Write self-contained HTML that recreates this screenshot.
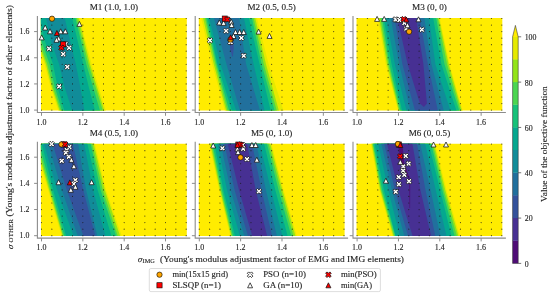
<!DOCTYPE html><html><head><meta charset="utf-8"><style>html,body{margin:0;padding:0;background:#fff;}svg{display:block;filter:blur(0.3px);}text{font-family:"Liberation Serif",serif;fill:#262626;stroke:#262626;stroke-width:0.12px;}</style></head><body>
<svg width="550" height="296" viewBox="0 0 550 296">
<rect width="550" height="296" fill="#fff"/>
<defs>
<clipPath id="c0"><rect x="40.9" y="18.1" width="145.9" height="92.3"/></clipPath>
<clipPath id="c1"><rect x="198.7" y="18.1" width="145.9" height="92.3"/></clipPath>
<clipPath id="c2"><rect x="356.5" y="18.1" width="145.9" height="92.3"/></clipPath>
<clipPath id="c3"><rect x="40.9" y="143.7" width="145.9" height="92.3"/></clipPath>
<clipPath id="c4"><rect x="198.7" y="143.7" width="145.9" height="92.3"/></clipPath>
<clipPath id="c5"><rect x="356.5" y="143.7" width="145.9" height="92.3"/></clipPath>
</defs>
<g clip-path="url(#c0)">
<rect x="40.5" y="17.5" width="146.7" height="93.6" fill="#ffec00"/>
<polygon points="26.4,13.92 28.1,18.5 36.6,41.4 44.6,64.3 50.6,87.2 58.1,110.1 59.6,114.68 106.96,114.68 105.6,110.1 98.8,87.2 91.7,64.3 85.7,41.4 79.6,18.5 78.38,13.92" fill="#e5ea00"/>
<polygon points="27.96,13.92 29.6,18.5 37.8,41.4 45.9,64.3 51.8,87.2 59.3,110.1 60.8,114.68 105.5,114.68 104.1,110.1 97.1,87.2 90,64.3 84.4,41.4 78.6,18.5 77.44,13.92" fill="#93e418"/>
<polygon points="29.5,13.92 31.1,18.5 39.1,41.4 47.3,64.3 53,87.2 60.5,110.1 62,114.68 104,114.68 102.6,110.1 95.6,87.2 88.5,64.3 82.8,41.4 76.9,18.5 75.72,13.92" fill="#4bd650"/>
<polygon points="32.6,13.92 34.1,18.5 41.6,41.4 49.6,64.3 54.9,87.2 61.9,110.1 63.3,114.68 101.14,114.68 99.8,110.1 93.1,87.2 86.3,64.3 81.1,41.4 75.5,18.5 74.38,13.92" fill="#15c279"/>
<polygon points="37.9,13.92 39.1,18.5 45.1,41.4 53,64.3 57.6,87.2 64.1,110.1 65.4,114.68 96,114.68 94.8,110.1 88.8,87.2 83.3,64.3 77.8,41.4 72.3,18.5 71.2,13.92" fill="#04a88f"/>
<polygon points="45.1,13.92 46.1,18.5 51.1,41.4 59.1,64.3 64.6,87.2 72.1,110.1 73.6,114.68 85.1,114.68 84.3,110.1 80.3,87.2 75.8,64.3 70.3,41.4 64.8,18.5 63.7,13.92" fill="#118c99"/>
</g>
<path d="M40.9 18.5a0.6 0.6 0 1 0 1.2 0a0.6 0.6 0 1 0 -1.2 0M40.9 25.04a0.6 0.6 0 1 0 1.2 0a0.6 0.6 0 1 0 -1.2 0M40.9 31.59a0.6 0.6 0 1 0 1.2 0a0.6 0.6 0 1 0 -1.2 0M40.9 38.13a0.6 0.6 0 1 0 1.2 0a0.6 0.6 0 1 0 -1.2 0M40.9 44.67a0.6 0.6 0 1 0 1.2 0a0.6 0.6 0 1 0 -1.2 0M40.9 51.21a0.6 0.6 0 1 0 1.2 0a0.6 0.6 0 1 0 -1.2 0M40.9 57.76a0.6 0.6 0 1 0 1.2 0a0.6 0.6 0 1 0 -1.2 0M40.9 64.3a0.6 0.6 0 1 0 1.2 0a0.6 0.6 0 1 0 -1.2 0M40.9 70.84a0.6 0.6 0 1 0 1.2 0a0.6 0.6 0 1 0 -1.2 0M40.9 77.39a0.6 0.6 0 1 0 1.2 0a0.6 0.6 0 1 0 -1.2 0M40.9 83.93a0.6 0.6 0 1 0 1.2 0a0.6 0.6 0 1 0 -1.2 0M40.9 90.47a0.6 0.6 0 1 0 1.2 0a0.6 0.6 0 1 0 -1.2 0M40.9 97.01a0.6 0.6 0 1 0 1.2 0a0.6 0.6 0 1 0 -1.2 0M40.9 103.56a0.6 0.6 0 1 0 1.2 0a0.6 0.6 0 1 0 -1.2 0M40.9 110.1a0.6 0.6 0 1 0 1.2 0a0.6 0.6 0 1 0 -1.2 0M51.24 18.5a0.6 0.6 0 1 0 1.2 0a0.6 0.6 0 1 0 -1.2 0M51.24 25.04a0.6 0.6 0 1 0 1.2 0a0.6 0.6 0 1 0 -1.2 0M51.24 31.59a0.6 0.6 0 1 0 1.2 0a0.6 0.6 0 1 0 -1.2 0M51.24 38.13a0.6 0.6 0 1 0 1.2 0a0.6 0.6 0 1 0 -1.2 0M51.24 44.67a0.6 0.6 0 1 0 1.2 0a0.6 0.6 0 1 0 -1.2 0M51.24 51.21a0.6 0.6 0 1 0 1.2 0a0.6 0.6 0 1 0 -1.2 0M51.24 57.76a0.6 0.6 0 1 0 1.2 0a0.6 0.6 0 1 0 -1.2 0M51.24 64.3a0.6 0.6 0 1 0 1.2 0a0.6 0.6 0 1 0 -1.2 0M51.24 70.84a0.6 0.6 0 1 0 1.2 0a0.6 0.6 0 1 0 -1.2 0M51.24 77.39a0.6 0.6 0 1 0 1.2 0a0.6 0.6 0 1 0 -1.2 0M51.24 83.93a0.6 0.6 0 1 0 1.2 0a0.6 0.6 0 1 0 -1.2 0M51.24 90.47a0.6 0.6 0 1 0 1.2 0a0.6 0.6 0 1 0 -1.2 0M51.24 97.01a0.6 0.6 0 1 0 1.2 0a0.6 0.6 0 1 0 -1.2 0M51.24 103.56a0.6 0.6 0 1 0 1.2 0a0.6 0.6 0 1 0 -1.2 0M51.24 110.1a0.6 0.6 0 1 0 1.2 0a0.6 0.6 0 1 0 -1.2 0M61.57 18.5a0.6 0.6 0 1 0 1.2 0a0.6 0.6 0 1 0 -1.2 0M61.57 25.04a0.6 0.6 0 1 0 1.2 0a0.6 0.6 0 1 0 -1.2 0M61.57 31.59a0.6 0.6 0 1 0 1.2 0a0.6 0.6 0 1 0 -1.2 0M61.57 38.13a0.6 0.6 0 1 0 1.2 0a0.6 0.6 0 1 0 -1.2 0M61.57 44.67a0.6 0.6 0 1 0 1.2 0a0.6 0.6 0 1 0 -1.2 0M61.57 51.21a0.6 0.6 0 1 0 1.2 0a0.6 0.6 0 1 0 -1.2 0M61.57 57.76a0.6 0.6 0 1 0 1.2 0a0.6 0.6 0 1 0 -1.2 0M61.57 64.3a0.6 0.6 0 1 0 1.2 0a0.6 0.6 0 1 0 -1.2 0M61.57 70.84a0.6 0.6 0 1 0 1.2 0a0.6 0.6 0 1 0 -1.2 0M61.57 77.39a0.6 0.6 0 1 0 1.2 0a0.6 0.6 0 1 0 -1.2 0M61.57 83.93a0.6 0.6 0 1 0 1.2 0a0.6 0.6 0 1 0 -1.2 0M61.57 90.47a0.6 0.6 0 1 0 1.2 0a0.6 0.6 0 1 0 -1.2 0M61.57 97.01a0.6 0.6 0 1 0 1.2 0a0.6 0.6 0 1 0 -1.2 0M61.57 103.56a0.6 0.6 0 1 0 1.2 0a0.6 0.6 0 1 0 -1.2 0M61.57 110.1a0.6 0.6 0 1 0 1.2 0a0.6 0.6 0 1 0 -1.2 0M71.91 18.5a0.6 0.6 0 1 0 1.2 0a0.6 0.6 0 1 0 -1.2 0M71.91 25.04a0.6 0.6 0 1 0 1.2 0a0.6 0.6 0 1 0 -1.2 0M71.91 31.59a0.6 0.6 0 1 0 1.2 0a0.6 0.6 0 1 0 -1.2 0M71.91 38.13a0.6 0.6 0 1 0 1.2 0a0.6 0.6 0 1 0 -1.2 0M71.91 44.67a0.6 0.6 0 1 0 1.2 0a0.6 0.6 0 1 0 -1.2 0M71.91 51.21a0.6 0.6 0 1 0 1.2 0a0.6 0.6 0 1 0 -1.2 0M71.91 57.76a0.6 0.6 0 1 0 1.2 0a0.6 0.6 0 1 0 -1.2 0M71.91 64.3a0.6 0.6 0 1 0 1.2 0a0.6 0.6 0 1 0 -1.2 0M71.91 70.84a0.6 0.6 0 1 0 1.2 0a0.6 0.6 0 1 0 -1.2 0M71.91 77.39a0.6 0.6 0 1 0 1.2 0a0.6 0.6 0 1 0 -1.2 0M71.91 83.93a0.6 0.6 0 1 0 1.2 0a0.6 0.6 0 1 0 -1.2 0M71.91 90.47a0.6 0.6 0 1 0 1.2 0a0.6 0.6 0 1 0 -1.2 0M71.91 97.01a0.6 0.6 0 1 0 1.2 0a0.6 0.6 0 1 0 -1.2 0M71.91 103.56a0.6 0.6 0 1 0 1.2 0a0.6 0.6 0 1 0 -1.2 0M71.91 110.1a0.6 0.6 0 1 0 1.2 0a0.6 0.6 0 1 0 -1.2 0M82.24 18.5a0.6 0.6 0 1 0 1.2 0a0.6 0.6 0 1 0 -1.2 0M82.24 25.04a0.6 0.6 0 1 0 1.2 0a0.6 0.6 0 1 0 -1.2 0M82.24 31.59a0.6 0.6 0 1 0 1.2 0a0.6 0.6 0 1 0 -1.2 0M82.24 38.13a0.6 0.6 0 1 0 1.2 0a0.6 0.6 0 1 0 -1.2 0M82.24 44.67a0.6 0.6 0 1 0 1.2 0a0.6 0.6 0 1 0 -1.2 0M82.24 51.21a0.6 0.6 0 1 0 1.2 0a0.6 0.6 0 1 0 -1.2 0M82.24 57.76a0.6 0.6 0 1 0 1.2 0a0.6 0.6 0 1 0 -1.2 0M82.24 64.3a0.6 0.6 0 1 0 1.2 0a0.6 0.6 0 1 0 -1.2 0M82.24 70.84a0.6 0.6 0 1 0 1.2 0a0.6 0.6 0 1 0 -1.2 0M82.24 77.39a0.6 0.6 0 1 0 1.2 0a0.6 0.6 0 1 0 -1.2 0M82.24 83.93a0.6 0.6 0 1 0 1.2 0a0.6 0.6 0 1 0 -1.2 0M82.24 90.47a0.6 0.6 0 1 0 1.2 0a0.6 0.6 0 1 0 -1.2 0M82.24 97.01a0.6 0.6 0 1 0 1.2 0a0.6 0.6 0 1 0 -1.2 0M82.24 103.56a0.6 0.6 0 1 0 1.2 0a0.6 0.6 0 1 0 -1.2 0M82.24 110.1a0.6 0.6 0 1 0 1.2 0a0.6 0.6 0 1 0 -1.2 0M92.58 18.5a0.6 0.6 0 1 0 1.2 0a0.6 0.6 0 1 0 -1.2 0M92.58 25.04a0.6 0.6 0 1 0 1.2 0a0.6 0.6 0 1 0 -1.2 0M92.58 31.59a0.6 0.6 0 1 0 1.2 0a0.6 0.6 0 1 0 -1.2 0M92.58 38.13a0.6 0.6 0 1 0 1.2 0a0.6 0.6 0 1 0 -1.2 0M92.58 44.67a0.6 0.6 0 1 0 1.2 0a0.6 0.6 0 1 0 -1.2 0M92.58 51.21a0.6 0.6 0 1 0 1.2 0a0.6 0.6 0 1 0 -1.2 0M92.58 57.76a0.6 0.6 0 1 0 1.2 0a0.6 0.6 0 1 0 -1.2 0M92.58 64.3a0.6 0.6 0 1 0 1.2 0a0.6 0.6 0 1 0 -1.2 0M92.58 70.84a0.6 0.6 0 1 0 1.2 0a0.6 0.6 0 1 0 -1.2 0M92.58 77.39a0.6 0.6 0 1 0 1.2 0a0.6 0.6 0 1 0 -1.2 0M92.58 83.93a0.6 0.6 0 1 0 1.2 0a0.6 0.6 0 1 0 -1.2 0M92.58 90.47a0.6 0.6 0 1 0 1.2 0a0.6 0.6 0 1 0 -1.2 0M92.58 97.01a0.6 0.6 0 1 0 1.2 0a0.6 0.6 0 1 0 -1.2 0M92.58 103.56a0.6 0.6 0 1 0 1.2 0a0.6 0.6 0 1 0 -1.2 0M92.58 110.1a0.6 0.6 0 1 0 1.2 0a0.6 0.6 0 1 0 -1.2 0M102.91 18.5a0.6 0.6 0 1 0 1.2 0a0.6 0.6 0 1 0 -1.2 0M102.91 25.04a0.6 0.6 0 1 0 1.2 0a0.6 0.6 0 1 0 -1.2 0M102.91 31.59a0.6 0.6 0 1 0 1.2 0a0.6 0.6 0 1 0 -1.2 0M102.91 38.13a0.6 0.6 0 1 0 1.2 0a0.6 0.6 0 1 0 -1.2 0M102.91 44.67a0.6 0.6 0 1 0 1.2 0a0.6 0.6 0 1 0 -1.2 0M102.91 51.21a0.6 0.6 0 1 0 1.2 0a0.6 0.6 0 1 0 -1.2 0M102.91 57.76a0.6 0.6 0 1 0 1.2 0a0.6 0.6 0 1 0 -1.2 0M102.91 64.3a0.6 0.6 0 1 0 1.2 0a0.6 0.6 0 1 0 -1.2 0M102.91 70.84a0.6 0.6 0 1 0 1.2 0a0.6 0.6 0 1 0 -1.2 0M102.91 77.39a0.6 0.6 0 1 0 1.2 0a0.6 0.6 0 1 0 -1.2 0M102.91 83.93a0.6 0.6 0 1 0 1.2 0a0.6 0.6 0 1 0 -1.2 0M102.91 90.47a0.6 0.6 0 1 0 1.2 0a0.6 0.6 0 1 0 -1.2 0M102.91 97.01a0.6 0.6 0 1 0 1.2 0a0.6 0.6 0 1 0 -1.2 0M102.91 103.56a0.6 0.6 0 1 0 1.2 0a0.6 0.6 0 1 0 -1.2 0M102.91 110.1a0.6 0.6 0 1 0 1.2 0a0.6 0.6 0 1 0 -1.2 0M113.25 18.5a0.6 0.6 0 1 0 1.2 0a0.6 0.6 0 1 0 -1.2 0M113.25 25.04a0.6 0.6 0 1 0 1.2 0a0.6 0.6 0 1 0 -1.2 0M113.25 31.59a0.6 0.6 0 1 0 1.2 0a0.6 0.6 0 1 0 -1.2 0M113.25 38.13a0.6 0.6 0 1 0 1.2 0a0.6 0.6 0 1 0 -1.2 0M113.25 44.67a0.6 0.6 0 1 0 1.2 0a0.6 0.6 0 1 0 -1.2 0M113.25 51.21a0.6 0.6 0 1 0 1.2 0a0.6 0.6 0 1 0 -1.2 0M113.25 57.76a0.6 0.6 0 1 0 1.2 0a0.6 0.6 0 1 0 -1.2 0M113.25 64.3a0.6 0.6 0 1 0 1.2 0a0.6 0.6 0 1 0 -1.2 0M113.25 70.84a0.6 0.6 0 1 0 1.2 0a0.6 0.6 0 1 0 -1.2 0M113.25 77.39a0.6 0.6 0 1 0 1.2 0a0.6 0.6 0 1 0 -1.2 0M113.25 83.93a0.6 0.6 0 1 0 1.2 0a0.6 0.6 0 1 0 -1.2 0M113.25 90.47a0.6 0.6 0 1 0 1.2 0a0.6 0.6 0 1 0 -1.2 0M113.25 97.01a0.6 0.6 0 1 0 1.2 0a0.6 0.6 0 1 0 -1.2 0M113.25 103.56a0.6 0.6 0 1 0 1.2 0a0.6 0.6 0 1 0 -1.2 0M113.25 110.1a0.6 0.6 0 1 0 1.2 0a0.6 0.6 0 1 0 -1.2 0M123.59 18.5a0.6 0.6 0 1 0 1.2 0a0.6 0.6 0 1 0 -1.2 0M123.59 25.04a0.6 0.6 0 1 0 1.2 0a0.6 0.6 0 1 0 -1.2 0M123.59 31.59a0.6 0.6 0 1 0 1.2 0a0.6 0.6 0 1 0 -1.2 0M123.59 38.13a0.6 0.6 0 1 0 1.2 0a0.6 0.6 0 1 0 -1.2 0M123.59 44.67a0.6 0.6 0 1 0 1.2 0a0.6 0.6 0 1 0 -1.2 0M123.59 51.21a0.6 0.6 0 1 0 1.2 0a0.6 0.6 0 1 0 -1.2 0M123.59 57.76a0.6 0.6 0 1 0 1.2 0a0.6 0.6 0 1 0 -1.2 0M123.59 64.3a0.6 0.6 0 1 0 1.2 0a0.6 0.6 0 1 0 -1.2 0M123.59 70.84a0.6 0.6 0 1 0 1.2 0a0.6 0.6 0 1 0 -1.2 0M123.59 77.39a0.6 0.6 0 1 0 1.2 0a0.6 0.6 0 1 0 -1.2 0M123.59 83.93a0.6 0.6 0 1 0 1.2 0a0.6 0.6 0 1 0 -1.2 0M123.59 90.47a0.6 0.6 0 1 0 1.2 0a0.6 0.6 0 1 0 -1.2 0M123.59 97.01a0.6 0.6 0 1 0 1.2 0a0.6 0.6 0 1 0 -1.2 0M123.59 103.56a0.6 0.6 0 1 0 1.2 0a0.6 0.6 0 1 0 -1.2 0M123.59 110.1a0.6 0.6 0 1 0 1.2 0a0.6 0.6 0 1 0 -1.2 0M133.92 18.5a0.6 0.6 0 1 0 1.2 0a0.6 0.6 0 1 0 -1.2 0M133.92 25.04a0.6 0.6 0 1 0 1.2 0a0.6 0.6 0 1 0 -1.2 0M133.92 31.59a0.6 0.6 0 1 0 1.2 0a0.6 0.6 0 1 0 -1.2 0M133.92 38.13a0.6 0.6 0 1 0 1.2 0a0.6 0.6 0 1 0 -1.2 0M133.92 44.67a0.6 0.6 0 1 0 1.2 0a0.6 0.6 0 1 0 -1.2 0M133.92 51.21a0.6 0.6 0 1 0 1.2 0a0.6 0.6 0 1 0 -1.2 0M133.92 57.76a0.6 0.6 0 1 0 1.2 0a0.6 0.6 0 1 0 -1.2 0M133.92 64.3a0.6 0.6 0 1 0 1.2 0a0.6 0.6 0 1 0 -1.2 0M133.92 70.84a0.6 0.6 0 1 0 1.2 0a0.6 0.6 0 1 0 -1.2 0M133.92 77.39a0.6 0.6 0 1 0 1.2 0a0.6 0.6 0 1 0 -1.2 0M133.92 83.93a0.6 0.6 0 1 0 1.2 0a0.6 0.6 0 1 0 -1.2 0M133.92 90.47a0.6 0.6 0 1 0 1.2 0a0.6 0.6 0 1 0 -1.2 0M133.92 97.01a0.6 0.6 0 1 0 1.2 0a0.6 0.6 0 1 0 -1.2 0M133.92 103.56a0.6 0.6 0 1 0 1.2 0a0.6 0.6 0 1 0 -1.2 0M133.92 110.1a0.6 0.6 0 1 0 1.2 0a0.6 0.6 0 1 0 -1.2 0M144.26 18.5a0.6 0.6 0 1 0 1.2 0a0.6 0.6 0 1 0 -1.2 0M144.26 25.04a0.6 0.6 0 1 0 1.2 0a0.6 0.6 0 1 0 -1.2 0M144.26 31.59a0.6 0.6 0 1 0 1.2 0a0.6 0.6 0 1 0 -1.2 0M144.26 38.13a0.6 0.6 0 1 0 1.2 0a0.6 0.6 0 1 0 -1.2 0M144.26 44.67a0.6 0.6 0 1 0 1.2 0a0.6 0.6 0 1 0 -1.2 0M144.26 51.21a0.6 0.6 0 1 0 1.2 0a0.6 0.6 0 1 0 -1.2 0M144.26 57.76a0.6 0.6 0 1 0 1.2 0a0.6 0.6 0 1 0 -1.2 0M144.26 64.3a0.6 0.6 0 1 0 1.2 0a0.6 0.6 0 1 0 -1.2 0M144.26 70.84a0.6 0.6 0 1 0 1.2 0a0.6 0.6 0 1 0 -1.2 0M144.26 77.39a0.6 0.6 0 1 0 1.2 0a0.6 0.6 0 1 0 -1.2 0M144.26 83.93a0.6 0.6 0 1 0 1.2 0a0.6 0.6 0 1 0 -1.2 0M144.26 90.47a0.6 0.6 0 1 0 1.2 0a0.6 0.6 0 1 0 -1.2 0M144.26 97.01a0.6 0.6 0 1 0 1.2 0a0.6 0.6 0 1 0 -1.2 0M144.26 103.56a0.6 0.6 0 1 0 1.2 0a0.6 0.6 0 1 0 -1.2 0M144.26 110.1a0.6 0.6 0 1 0 1.2 0a0.6 0.6 0 1 0 -1.2 0M154.59 18.5a0.6 0.6 0 1 0 1.2 0a0.6 0.6 0 1 0 -1.2 0M154.59 25.04a0.6 0.6 0 1 0 1.2 0a0.6 0.6 0 1 0 -1.2 0M154.59 31.59a0.6 0.6 0 1 0 1.2 0a0.6 0.6 0 1 0 -1.2 0M154.59 38.13a0.6 0.6 0 1 0 1.2 0a0.6 0.6 0 1 0 -1.2 0M154.59 44.67a0.6 0.6 0 1 0 1.2 0a0.6 0.6 0 1 0 -1.2 0M154.59 51.21a0.6 0.6 0 1 0 1.2 0a0.6 0.6 0 1 0 -1.2 0M154.59 57.76a0.6 0.6 0 1 0 1.2 0a0.6 0.6 0 1 0 -1.2 0M154.59 64.3a0.6 0.6 0 1 0 1.2 0a0.6 0.6 0 1 0 -1.2 0M154.59 70.84a0.6 0.6 0 1 0 1.2 0a0.6 0.6 0 1 0 -1.2 0M154.59 77.39a0.6 0.6 0 1 0 1.2 0a0.6 0.6 0 1 0 -1.2 0M154.59 83.93a0.6 0.6 0 1 0 1.2 0a0.6 0.6 0 1 0 -1.2 0M154.59 90.47a0.6 0.6 0 1 0 1.2 0a0.6 0.6 0 1 0 -1.2 0M154.59 97.01a0.6 0.6 0 1 0 1.2 0a0.6 0.6 0 1 0 -1.2 0M154.59 103.56a0.6 0.6 0 1 0 1.2 0a0.6 0.6 0 1 0 -1.2 0M154.59 110.1a0.6 0.6 0 1 0 1.2 0a0.6 0.6 0 1 0 -1.2 0M164.93 18.5a0.6 0.6 0 1 0 1.2 0a0.6 0.6 0 1 0 -1.2 0M164.93 25.04a0.6 0.6 0 1 0 1.2 0a0.6 0.6 0 1 0 -1.2 0M164.93 31.59a0.6 0.6 0 1 0 1.2 0a0.6 0.6 0 1 0 -1.2 0M164.93 38.13a0.6 0.6 0 1 0 1.2 0a0.6 0.6 0 1 0 -1.2 0M164.93 44.67a0.6 0.6 0 1 0 1.2 0a0.6 0.6 0 1 0 -1.2 0M164.93 51.21a0.6 0.6 0 1 0 1.2 0a0.6 0.6 0 1 0 -1.2 0M164.93 57.76a0.6 0.6 0 1 0 1.2 0a0.6 0.6 0 1 0 -1.2 0M164.93 64.3a0.6 0.6 0 1 0 1.2 0a0.6 0.6 0 1 0 -1.2 0M164.93 70.84a0.6 0.6 0 1 0 1.2 0a0.6 0.6 0 1 0 -1.2 0M164.93 77.39a0.6 0.6 0 1 0 1.2 0a0.6 0.6 0 1 0 -1.2 0M164.93 83.93a0.6 0.6 0 1 0 1.2 0a0.6 0.6 0 1 0 -1.2 0M164.93 90.47a0.6 0.6 0 1 0 1.2 0a0.6 0.6 0 1 0 -1.2 0M164.93 97.01a0.6 0.6 0 1 0 1.2 0a0.6 0.6 0 1 0 -1.2 0M164.93 103.56a0.6 0.6 0 1 0 1.2 0a0.6 0.6 0 1 0 -1.2 0M164.93 110.1a0.6 0.6 0 1 0 1.2 0a0.6 0.6 0 1 0 -1.2 0M175.26 18.5a0.6 0.6 0 1 0 1.2 0a0.6 0.6 0 1 0 -1.2 0M175.26 25.04a0.6 0.6 0 1 0 1.2 0a0.6 0.6 0 1 0 -1.2 0M175.26 31.59a0.6 0.6 0 1 0 1.2 0a0.6 0.6 0 1 0 -1.2 0M175.26 38.13a0.6 0.6 0 1 0 1.2 0a0.6 0.6 0 1 0 -1.2 0M175.26 44.67a0.6 0.6 0 1 0 1.2 0a0.6 0.6 0 1 0 -1.2 0M175.26 51.21a0.6 0.6 0 1 0 1.2 0a0.6 0.6 0 1 0 -1.2 0M175.26 57.76a0.6 0.6 0 1 0 1.2 0a0.6 0.6 0 1 0 -1.2 0M175.26 64.3a0.6 0.6 0 1 0 1.2 0a0.6 0.6 0 1 0 -1.2 0M175.26 70.84a0.6 0.6 0 1 0 1.2 0a0.6 0.6 0 1 0 -1.2 0M175.26 77.39a0.6 0.6 0 1 0 1.2 0a0.6 0.6 0 1 0 -1.2 0M175.26 83.93a0.6 0.6 0 1 0 1.2 0a0.6 0.6 0 1 0 -1.2 0M175.26 90.47a0.6 0.6 0 1 0 1.2 0a0.6 0.6 0 1 0 -1.2 0M175.26 97.01a0.6 0.6 0 1 0 1.2 0a0.6 0.6 0 1 0 -1.2 0M175.26 103.56a0.6 0.6 0 1 0 1.2 0a0.6 0.6 0 1 0 -1.2 0M175.26 110.1a0.6 0.6 0 1 0 1.2 0a0.6 0.6 0 1 0 -1.2 0M185.6 18.5a0.6 0.6 0 1 0 1.2 0a0.6 0.6 0 1 0 -1.2 0M185.6 25.04a0.6 0.6 0 1 0 1.2 0a0.6 0.6 0 1 0 -1.2 0M185.6 31.59a0.6 0.6 0 1 0 1.2 0a0.6 0.6 0 1 0 -1.2 0M185.6 38.13a0.6 0.6 0 1 0 1.2 0a0.6 0.6 0 1 0 -1.2 0M185.6 44.67a0.6 0.6 0 1 0 1.2 0a0.6 0.6 0 1 0 -1.2 0M185.6 51.21a0.6 0.6 0 1 0 1.2 0a0.6 0.6 0 1 0 -1.2 0M185.6 57.76a0.6 0.6 0 1 0 1.2 0a0.6 0.6 0 1 0 -1.2 0M185.6 64.3a0.6 0.6 0 1 0 1.2 0a0.6 0.6 0 1 0 -1.2 0M185.6 70.84a0.6 0.6 0 1 0 1.2 0a0.6 0.6 0 1 0 -1.2 0M185.6 77.39a0.6 0.6 0 1 0 1.2 0a0.6 0.6 0 1 0 -1.2 0M185.6 83.93a0.6 0.6 0 1 0 1.2 0a0.6 0.6 0 1 0 -1.2 0M185.6 90.47a0.6 0.6 0 1 0 1.2 0a0.6 0.6 0 1 0 -1.2 0M185.6 97.01a0.6 0.6 0 1 0 1.2 0a0.6 0.6 0 1 0 -1.2 0M185.6 103.56a0.6 0.6 0 1 0 1.2 0a0.6 0.6 0 1 0 -1.2 0M185.6 110.1a0.6 0.6 0 1 0 1.2 0a0.6 0.6 0 1 0 -1.2 0" fill="#1a1a1a" fill-opacity="0.8"/>
<path d="M37.4 16.1V112.5H190.3" stroke="#8c8c8c" stroke-width="1.1" fill="none"/>
<path d="M41.5 112.5v3.3M37.4 110.1h-3.3M82.84 112.5v3.3M37.4 83.93h-3.3M124.19 112.5v3.3M37.4 57.76h-3.3M165.53 112.5v3.3M37.4 31.59h-3.3" stroke="#8c8c8c" stroke-width="1" fill="none"/>
<text x="41.5" y="124.8" font-size="7.4" text-anchor="middle" textLength="10" lengthAdjust="spacingAndGlyphs">1.0</text>
<text x="82.84" y="124.8" font-size="7.4" text-anchor="middle" textLength="10" lengthAdjust="spacingAndGlyphs">1.2</text>
<text x="124.19" y="124.8" font-size="7.4" text-anchor="middle" textLength="10" lengthAdjust="spacingAndGlyphs">1.4</text>
<text x="165.53" y="124.8" font-size="7.4" text-anchor="middle" textLength="10" lengthAdjust="spacingAndGlyphs">1.6</text>
<text x="29.4" y="112.85" font-size="7.4" text-anchor="end" textLength="9.8" lengthAdjust="spacingAndGlyphs">1.0</text>
<text x="29.4" y="86.68" font-size="7.4" text-anchor="end" textLength="9.8" lengthAdjust="spacingAndGlyphs">1.2</text>
<text x="29.4" y="60.51" font-size="7.4" text-anchor="end" textLength="9.8" lengthAdjust="spacingAndGlyphs">1.4</text>
<text x="29.4" y="34.34" font-size="7.4" text-anchor="end" textLength="9.8" lengthAdjust="spacingAndGlyphs">1.6</text>
<text x="113.85" y="10.2" font-size="7.6" text-anchor="middle" textLength="48.4" lengthAdjust="spacingAndGlyphs">M1 (1.0, 1.0)</text>
<g clip-path="url(#c1)">
<rect x="198.3" y="17.5" width="146.7" height="93.6" fill="#ffec00"/>
<polygon points="200.16,13.92 201.9,21.25 212.1,64.3 224.2,108.27 225.96,114.68 284.86,114.68 282.8,108.27 268.7,64.3 257.8,21.25 255.94,13.92" fill="#e5ea00"/>
<polygon points="202.1,13.92 203.8,21.25 213.8,64.3 225.5,108.27 227.21,114.68 279.98,114.68 278.2,108.27 266,64.3 256,21.25 254.3,13.92" fill="#93e418"/>
<polygon points="203.93,13.92 205.6,21.25 215.4,64.3 226.9,108.27 228.58,114.68 277.89,114.68 276.1,108.27 263.8,64.3 254.3,21.25 252.68,13.92" fill="#4bd650"/>
<polygon points="205.25,13.92 206.9,21.25 216.6,64.3 228.5,108.27 230.24,114.68 275.69,114.68 273.9,108.27 261.6,64.3 252.6,21.25 251.07,13.92" fill="#15c279"/>
<polygon points="206.85,13.92 208.4,21.25 217.5,64.3 231.1,108.27 233.08,114.68 271.63,114.68 270.1,108.27 259.6,64.3 249.6,21.25 247.9,13.92" fill="#04a88f"/>
<polygon points="208.21,13.92 210,21.25 220.5,64.3 235.4,108.27 237.57,114.68 265.52,114.68 264,108.27 253.6,64.3 244.6,21.25 243.07,13.92" fill="#118c99"/>
<polygon points="212.81,13.92 214.8,21.25 226.5,64.3 239.3,108.27 241.17,114.68 261.23,114.68 259.3,108.27 246.1,64.3 239.6,21.25 238.49,13.92" fill="#21709d"/>
<polygon points="229.9,37.5 233.3,37.5 233.7,48.5 232.9,56.5 232.3,56.5 230,48.5" fill="#34529c"/>
</g>
<path d="M198.7 18.5a0.6 0.6 0 1 0 1.2 0a0.6 0.6 0 1 0 -1.2 0M198.7 25.04a0.6 0.6 0 1 0 1.2 0a0.6 0.6 0 1 0 -1.2 0M198.7 31.59a0.6 0.6 0 1 0 1.2 0a0.6 0.6 0 1 0 -1.2 0M198.7 38.13a0.6 0.6 0 1 0 1.2 0a0.6 0.6 0 1 0 -1.2 0M198.7 44.67a0.6 0.6 0 1 0 1.2 0a0.6 0.6 0 1 0 -1.2 0M198.7 51.21a0.6 0.6 0 1 0 1.2 0a0.6 0.6 0 1 0 -1.2 0M198.7 57.76a0.6 0.6 0 1 0 1.2 0a0.6 0.6 0 1 0 -1.2 0M198.7 64.3a0.6 0.6 0 1 0 1.2 0a0.6 0.6 0 1 0 -1.2 0M198.7 70.84a0.6 0.6 0 1 0 1.2 0a0.6 0.6 0 1 0 -1.2 0M198.7 77.39a0.6 0.6 0 1 0 1.2 0a0.6 0.6 0 1 0 -1.2 0M198.7 83.93a0.6 0.6 0 1 0 1.2 0a0.6 0.6 0 1 0 -1.2 0M198.7 90.47a0.6 0.6 0 1 0 1.2 0a0.6 0.6 0 1 0 -1.2 0M198.7 97.01a0.6 0.6 0 1 0 1.2 0a0.6 0.6 0 1 0 -1.2 0M198.7 103.56a0.6 0.6 0 1 0 1.2 0a0.6 0.6 0 1 0 -1.2 0M198.7 110.1a0.6 0.6 0 1 0 1.2 0a0.6 0.6 0 1 0 -1.2 0M209.04 18.5a0.6 0.6 0 1 0 1.2 0a0.6 0.6 0 1 0 -1.2 0M209.04 25.04a0.6 0.6 0 1 0 1.2 0a0.6 0.6 0 1 0 -1.2 0M209.04 31.59a0.6 0.6 0 1 0 1.2 0a0.6 0.6 0 1 0 -1.2 0M209.04 38.13a0.6 0.6 0 1 0 1.2 0a0.6 0.6 0 1 0 -1.2 0M209.04 44.67a0.6 0.6 0 1 0 1.2 0a0.6 0.6 0 1 0 -1.2 0M209.04 51.21a0.6 0.6 0 1 0 1.2 0a0.6 0.6 0 1 0 -1.2 0M209.04 57.76a0.6 0.6 0 1 0 1.2 0a0.6 0.6 0 1 0 -1.2 0M209.04 64.3a0.6 0.6 0 1 0 1.2 0a0.6 0.6 0 1 0 -1.2 0M209.04 70.84a0.6 0.6 0 1 0 1.2 0a0.6 0.6 0 1 0 -1.2 0M209.04 77.39a0.6 0.6 0 1 0 1.2 0a0.6 0.6 0 1 0 -1.2 0M209.04 83.93a0.6 0.6 0 1 0 1.2 0a0.6 0.6 0 1 0 -1.2 0M209.04 90.47a0.6 0.6 0 1 0 1.2 0a0.6 0.6 0 1 0 -1.2 0M209.04 97.01a0.6 0.6 0 1 0 1.2 0a0.6 0.6 0 1 0 -1.2 0M209.04 103.56a0.6 0.6 0 1 0 1.2 0a0.6 0.6 0 1 0 -1.2 0M209.04 110.1a0.6 0.6 0 1 0 1.2 0a0.6 0.6 0 1 0 -1.2 0M219.37 18.5a0.6 0.6 0 1 0 1.2 0a0.6 0.6 0 1 0 -1.2 0M219.37 25.04a0.6 0.6 0 1 0 1.2 0a0.6 0.6 0 1 0 -1.2 0M219.37 31.59a0.6 0.6 0 1 0 1.2 0a0.6 0.6 0 1 0 -1.2 0M219.37 38.13a0.6 0.6 0 1 0 1.2 0a0.6 0.6 0 1 0 -1.2 0M219.37 44.67a0.6 0.6 0 1 0 1.2 0a0.6 0.6 0 1 0 -1.2 0M219.37 51.21a0.6 0.6 0 1 0 1.2 0a0.6 0.6 0 1 0 -1.2 0M219.37 57.76a0.6 0.6 0 1 0 1.2 0a0.6 0.6 0 1 0 -1.2 0M219.37 64.3a0.6 0.6 0 1 0 1.2 0a0.6 0.6 0 1 0 -1.2 0M219.37 70.84a0.6 0.6 0 1 0 1.2 0a0.6 0.6 0 1 0 -1.2 0M219.37 77.39a0.6 0.6 0 1 0 1.2 0a0.6 0.6 0 1 0 -1.2 0M219.37 83.93a0.6 0.6 0 1 0 1.2 0a0.6 0.6 0 1 0 -1.2 0M219.37 90.47a0.6 0.6 0 1 0 1.2 0a0.6 0.6 0 1 0 -1.2 0M219.37 97.01a0.6 0.6 0 1 0 1.2 0a0.6 0.6 0 1 0 -1.2 0M219.37 103.56a0.6 0.6 0 1 0 1.2 0a0.6 0.6 0 1 0 -1.2 0M219.37 110.1a0.6 0.6 0 1 0 1.2 0a0.6 0.6 0 1 0 -1.2 0M229.71 18.5a0.6 0.6 0 1 0 1.2 0a0.6 0.6 0 1 0 -1.2 0M229.71 25.04a0.6 0.6 0 1 0 1.2 0a0.6 0.6 0 1 0 -1.2 0M229.71 31.59a0.6 0.6 0 1 0 1.2 0a0.6 0.6 0 1 0 -1.2 0M229.71 38.13a0.6 0.6 0 1 0 1.2 0a0.6 0.6 0 1 0 -1.2 0M229.71 44.67a0.6 0.6 0 1 0 1.2 0a0.6 0.6 0 1 0 -1.2 0M229.71 51.21a0.6 0.6 0 1 0 1.2 0a0.6 0.6 0 1 0 -1.2 0M229.71 57.76a0.6 0.6 0 1 0 1.2 0a0.6 0.6 0 1 0 -1.2 0M229.71 64.3a0.6 0.6 0 1 0 1.2 0a0.6 0.6 0 1 0 -1.2 0M229.71 70.84a0.6 0.6 0 1 0 1.2 0a0.6 0.6 0 1 0 -1.2 0M229.71 77.39a0.6 0.6 0 1 0 1.2 0a0.6 0.6 0 1 0 -1.2 0M229.71 83.93a0.6 0.6 0 1 0 1.2 0a0.6 0.6 0 1 0 -1.2 0M229.71 90.47a0.6 0.6 0 1 0 1.2 0a0.6 0.6 0 1 0 -1.2 0M229.71 97.01a0.6 0.6 0 1 0 1.2 0a0.6 0.6 0 1 0 -1.2 0M229.71 103.56a0.6 0.6 0 1 0 1.2 0a0.6 0.6 0 1 0 -1.2 0M229.71 110.1a0.6 0.6 0 1 0 1.2 0a0.6 0.6 0 1 0 -1.2 0M240.04 18.5a0.6 0.6 0 1 0 1.2 0a0.6 0.6 0 1 0 -1.2 0M240.04 25.04a0.6 0.6 0 1 0 1.2 0a0.6 0.6 0 1 0 -1.2 0M240.04 31.59a0.6 0.6 0 1 0 1.2 0a0.6 0.6 0 1 0 -1.2 0M240.04 38.13a0.6 0.6 0 1 0 1.2 0a0.6 0.6 0 1 0 -1.2 0M240.04 44.67a0.6 0.6 0 1 0 1.2 0a0.6 0.6 0 1 0 -1.2 0M240.04 51.21a0.6 0.6 0 1 0 1.2 0a0.6 0.6 0 1 0 -1.2 0M240.04 57.76a0.6 0.6 0 1 0 1.2 0a0.6 0.6 0 1 0 -1.2 0M240.04 64.3a0.6 0.6 0 1 0 1.2 0a0.6 0.6 0 1 0 -1.2 0M240.04 70.84a0.6 0.6 0 1 0 1.2 0a0.6 0.6 0 1 0 -1.2 0M240.04 77.39a0.6 0.6 0 1 0 1.2 0a0.6 0.6 0 1 0 -1.2 0M240.04 83.93a0.6 0.6 0 1 0 1.2 0a0.6 0.6 0 1 0 -1.2 0M240.04 90.47a0.6 0.6 0 1 0 1.2 0a0.6 0.6 0 1 0 -1.2 0M240.04 97.01a0.6 0.6 0 1 0 1.2 0a0.6 0.6 0 1 0 -1.2 0M240.04 103.56a0.6 0.6 0 1 0 1.2 0a0.6 0.6 0 1 0 -1.2 0M240.04 110.1a0.6 0.6 0 1 0 1.2 0a0.6 0.6 0 1 0 -1.2 0M250.38 18.5a0.6 0.6 0 1 0 1.2 0a0.6 0.6 0 1 0 -1.2 0M250.38 25.04a0.6 0.6 0 1 0 1.2 0a0.6 0.6 0 1 0 -1.2 0M250.38 31.59a0.6 0.6 0 1 0 1.2 0a0.6 0.6 0 1 0 -1.2 0M250.38 38.13a0.6 0.6 0 1 0 1.2 0a0.6 0.6 0 1 0 -1.2 0M250.38 44.67a0.6 0.6 0 1 0 1.2 0a0.6 0.6 0 1 0 -1.2 0M250.38 51.21a0.6 0.6 0 1 0 1.2 0a0.6 0.6 0 1 0 -1.2 0M250.38 57.76a0.6 0.6 0 1 0 1.2 0a0.6 0.6 0 1 0 -1.2 0M250.38 64.3a0.6 0.6 0 1 0 1.2 0a0.6 0.6 0 1 0 -1.2 0M250.38 70.84a0.6 0.6 0 1 0 1.2 0a0.6 0.6 0 1 0 -1.2 0M250.38 77.39a0.6 0.6 0 1 0 1.2 0a0.6 0.6 0 1 0 -1.2 0M250.38 83.93a0.6 0.6 0 1 0 1.2 0a0.6 0.6 0 1 0 -1.2 0M250.38 90.47a0.6 0.6 0 1 0 1.2 0a0.6 0.6 0 1 0 -1.2 0M250.38 97.01a0.6 0.6 0 1 0 1.2 0a0.6 0.6 0 1 0 -1.2 0M250.38 103.56a0.6 0.6 0 1 0 1.2 0a0.6 0.6 0 1 0 -1.2 0M250.38 110.1a0.6 0.6 0 1 0 1.2 0a0.6 0.6 0 1 0 -1.2 0M260.71 18.5a0.6 0.6 0 1 0 1.2 0a0.6 0.6 0 1 0 -1.2 0M260.71 25.04a0.6 0.6 0 1 0 1.2 0a0.6 0.6 0 1 0 -1.2 0M260.71 31.59a0.6 0.6 0 1 0 1.2 0a0.6 0.6 0 1 0 -1.2 0M260.71 38.13a0.6 0.6 0 1 0 1.2 0a0.6 0.6 0 1 0 -1.2 0M260.71 44.67a0.6 0.6 0 1 0 1.2 0a0.6 0.6 0 1 0 -1.2 0M260.71 51.21a0.6 0.6 0 1 0 1.2 0a0.6 0.6 0 1 0 -1.2 0M260.71 57.76a0.6 0.6 0 1 0 1.2 0a0.6 0.6 0 1 0 -1.2 0M260.71 64.3a0.6 0.6 0 1 0 1.2 0a0.6 0.6 0 1 0 -1.2 0M260.71 70.84a0.6 0.6 0 1 0 1.2 0a0.6 0.6 0 1 0 -1.2 0M260.71 77.39a0.6 0.6 0 1 0 1.2 0a0.6 0.6 0 1 0 -1.2 0M260.71 83.93a0.6 0.6 0 1 0 1.2 0a0.6 0.6 0 1 0 -1.2 0M260.71 90.47a0.6 0.6 0 1 0 1.2 0a0.6 0.6 0 1 0 -1.2 0M260.71 97.01a0.6 0.6 0 1 0 1.2 0a0.6 0.6 0 1 0 -1.2 0M260.71 103.56a0.6 0.6 0 1 0 1.2 0a0.6 0.6 0 1 0 -1.2 0M260.71 110.1a0.6 0.6 0 1 0 1.2 0a0.6 0.6 0 1 0 -1.2 0M271.05 18.5a0.6 0.6 0 1 0 1.2 0a0.6 0.6 0 1 0 -1.2 0M271.05 25.04a0.6 0.6 0 1 0 1.2 0a0.6 0.6 0 1 0 -1.2 0M271.05 31.59a0.6 0.6 0 1 0 1.2 0a0.6 0.6 0 1 0 -1.2 0M271.05 38.13a0.6 0.6 0 1 0 1.2 0a0.6 0.6 0 1 0 -1.2 0M271.05 44.67a0.6 0.6 0 1 0 1.2 0a0.6 0.6 0 1 0 -1.2 0M271.05 51.21a0.6 0.6 0 1 0 1.2 0a0.6 0.6 0 1 0 -1.2 0M271.05 57.76a0.6 0.6 0 1 0 1.2 0a0.6 0.6 0 1 0 -1.2 0M271.05 64.3a0.6 0.6 0 1 0 1.2 0a0.6 0.6 0 1 0 -1.2 0M271.05 70.84a0.6 0.6 0 1 0 1.2 0a0.6 0.6 0 1 0 -1.2 0M271.05 77.39a0.6 0.6 0 1 0 1.2 0a0.6 0.6 0 1 0 -1.2 0M271.05 83.93a0.6 0.6 0 1 0 1.2 0a0.6 0.6 0 1 0 -1.2 0M271.05 90.47a0.6 0.6 0 1 0 1.2 0a0.6 0.6 0 1 0 -1.2 0M271.05 97.01a0.6 0.6 0 1 0 1.2 0a0.6 0.6 0 1 0 -1.2 0M271.05 103.56a0.6 0.6 0 1 0 1.2 0a0.6 0.6 0 1 0 -1.2 0M271.05 110.1a0.6 0.6 0 1 0 1.2 0a0.6 0.6 0 1 0 -1.2 0M281.39 18.5a0.6 0.6 0 1 0 1.2 0a0.6 0.6 0 1 0 -1.2 0M281.39 25.04a0.6 0.6 0 1 0 1.2 0a0.6 0.6 0 1 0 -1.2 0M281.39 31.59a0.6 0.6 0 1 0 1.2 0a0.6 0.6 0 1 0 -1.2 0M281.39 38.13a0.6 0.6 0 1 0 1.2 0a0.6 0.6 0 1 0 -1.2 0M281.39 44.67a0.6 0.6 0 1 0 1.2 0a0.6 0.6 0 1 0 -1.2 0M281.39 51.21a0.6 0.6 0 1 0 1.2 0a0.6 0.6 0 1 0 -1.2 0M281.39 57.76a0.6 0.6 0 1 0 1.2 0a0.6 0.6 0 1 0 -1.2 0M281.39 64.3a0.6 0.6 0 1 0 1.2 0a0.6 0.6 0 1 0 -1.2 0M281.39 70.84a0.6 0.6 0 1 0 1.2 0a0.6 0.6 0 1 0 -1.2 0M281.39 77.39a0.6 0.6 0 1 0 1.2 0a0.6 0.6 0 1 0 -1.2 0M281.39 83.93a0.6 0.6 0 1 0 1.2 0a0.6 0.6 0 1 0 -1.2 0M281.39 90.47a0.6 0.6 0 1 0 1.2 0a0.6 0.6 0 1 0 -1.2 0M281.39 97.01a0.6 0.6 0 1 0 1.2 0a0.6 0.6 0 1 0 -1.2 0M281.39 103.56a0.6 0.6 0 1 0 1.2 0a0.6 0.6 0 1 0 -1.2 0M281.39 110.1a0.6 0.6 0 1 0 1.2 0a0.6 0.6 0 1 0 -1.2 0M291.72 18.5a0.6 0.6 0 1 0 1.2 0a0.6 0.6 0 1 0 -1.2 0M291.72 25.04a0.6 0.6 0 1 0 1.2 0a0.6 0.6 0 1 0 -1.2 0M291.72 31.59a0.6 0.6 0 1 0 1.2 0a0.6 0.6 0 1 0 -1.2 0M291.72 38.13a0.6 0.6 0 1 0 1.2 0a0.6 0.6 0 1 0 -1.2 0M291.72 44.67a0.6 0.6 0 1 0 1.2 0a0.6 0.6 0 1 0 -1.2 0M291.72 51.21a0.6 0.6 0 1 0 1.2 0a0.6 0.6 0 1 0 -1.2 0M291.72 57.76a0.6 0.6 0 1 0 1.2 0a0.6 0.6 0 1 0 -1.2 0M291.72 64.3a0.6 0.6 0 1 0 1.2 0a0.6 0.6 0 1 0 -1.2 0M291.72 70.84a0.6 0.6 0 1 0 1.2 0a0.6 0.6 0 1 0 -1.2 0M291.72 77.39a0.6 0.6 0 1 0 1.2 0a0.6 0.6 0 1 0 -1.2 0M291.72 83.93a0.6 0.6 0 1 0 1.2 0a0.6 0.6 0 1 0 -1.2 0M291.72 90.47a0.6 0.6 0 1 0 1.2 0a0.6 0.6 0 1 0 -1.2 0M291.72 97.01a0.6 0.6 0 1 0 1.2 0a0.6 0.6 0 1 0 -1.2 0M291.72 103.56a0.6 0.6 0 1 0 1.2 0a0.6 0.6 0 1 0 -1.2 0M291.72 110.1a0.6 0.6 0 1 0 1.2 0a0.6 0.6 0 1 0 -1.2 0M302.06 18.5a0.6 0.6 0 1 0 1.2 0a0.6 0.6 0 1 0 -1.2 0M302.06 25.04a0.6 0.6 0 1 0 1.2 0a0.6 0.6 0 1 0 -1.2 0M302.06 31.59a0.6 0.6 0 1 0 1.2 0a0.6 0.6 0 1 0 -1.2 0M302.06 38.13a0.6 0.6 0 1 0 1.2 0a0.6 0.6 0 1 0 -1.2 0M302.06 44.67a0.6 0.6 0 1 0 1.2 0a0.6 0.6 0 1 0 -1.2 0M302.06 51.21a0.6 0.6 0 1 0 1.2 0a0.6 0.6 0 1 0 -1.2 0M302.06 57.76a0.6 0.6 0 1 0 1.2 0a0.6 0.6 0 1 0 -1.2 0M302.06 64.3a0.6 0.6 0 1 0 1.2 0a0.6 0.6 0 1 0 -1.2 0M302.06 70.84a0.6 0.6 0 1 0 1.2 0a0.6 0.6 0 1 0 -1.2 0M302.06 77.39a0.6 0.6 0 1 0 1.2 0a0.6 0.6 0 1 0 -1.2 0M302.06 83.93a0.6 0.6 0 1 0 1.2 0a0.6 0.6 0 1 0 -1.2 0M302.06 90.47a0.6 0.6 0 1 0 1.2 0a0.6 0.6 0 1 0 -1.2 0M302.06 97.01a0.6 0.6 0 1 0 1.2 0a0.6 0.6 0 1 0 -1.2 0M302.06 103.56a0.6 0.6 0 1 0 1.2 0a0.6 0.6 0 1 0 -1.2 0M302.06 110.1a0.6 0.6 0 1 0 1.2 0a0.6 0.6 0 1 0 -1.2 0M312.39 18.5a0.6 0.6 0 1 0 1.2 0a0.6 0.6 0 1 0 -1.2 0M312.39 25.04a0.6 0.6 0 1 0 1.2 0a0.6 0.6 0 1 0 -1.2 0M312.39 31.59a0.6 0.6 0 1 0 1.2 0a0.6 0.6 0 1 0 -1.2 0M312.39 38.13a0.6 0.6 0 1 0 1.2 0a0.6 0.6 0 1 0 -1.2 0M312.39 44.67a0.6 0.6 0 1 0 1.2 0a0.6 0.6 0 1 0 -1.2 0M312.39 51.21a0.6 0.6 0 1 0 1.2 0a0.6 0.6 0 1 0 -1.2 0M312.39 57.76a0.6 0.6 0 1 0 1.2 0a0.6 0.6 0 1 0 -1.2 0M312.39 64.3a0.6 0.6 0 1 0 1.2 0a0.6 0.6 0 1 0 -1.2 0M312.39 70.84a0.6 0.6 0 1 0 1.2 0a0.6 0.6 0 1 0 -1.2 0M312.39 77.39a0.6 0.6 0 1 0 1.2 0a0.6 0.6 0 1 0 -1.2 0M312.39 83.93a0.6 0.6 0 1 0 1.2 0a0.6 0.6 0 1 0 -1.2 0M312.39 90.47a0.6 0.6 0 1 0 1.2 0a0.6 0.6 0 1 0 -1.2 0M312.39 97.01a0.6 0.6 0 1 0 1.2 0a0.6 0.6 0 1 0 -1.2 0M312.39 103.56a0.6 0.6 0 1 0 1.2 0a0.6 0.6 0 1 0 -1.2 0M312.39 110.1a0.6 0.6 0 1 0 1.2 0a0.6 0.6 0 1 0 -1.2 0M322.73 18.5a0.6 0.6 0 1 0 1.2 0a0.6 0.6 0 1 0 -1.2 0M322.73 25.04a0.6 0.6 0 1 0 1.2 0a0.6 0.6 0 1 0 -1.2 0M322.73 31.59a0.6 0.6 0 1 0 1.2 0a0.6 0.6 0 1 0 -1.2 0M322.73 38.13a0.6 0.6 0 1 0 1.2 0a0.6 0.6 0 1 0 -1.2 0M322.73 44.67a0.6 0.6 0 1 0 1.2 0a0.6 0.6 0 1 0 -1.2 0M322.73 51.21a0.6 0.6 0 1 0 1.2 0a0.6 0.6 0 1 0 -1.2 0M322.73 57.76a0.6 0.6 0 1 0 1.2 0a0.6 0.6 0 1 0 -1.2 0M322.73 64.3a0.6 0.6 0 1 0 1.2 0a0.6 0.6 0 1 0 -1.2 0M322.73 70.84a0.6 0.6 0 1 0 1.2 0a0.6 0.6 0 1 0 -1.2 0M322.73 77.39a0.6 0.6 0 1 0 1.2 0a0.6 0.6 0 1 0 -1.2 0M322.73 83.93a0.6 0.6 0 1 0 1.2 0a0.6 0.6 0 1 0 -1.2 0M322.73 90.47a0.6 0.6 0 1 0 1.2 0a0.6 0.6 0 1 0 -1.2 0M322.73 97.01a0.6 0.6 0 1 0 1.2 0a0.6 0.6 0 1 0 -1.2 0M322.73 103.56a0.6 0.6 0 1 0 1.2 0a0.6 0.6 0 1 0 -1.2 0M322.73 110.1a0.6 0.6 0 1 0 1.2 0a0.6 0.6 0 1 0 -1.2 0M333.06 18.5a0.6 0.6 0 1 0 1.2 0a0.6 0.6 0 1 0 -1.2 0M333.06 25.04a0.6 0.6 0 1 0 1.2 0a0.6 0.6 0 1 0 -1.2 0M333.06 31.59a0.6 0.6 0 1 0 1.2 0a0.6 0.6 0 1 0 -1.2 0M333.06 38.13a0.6 0.6 0 1 0 1.2 0a0.6 0.6 0 1 0 -1.2 0M333.06 44.67a0.6 0.6 0 1 0 1.2 0a0.6 0.6 0 1 0 -1.2 0M333.06 51.21a0.6 0.6 0 1 0 1.2 0a0.6 0.6 0 1 0 -1.2 0M333.06 57.76a0.6 0.6 0 1 0 1.2 0a0.6 0.6 0 1 0 -1.2 0M333.06 64.3a0.6 0.6 0 1 0 1.2 0a0.6 0.6 0 1 0 -1.2 0M333.06 70.84a0.6 0.6 0 1 0 1.2 0a0.6 0.6 0 1 0 -1.2 0M333.06 77.39a0.6 0.6 0 1 0 1.2 0a0.6 0.6 0 1 0 -1.2 0M333.06 83.93a0.6 0.6 0 1 0 1.2 0a0.6 0.6 0 1 0 -1.2 0M333.06 90.47a0.6 0.6 0 1 0 1.2 0a0.6 0.6 0 1 0 -1.2 0M333.06 97.01a0.6 0.6 0 1 0 1.2 0a0.6 0.6 0 1 0 -1.2 0M333.06 103.56a0.6 0.6 0 1 0 1.2 0a0.6 0.6 0 1 0 -1.2 0M333.06 110.1a0.6 0.6 0 1 0 1.2 0a0.6 0.6 0 1 0 -1.2 0M343.4 18.5a0.6 0.6 0 1 0 1.2 0a0.6 0.6 0 1 0 -1.2 0M343.4 25.04a0.6 0.6 0 1 0 1.2 0a0.6 0.6 0 1 0 -1.2 0M343.4 31.59a0.6 0.6 0 1 0 1.2 0a0.6 0.6 0 1 0 -1.2 0M343.4 38.13a0.6 0.6 0 1 0 1.2 0a0.6 0.6 0 1 0 -1.2 0M343.4 44.67a0.6 0.6 0 1 0 1.2 0a0.6 0.6 0 1 0 -1.2 0M343.4 51.21a0.6 0.6 0 1 0 1.2 0a0.6 0.6 0 1 0 -1.2 0M343.4 57.76a0.6 0.6 0 1 0 1.2 0a0.6 0.6 0 1 0 -1.2 0M343.4 64.3a0.6 0.6 0 1 0 1.2 0a0.6 0.6 0 1 0 -1.2 0M343.4 70.84a0.6 0.6 0 1 0 1.2 0a0.6 0.6 0 1 0 -1.2 0M343.4 77.39a0.6 0.6 0 1 0 1.2 0a0.6 0.6 0 1 0 -1.2 0M343.4 83.93a0.6 0.6 0 1 0 1.2 0a0.6 0.6 0 1 0 -1.2 0M343.4 90.47a0.6 0.6 0 1 0 1.2 0a0.6 0.6 0 1 0 -1.2 0M343.4 97.01a0.6 0.6 0 1 0 1.2 0a0.6 0.6 0 1 0 -1.2 0M343.4 103.56a0.6 0.6 0 1 0 1.2 0a0.6 0.6 0 1 0 -1.2 0M343.4 110.1a0.6 0.6 0 1 0 1.2 0a0.6 0.6 0 1 0 -1.2 0" fill="#1a1a1a" fill-opacity="0.8"/>
<path d="M195.2 16.1V112.5H348.1" stroke="#8c8c8c" stroke-width="1.1" fill="none"/>
<path d="M199.3 112.5v3.3M195.2 110.1h-3.3M240.64 112.5v3.3M195.2 83.93h-3.3M281.99 112.5v3.3M195.2 57.76h-3.3M323.33 112.5v3.3M195.2 31.59h-3.3" stroke="#8c8c8c" stroke-width="1" fill="none"/>
<text x="199.3" y="124.8" font-size="7.4" text-anchor="middle" textLength="10" lengthAdjust="spacingAndGlyphs">1.0</text>
<text x="240.64" y="124.8" font-size="7.4" text-anchor="middle" textLength="10" lengthAdjust="spacingAndGlyphs">1.2</text>
<text x="281.99" y="124.8" font-size="7.4" text-anchor="middle" textLength="10" lengthAdjust="spacingAndGlyphs">1.4</text>
<text x="323.33" y="124.8" font-size="7.4" text-anchor="middle" textLength="10" lengthAdjust="spacingAndGlyphs">1.6</text>
<text x="271.65" y="10.2" font-size="7.6" text-anchor="middle" textLength="48.4" lengthAdjust="spacingAndGlyphs">M2 (0.5, 0.5)</text>
<g clip-path="url(#c2)">
<rect x="356.1" y="17.5" width="146.7" height="93.6" fill="#ffec00"/>
<polygon points="377.13,13.92 379,24.91 385.7,64.3 396.3,103.69 399.26,114.68 463.8,114.68 460.7,103.69 449.6,64.3 441.2,24.91 438.86,13.92" fill="#e5ea00"/>
<polygon points="378.43,13.92 380.3,24.91 387,64.3 397,103.69 399.79,114.68 463.05,114.68 459.9,103.69 448.6,64.3 440.3,24.91 437.98,13.92" fill="#93e418"/>
<polygon points="379.73,13.92 381.6,24.91 388.3,64.3 397.8,103.69 400.45,114.68 461.84,114.68 458.6,103.69 447,64.3 439.1,24.91 436.9,13.92" fill="#4bd650"/>
<polygon points="381.47,13.92 383.2,24.91 389.4,64.3 398.9,103.69 401.55,114.68 460.49,114.68 457,103.69 444.5,64.3 437.4,24.91 435.42,13.92" fill="#15c279"/>
<polygon points="383.03,13.92 384.9,24.91 391.6,64.3 400.5,103.69 402.98,114.68 457.77,114.68 454.2,103.69 441.4,64.3 434.4,24.91 432.45,13.92" fill="#04a88f"/>
<polygon points="385.56,13.92 387.6,24.91 394.9,64.3 404.8,103.69 407.56,114.68 451.77,114.68 448.2,103.69 435.4,64.3 429.9,24.91 428.37,13.92" fill="#118c99"/>
<polygon points="389.99,13.92 392,24.91 399.2,64.3 408.7,103.69 411.35,114.68 444.83,114.68 441.9,103.69 431.4,64.3 425.4,24.91 423.73,13.92" fill="#21709d"/>
<polygon points="393.83,13.92 395.7,24.91 402.4,64.3 413.1,103.69 416.09,114.68 438.77,114.68 436.4,103.69 427.9,64.3 420.9,24.91 418.95,13.92" fill="#34529c"/>
<polygon points="396.9,16.5 415.9,16.5 423.4,64.3 426.9,103.5 423.9,107 419.9,103.5 407.7,64.3" fill="#473093"/>
</g>
<path d="M356.5 18.5a0.6 0.6 0 1 0 1.2 0a0.6 0.6 0 1 0 -1.2 0M356.5 25.04a0.6 0.6 0 1 0 1.2 0a0.6 0.6 0 1 0 -1.2 0M356.5 31.59a0.6 0.6 0 1 0 1.2 0a0.6 0.6 0 1 0 -1.2 0M356.5 38.13a0.6 0.6 0 1 0 1.2 0a0.6 0.6 0 1 0 -1.2 0M356.5 44.67a0.6 0.6 0 1 0 1.2 0a0.6 0.6 0 1 0 -1.2 0M356.5 51.21a0.6 0.6 0 1 0 1.2 0a0.6 0.6 0 1 0 -1.2 0M356.5 57.76a0.6 0.6 0 1 0 1.2 0a0.6 0.6 0 1 0 -1.2 0M356.5 64.3a0.6 0.6 0 1 0 1.2 0a0.6 0.6 0 1 0 -1.2 0M356.5 70.84a0.6 0.6 0 1 0 1.2 0a0.6 0.6 0 1 0 -1.2 0M356.5 77.39a0.6 0.6 0 1 0 1.2 0a0.6 0.6 0 1 0 -1.2 0M356.5 83.93a0.6 0.6 0 1 0 1.2 0a0.6 0.6 0 1 0 -1.2 0M356.5 90.47a0.6 0.6 0 1 0 1.2 0a0.6 0.6 0 1 0 -1.2 0M356.5 97.01a0.6 0.6 0 1 0 1.2 0a0.6 0.6 0 1 0 -1.2 0M356.5 103.56a0.6 0.6 0 1 0 1.2 0a0.6 0.6 0 1 0 -1.2 0M356.5 110.1a0.6 0.6 0 1 0 1.2 0a0.6 0.6 0 1 0 -1.2 0M366.84 18.5a0.6 0.6 0 1 0 1.2 0a0.6 0.6 0 1 0 -1.2 0M366.84 25.04a0.6 0.6 0 1 0 1.2 0a0.6 0.6 0 1 0 -1.2 0M366.84 31.59a0.6 0.6 0 1 0 1.2 0a0.6 0.6 0 1 0 -1.2 0M366.84 38.13a0.6 0.6 0 1 0 1.2 0a0.6 0.6 0 1 0 -1.2 0M366.84 44.67a0.6 0.6 0 1 0 1.2 0a0.6 0.6 0 1 0 -1.2 0M366.84 51.21a0.6 0.6 0 1 0 1.2 0a0.6 0.6 0 1 0 -1.2 0M366.84 57.76a0.6 0.6 0 1 0 1.2 0a0.6 0.6 0 1 0 -1.2 0M366.84 64.3a0.6 0.6 0 1 0 1.2 0a0.6 0.6 0 1 0 -1.2 0M366.84 70.84a0.6 0.6 0 1 0 1.2 0a0.6 0.6 0 1 0 -1.2 0M366.84 77.39a0.6 0.6 0 1 0 1.2 0a0.6 0.6 0 1 0 -1.2 0M366.84 83.93a0.6 0.6 0 1 0 1.2 0a0.6 0.6 0 1 0 -1.2 0M366.84 90.47a0.6 0.6 0 1 0 1.2 0a0.6 0.6 0 1 0 -1.2 0M366.84 97.01a0.6 0.6 0 1 0 1.2 0a0.6 0.6 0 1 0 -1.2 0M366.84 103.56a0.6 0.6 0 1 0 1.2 0a0.6 0.6 0 1 0 -1.2 0M366.84 110.1a0.6 0.6 0 1 0 1.2 0a0.6 0.6 0 1 0 -1.2 0M377.17 18.5a0.6 0.6 0 1 0 1.2 0a0.6 0.6 0 1 0 -1.2 0M377.17 25.04a0.6 0.6 0 1 0 1.2 0a0.6 0.6 0 1 0 -1.2 0M377.17 31.59a0.6 0.6 0 1 0 1.2 0a0.6 0.6 0 1 0 -1.2 0M377.17 38.13a0.6 0.6 0 1 0 1.2 0a0.6 0.6 0 1 0 -1.2 0M377.17 44.67a0.6 0.6 0 1 0 1.2 0a0.6 0.6 0 1 0 -1.2 0M377.17 51.21a0.6 0.6 0 1 0 1.2 0a0.6 0.6 0 1 0 -1.2 0M377.17 57.76a0.6 0.6 0 1 0 1.2 0a0.6 0.6 0 1 0 -1.2 0M377.17 64.3a0.6 0.6 0 1 0 1.2 0a0.6 0.6 0 1 0 -1.2 0M377.17 70.84a0.6 0.6 0 1 0 1.2 0a0.6 0.6 0 1 0 -1.2 0M377.17 77.39a0.6 0.6 0 1 0 1.2 0a0.6 0.6 0 1 0 -1.2 0M377.17 83.93a0.6 0.6 0 1 0 1.2 0a0.6 0.6 0 1 0 -1.2 0M377.17 90.47a0.6 0.6 0 1 0 1.2 0a0.6 0.6 0 1 0 -1.2 0M377.17 97.01a0.6 0.6 0 1 0 1.2 0a0.6 0.6 0 1 0 -1.2 0M377.17 103.56a0.6 0.6 0 1 0 1.2 0a0.6 0.6 0 1 0 -1.2 0M377.17 110.1a0.6 0.6 0 1 0 1.2 0a0.6 0.6 0 1 0 -1.2 0M387.51 18.5a0.6 0.6 0 1 0 1.2 0a0.6 0.6 0 1 0 -1.2 0M387.51 25.04a0.6 0.6 0 1 0 1.2 0a0.6 0.6 0 1 0 -1.2 0M387.51 31.59a0.6 0.6 0 1 0 1.2 0a0.6 0.6 0 1 0 -1.2 0M387.51 38.13a0.6 0.6 0 1 0 1.2 0a0.6 0.6 0 1 0 -1.2 0M387.51 44.67a0.6 0.6 0 1 0 1.2 0a0.6 0.6 0 1 0 -1.2 0M387.51 51.21a0.6 0.6 0 1 0 1.2 0a0.6 0.6 0 1 0 -1.2 0M387.51 57.76a0.6 0.6 0 1 0 1.2 0a0.6 0.6 0 1 0 -1.2 0M387.51 64.3a0.6 0.6 0 1 0 1.2 0a0.6 0.6 0 1 0 -1.2 0M387.51 70.84a0.6 0.6 0 1 0 1.2 0a0.6 0.6 0 1 0 -1.2 0M387.51 77.39a0.6 0.6 0 1 0 1.2 0a0.6 0.6 0 1 0 -1.2 0M387.51 83.93a0.6 0.6 0 1 0 1.2 0a0.6 0.6 0 1 0 -1.2 0M387.51 90.47a0.6 0.6 0 1 0 1.2 0a0.6 0.6 0 1 0 -1.2 0M387.51 97.01a0.6 0.6 0 1 0 1.2 0a0.6 0.6 0 1 0 -1.2 0M387.51 103.56a0.6 0.6 0 1 0 1.2 0a0.6 0.6 0 1 0 -1.2 0M387.51 110.1a0.6 0.6 0 1 0 1.2 0a0.6 0.6 0 1 0 -1.2 0M397.84 18.5a0.6 0.6 0 1 0 1.2 0a0.6 0.6 0 1 0 -1.2 0M397.84 25.04a0.6 0.6 0 1 0 1.2 0a0.6 0.6 0 1 0 -1.2 0M397.84 31.59a0.6 0.6 0 1 0 1.2 0a0.6 0.6 0 1 0 -1.2 0M397.84 38.13a0.6 0.6 0 1 0 1.2 0a0.6 0.6 0 1 0 -1.2 0M397.84 44.67a0.6 0.6 0 1 0 1.2 0a0.6 0.6 0 1 0 -1.2 0M397.84 51.21a0.6 0.6 0 1 0 1.2 0a0.6 0.6 0 1 0 -1.2 0M397.84 57.76a0.6 0.6 0 1 0 1.2 0a0.6 0.6 0 1 0 -1.2 0M397.84 64.3a0.6 0.6 0 1 0 1.2 0a0.6 0.6 0 1 0 -1.2 0M397.84 70.84a0.6 0.6 0 1 0 1.2 0a0.6 0.6 0 1 0 -1.2 0M397.84 77.39a0.6 0.6 0 1 0 1.2 0a0.6 0.6 0 1 0 -1.2 0M397.84 83.93a0.6 0.6 0 1 0 1.2 0a0.6 0.6 0 1 0 -1.2 0M397.84 90.47a0.6 0.6 0 1 0 1.2 0a0.6 0.6 0 1 0 -1.2 0M397.84 97.01a0.6 0.6 0 1 0 1.2 0a0.6 0.6 0 1 0 -1.2 0M397.84 103.56a0.6 0.6 0 1 0 1.2 0a0.6 0.6 0 1 0 -1.2 0M397.84 110.1a0.6 0.6 0 1 0 1.2 0a0.6 0.6 0 1 0 -1.2 0M408.18 18.5a0.6 0.6 0 1 0 1.2 0a0.6 0.6 0 1 0 -1.2 0M408.18 25.04a0.6 0.6 0 1 0 1.2 0a0.6 0.6 0 1 0 -1.2 0M408.18 31.59a0.6 0.6 0 1 0 1.2 0a0.6 0.6 0 1 0 -1.2 0M408.18 38.13a0.6 0.6 0 1 0 1.2 0a0.6 0.6 0 1 0 -1.2 0M408.18 44.67a0.6 0.6 0 1 0 1.2 0a0.6 0.6 0 1 0 -1.2 0M408.18 51.21a0.6 0.6 0 1 0 1.2 0a0.6 0.6 0 1 0 -1.2 0M408.18 57.76a0.6 0.6 0 1 0 1.2 0a0.6 0.6 0 1 0 -1.2 0M408.18 64.3a0.6 0.6 0 1 0 1.2 0a0.6 0.6 0 1 0 -1.2 0M408.18 70.84a0.6 0.6 0 1 0 1.2 0a0.6 0.6 0 1 0 -1.2 0M408.18 77.39a0.6 0.6 0 1 0 1.2 0a0.6 0.6 0 1 0 -1.2 0M408.18 83.93a0.6 0.6 0 1 0 1.2 0a0.6 0.6 0 1 0 -1.2 0M408.18 90.47a0.6 0.6 0 1 0 1.2 0a0.6 0.6 0 1 0 -1.2 0M408.18 97.01a0.6 0.6 0 1 0 1.2 0a0.6 0.6 0 1 0 -1.2 0M408.18 103.56a0.6 0.6 0 1 0 1.2 0a0.6 0.6 0 1 0 -1.2 0M408.18 110.1a0.6 0.6 0 1 0 1.2 0a0.6 0.6 0 1 0 -1.2 0M418.51 18.5a0.6 0.6 0 1 0 1.2 0a0.6 0.6 0 1 0 -1.2 0M418.51 25.04a0.6 0.6 0 1 0 1.2 0a0.6 0.6 0 1 0 -1.2 0M418.51 31.59a0.6 0.6 0 1 0 1.2 0a0.6 0.6 0 1 0 -1.2 0M418.51 38.13a0.6 0.6 0 1 0 1.2 0a0.6 0.6 0 1 0 -1.2 0M418.51 44.67a0.6 0.6 0 1 0 1.2 0a0.6 0.6 0 1 0 -1.2 0M418.51 51.21a0.6 0.6 0 1 0 1.2 0a0.6 0.6 0 1 0 -1.2 0M418.51 57.76a0.6 0.6 0 1 0 1.2 0a0.6 0.6 0 1 0 -1.2 0M418.51 64.3a0.6 0.6 0 1 0 1.2 0a0.6 0.6 0 1 0 -1.2 0M418.51 70.84a0.6 0.6 0 1 0 1.2 0a0.6 0.6 0 1 0 -1.2 0M418.51 77.39a0.6 0.6 0 1 0 1.2 0a0.6 0.6 0 1 0 -1.2 0M418.51 83.93a0.6 0.6 0 1 0 1.2 0a0.6 0.6 0 1 0 -1.2 0M418.51 90.47a0.6 0.6 0 1 0 1.2 0a0.6 0.6 0 1 0 -1.2 0M418.51 97.01a0.6 0.6 0 1 0 1.2 0a0.6 0.6 0 1 0 -1.2 0M418.51 103.56a0.6 0.6 0 1 0 1.2 0a0.6 0.6 0 1 0 -1.2 0M418.51 110.1a0.6 0.6 0 1 0 1.2 0a0.6 0.6 0 1 0 -1.2 0M428.85 18.5a0.6 0.6 0 1 0 1.2 0a0.6 0.6 0 1 0 -1.2 0M428.85 25.04a0.6 0.6 0 1 0 1.2 0a0.6 0.6 0 1 0 -1.2 0M428.85 31.59a0.6 0.6 0 1 0 1.2 0a0.6 0.6 0 1 0 -1.2 0M428.85 38.13a0.6 0.6 0 1 0 1.2 0a0.6 0.6 0 1 0 -1.2 0M428.85 44.67a0.6 0.6 0 1 0 1.2 0a0.6 0.6 0 1 0 -1.2 0M428.85 51.21a0.6 0.6 0 1 0 1.2 0a0.6 0.6 0 1 0 -1.2 0M428.85 57.76a0.6 0.6 0 1 0 1.2 0a0.6 0.6 0 1 0 -1.2 0M428.85 64.3a0.6 0.6 0 1 0 1.2 0a0.6 0.6 0 1 0 -1.2 0M428.85 70.84a0.6 0.6 0 1 0 1.2 0a0.6 0.6 0 1 0 -1.2 0M428.85 77.39a0.6 0.6 0 1 0 1.2 0a0.6 0.6 0 1 0 -1.2 0M428.85 83.93a0.6 0.6 0 1 0 1.2 0a0.6 0.6 0 1 0 -1.2 0M428.85 90.47a0.6 0.6 0 1 0 1.2 0a0.6 0.6 0 1 0 -1.2 0M428.85 97.01a0.6 0.6 0 1 0 1.2 0a0.6 0.6 0 1 0 -1.2 0M428.85 103.56a0.6 0.6 0 1 0 1.2 0a0.6 0.6 0 1 0 -1.2 0M428.85 110.1a0.6 0.6 0 1 0 1.2 0a0.6 0.6 0 1 0 -1.2 0M439.19 18.5a0.6 0.6 0 1 0 1.2 0a0.6 0.6 0 1 0 -1.2 0M439.19 25.04a0.6 0.6 0 1 0 1.2 0a0.6 0.6 0 1 0 -1.2 0M439.19 31.59a0.6 0.6 0 1 0 1.2 0a0.6 0.6 0 1 0 -1.2 0M439.19 38.13a0.6 0.6 0 1 0 1.2 0a0.6 0.6 0 1 0 -1.2 0M439.19 44.67a0.6 0.6 0 1 0 1.2 0a0.6 0.6 0 1 0 -1.2 0M439.19 51.21a0.6 0.6 0 1 0 1.2 0a0.6 0.6 0 1 0 -1.2 0M439.19 57.76a0.6 0.6 0 1 0 1.2 0a0.6 0.6 0 1 0 -1.2 0M439.19 64.3a0.6 0.6 0 1 0 1.2 0a0.6 0.6 0 1 0 -1.2 0M439.19 70.84a0.6 0.6 0 1 0 1.2 0a0.6 0.6 0 1 0 -1.2 0M439.19 77.39a0.6 0.6 0 1 0 1.2 0a0.6 0.6 0 1 0 -1.2 0M439.19 83.93a0.6 0.6 0 1 0 1.2 0a0.6 0.6 0 1 0 -1.2 0M439.19 90.47a0.6 0.6 0 1 0 1.2 0a0.6 0.6 0 1 0 -1.2 0M439.19 97.01a0.6 0.6 0 1 0 1.2 0a0.6 0.6 0 1 0 -1.2 0M439.19 103.56a0.6 0.6 0 1 0 1.2 0a0.6 0.6 0 1 0 -1.2 0M439.19 110.1a0.6 0.6 0 1 0 1.2 0a0.6 0.6 0 1 0 -1.2 0M449.52 18.5a0.6 0.6 0 1 0 1.2 0a0.6 0.6 0 1 0 -1.2 0M449.52 25.04a0.6 0.6 0 1 0 1.2 0a0.6 0.6 0 1 0 -1.2 0M449.52 31.59a0.6 0.6 0 1 0 1.2 0a0.6 0.6 0 1 0 -1.2 0M449.52 38.13a0.6 0.6 0 1 0 1.2 0a0.6 0.6 0 1 0 -1.2 0M449.52 44.67a0.6 0.6 0 1 0 1.2 0a0.6 0.6 0 1 0 -1.2 0M449.52 51.21a0.6 0.6 0 1 0 1.2 0a0.6 0.6 0 1 0 -1.2 0M449.52 57.76a0.6 0.6 0 1 0 1.2 0a0.6 0.6 0 1 0 -1.2 0M449.52 64.3a0.6 0.6 0 1 0 1.2 0a0.6 0.6 0 1 0 -1.2 0M449.52 70.84a0.6 0.6 0 1 0 1.2 0a0.6 0.6 0 1 0 -1.2 0M449.52 77.39a0.6 0.6 0 1 0 1.2 0a0.6 0.6 0 1 0 -1.2 0M449.52 83.93a0.6 0.6 0 1 0 1.2 0a0.6 0.6 0 1 0 -1.2 0M449.52 90.47a0.6 0.6 0 1 0 1.2 0a0.6 0.6 0 1 0 -1.2 0M449.52 97.01a0.6 0.6 0 1 0 1.2 0a0.6 0.6 0 1 0 -1.2 0M449.52 103.56a0.6 0.6 0 1 0 1.2 0a0.6 0.6 0 1 0 -1.2 0M449.52 110.1a0.6 0.6 0 1 0 1.2 0a0.6 0.6 0 1 0 -1.2 0M459.86 18.5a0.6 0.6 0 1 0 1.2 0a0.6 0.6 0 1 0 -1.2 0M459.86 25.04a0.6 0.6 0 1 0 1.2 0a0.6 0.6 0 1 0 -1.2 0M459.86 31.59a0.6 0.6 0 1 0 1.2 0a0.6 0.6 0 1 0 -1.2 0M459.86 38.13a0.6 0.6 0 1 0 1.2 0a0.6 0.6 0 1 0 -1.2 0M459.86 44.67a0.6 0.6 0 1 0 1.2 0a0.6 0.6 0 1 0 -1.2 0M459.86 51.21a0.6 0.6 0 1 0 1.2 0a0.6 0.6 0 1 0 -1.2 0M459.86 57.76a0.6 0.6 0 1 0 1.2 0a0.6 0.6 0 1 0 -1.2 0M459.86 64.3a0.6 0.6 0 1 0 1.2 0a0.6 0.6 0 1 0 -1.2 0M459.86 70.84a0.6 0.6 0 1 0 1.2 0a0.6 0.6 0 1 0 -1.2 0M459.86 77.39a0.6 0.6 0 1 0 1.2 0a0.6 0.6 0 1 0 -1.2 0M459.86 83.93a0.6 0.6 0 1 0 1.2 0a0.6 0.6 0 1 0 -1.2 0M459.86 90.47a0.6 0.6 0 1 0 1.2 0a0.6 0.6 0 1 0 -1.2 0M459.86 97.01a0.6 0.6 0 1 0 1.2 0a0.6 0.6 0 1 0 -1.2 0M459.86 103.56a0.6 0.6 0 1 0 1.2 0a0.6 0.6 0 1 0 -1.2 0M459.86 110.1a0.6 0.6 0 1 0 1.2 0a0.6 0.6 0 1 0 -1.2 0M470.19 18.5a0.6 0.6 0 1 0 1.2 0a0.6 0.6 0 1 0 -1.2 0M470.19 25.04a0.6 0.6 0 1 0 1.2 0a0.6 0.6 0 1 0 -1.2 0M470.19 31.59a0.6 0.6 0 1 0 1.2 0a0.6 0.6 0 1 0 -1.2 0M470.19 38.13a0.6 0.6 0 1 0 1.2 0a0.6 0.6 0 1 0 -1.2 0M470.19 44.67a0.6 0.6 0 1 0 1.2 0a0.6 0.6 0 1 0 -1.2 0M470.19 51.21a0.6 0.6 0 1 0 1.2 0a0.6 0.6 0 1 0 -1.2 0M470.19 57.76a0.6 0.6 0 1 0 1.2 0a0.6 0.6 0 1 0 -1.2 0M470.19 64.3a0.6 0.6 0 1 0 1.2 0a0.6 0.6 0 1 0 -1.2 0M470.19 70.84a0.6 0.6 0 1 0 1.2 0a0.6 0.6 0 1 0 -1.2 0M470.19 77.39a0.6 0.6 0 1 0 1.2 0a0.6 0.6 0 1 0 -1.2 0M470.19 83.93a0.6 0.6 0 1 0 1.2 0a0.6 0.6 0 1 0 -1.2 0M470.19 90.47a0.6 0.6 0 1 0 1.2 0a0.6 0.6 0 1 0 -1.2 0M470.19 97.01a0.6 0.6 0 1 0 1.2 0a0.6 0.6 0 1 0 -1.2 0M470.19 103.56a0.6 0.6 0 1 0 1.2 0a0.6 0.6 0 1 0 -1.2 0M470.19 110.1a0.6 0.6 0 1 0 1.2 0a0.6 0.6 0 1 0 -1.2 0M480.53 18.5a0.6 0.6 0 1 0 1.2 0a0.6 0.6 0 1 0 -1.2 0M480.53 25.04a0.6 0.6 0 1 0 1.2 0a0.6 0.6 0 1 0 -1.2 0M480.53 31.59a0.6 0.6 0 1 0 1.2 0a0.6 0.6 0 1 0 -1.2 0M480.53 38.13a0.6 0.6 0 1 0 1.2 0a0.6 0.6 0 1 0 -1.2 0M480.53 44.67a0.6 0.6 0 1 0 1.2 0a0.6 0.6 0 1 0 -1.2 0M480.53 51.21a0.6 0.6 0 1 0 1.2 0a0.6 0.6 0 1 0 -1.2 0M480.53 57.76a0.6 0.6 0 1 0 1.2 0a0.6 0.6 0 1 0 -1.2 0M480.53 64.3a0.6 0.6 0 1 0 1.2 0a0.6 0.6 0 1 0 -1.2 0M480.53 70.84a0.6 0.6 0 1 0 1.2 0a0.6 0.6 0 1 0 -1.2 0M480.53 77.39a0.6 0.6 0 1 0 1.2 0a0.6 0.6 0 1 0 -1.2 0M480.53 83.93a0.6 0.6 0 1 0 1.2 0a0.6 0.6 0 1 0 -1.2 0M480.53 90.47a0.6 0.6 0 1 0 1.2 0a0.6 0.6 0 1 0 -1.2 0M480.53 97.01a0.6 0.6 0 1 0 1.2 0a0.6 0.6 0 1 0 -1.2 0M480.53 103.56a0.6 0.6 0 1 0 1.2 0a0.6 0.6 0 1 0 -1.2 0M480.53 110.1a0.6 0.6 0 1 0 1.2 0a0.6 0.6 0 1 0 -1.2 0M490.86 18.5a0.6 0.6 0 1 0 1.2 0a0.6 0.6 0 1 0 -1.2 0M490.86 25.04a0.6 0.6 0 1 0 1.2 0a0.6 0.6 0 1 0 -1.2 0M490.86 31.59a0.6 0.6 0 1 0 1.2 0a0.6 0.6 0 1 0 -1.2 0M490.86 38.13a0.6 0.6 0 1 0 1.2 0a0.6 0.6 0 1 0 -1.2 0M490.86 44.67a0.6 0.6 0 1 0 1.2 0a0.6 0.6 0 1 0 -1.2 0M490.86 51.21a0.6 0.6 0 1 0 1.2 0a0.6 0.6 0 1 0 -1.2 0M490.86 57.76a0.6 0.6 0 1 0 1.2 0a0.6 0.6 0 1 0 -1.2 0M490.86 64.3a0.6 0.6 0 1 0 1.2 0a0.6 0.6 0 1 0 -1.2 0M490.86 70.84a0.6 0.6 0 1 0 1.2 0a0.6 0.6 0 1 0 -1.2 0M490.86 77.39a0.6 0.6 0 1 0 1.2 0a0.6 0.6 0 1 0 -1.2 0M490.86 83.93a0.6 0.6 0 1 0 1.2 0a0.6 0.6 0 1 0 -1.2 0M490.86 90.47a0.6 0.6 0 1 0 1.2 0a0.6 0.6 0 1 0 -1.2 0M490.86 97.01a0.6 0.6 0 1 0 1.2 0a0.6 0.6 0 1 0 -1.2 0M490.86 103.56a0.6 0.6 0 1 0 1.2 0a0.6 0.6 0 1 0 -1.2 0M490.86 110.1a0.6 0.6 0 1 0 1.2 0a0.6 0.6 0 1 0 -1.2 0M501.2 18.5a0.6 0.6 0 1 0 1.2 0a0.6 0.6 0 1 0 -1.2 0M501.2 25.04a0.6 0.6 0 1 0 1.2 0a0.6 0.6 0 1 0 -1.2 0M501.2 31.59a0.6 0.6 0 1 0 1.2 0a0.6 0.6 0 1 0 -1.2 0M501.2 38.13a0.6 0.6 0 1 0 1.2 0a0.6 0.6 0 1 0 -1.2 0M501.2 44.67a0.6 0.6 0 1 0 1.2 0a0.6 0.6 0 1 0 -1.2 0M501.2 51.21a0.6 0.6 0 1 0 1.2 0a0.6 0.6 0 1 0 -1.2 0M501.2 57.76a0.6 0.6 0 1 0 1.2 0a0.6 0.6 0 1 0 -1.2 0M501.2 64.3a0.6 0.6 0 1 0 1.2 0a0.6 0.6 0 1 0 -1.2 0M501.2 70.84a0.6 0.6 0 1 0 1.2 0a0.6 0.6 0 1 0 -1.2 0M501.2 77.39a0.6 0.6 0 1 0 1.2 0a0.6 0.6 0 1 0 -1.2 0M501.2 83.93a0.6 0.6 0 1 0 1.2 0a0.6 0.6 0 1 0 -1.2 0M501.2 90.47a0.6 0.6 0 1 0 1.2 0a0.6 0.6 0 1 0 -1.2 0M501.2 97.01a0.6 0.6 0 1 0 1.2 0a0.6 0.6 0 1 0 -1.2 0M501.2 103.56a0.6 0.6 0 1 0 1.2 0a0.6 0.6 0 1 0 -1.2 0M501.2 110.1a0.6 0.6 0 1 0 1.2 0a0.6 0.6 0 1 0 -1.2 0" fill="#1a1a1a" fill-opacity="0.8"/>
<path d="M353 16.1V112.5H505.9" stroke="#8c8c8c" stroke-width="1.1" fill="none"/>
<path d="M357.1 112.5v3.3M353 110.1h-3.3M398.44 112.5v3.3M353 83.93h-3.3M439.79 112.5v3.3M353 57.76h-3.3M481.13 112.5v3.3M353 31.59h-3.3" stroke="#8c8c8c" stroke-width="1" fill="none"/>
<text x="357.1" y="124.8" font-size="7.4" text-anchor="middle" textLength="10" lengthAdjust="spacingAndGlyphs">1.0</text>
<text x="398.44" y="124.8" font-size="7.4" text-anchor="middle" textLength="10" lengthAdjust="spacingAndGlyphs">1.2</text>
<text x="439.79" y="124.8" font-size="7.4" text-anchor="middle" textLength="10" lengthAdjust="spacingAndGlyphs">1.4</text>
<text x="481.13" y="124.8" font-size="7.4" text-anchor="middle" textLength="10" lengthAdjust="spacingAndGlyphs">1.6</text>
<text x="429.45" y="10.2" font-size="7.6" text-anchor="middle" textLength="34.9" lengthAdjust="spacingAndGlyphs">M3 (0, 0)</text>
<g clip-path="url(#c3)">
<rect x="40.5" y="143.1" width="146.7" height="93.6" fill="#ffec00"/>
<polygon points="32.8,139.52 35.3,147.76 48.1,189.9 59.9,230.2 62.85,240.28 123.25,240.28 119.8,230.2 106,189.9 95.8,147.76 93.8,139.52" fill="#e5ea00"/>
<polygon points="34.39,139.52 36.8,147.76 49.1,189.9 60.9,230.2 63.85,240.28 121.55,240.28 118.2,230.2 104.8,189.9 94.6,147.76 92.6,139.52" fill="#93e418"/>
<polygon points="35.97,139.52 38.3,147.76 50.2,189.9 61.6,230.2 64.45,240.28 119.17,240.28 115.9,230.2 102.8,189.9 93,147.76 91.08,139.52" fill="#4bd650"/>
<polygon points="38.15,139.52 40.3,147.76 51.3,189.9 62.7,230.2 65.55,240.28 117.47,240.28 114.1,230.2 100.6,189.9 91.5,147.76 89.72,139.52" fill="#15c279"/>
<polygon points="40.78,139.52 42.8,147.76 53.1,189.9 64.5,230.2 67.35,240.28 112.7,240.28 109.7,230.2 97.7,189.9 88.3,147.76 86.46,139.52" fill="#04a88f"/>
<polygon points="42.75,139.52 45.1,147.76 57.1,189.9 71.5,230.2 75.1,240.28 106.6,240.28 103.9,230.2 93.1,189.9 84.9,147.76 83.3,139.52" fill="#118c99"/>
<polygon points="46.97,139.52 49.4,147.76 61.8,189.9 75.8,230.2 79.3,240.28 98.35,240.28 95.9,230.2 86.1,189.9 78.8,147.76 77.37,139.52" fill="#21709d"/>
<polygon points="51.26,139.52 53.8,147.76 66.8,189.9 81.3,230.2 84.92,240.28 96.42,240.28 93.8,230.2 83.3,189.9 73.7,147.76 71.82,139.52" fill="#34529c"/>
<polygon points="62.5,143.1 64.3,143.1 63.9,152.6 63.4,152.6" fill="#473093"/>
</g>
<path d="M40.9 144.1a0.6 0.6 0 1 0 1.2 0a0.6 0.6 0 1 0 -1.2 0M40.9 150.64a0.6 0.6 0 1 0 1.2 0a0.6 0.6 0 1 0 -1.2 0M40.9 157.19a0.6 0.6 0 1 0 1.2 0a0.6 0.6 0 1 0 -1.2 0M40.9 163.73a0.6 0.6 0 1 0 1.2 0a0.6 0.6 0 1 0 -1.2 0M40.9 170.27a0.6 0.6 0 1 0 1.2 0a0.6 0.6 0 1 0 -1.2 0M40.9 176.81a0.6 0.6 0 1 0 1.2 0a0.6 0.6 0 1 0 -1.2 0M40.9 183.36a0.6 0.6 0 1 0 1.2 0a0.6 0.6 0 1 0 -1.2 0M40.9 189.9a0.6 0.6 0 1 0 1.2 0a0.6 0.6 0 1 0 -1.2 0M40.9 196.44a0.6 0.6 0 1 0 1.2 0a0.6 0.6 0 1 0 -1.2 0M40.9 202.99a0.6 0.6 0 1 0 1.2 0a0.6 0.6 0 1 0 -1.2 0M40.9 209.53a0.6 0.6 0 1 0 1.2 0a0.6 0.6 0 1 0 -1.2 0M40.9 216.07a0.6 0.6 0 1 0 1.2 0a0.6 0.6 0 1 0 -1.2 0M40.9 222.61a0.6 0.6 0 1 0 1.2 0a0.6 0.6 0 1 0 -1.2 0M40.9 229.16a0.6 0.6 0 1 0 1.2 0a0.6 0.6 0 1 0 -1.2 0M40.9 235.7a0.6 0.6 0 1 0 1.2 0a0.6 0.6 0 1 0 -1.2 0M51.24 144.1a0.6 0.6 0 1 0 1.2 0a0.6 0.6 0 1 0 -1.2 0M51.24 150.64a0.6 0.6 0 1 0 1.2 0a0.6 0.6 0 1 0 -1.2 0M51.24 157.19a0.6 0.6 0 1 0 1.2 0a0.6 0.6 0 1 0 -1.2 0M51.24 163.73a0.6 0.6 0 1 0 1.2 0a0.6 0.6 0 1 0 -1.2 0M51.24 170.27a0.6 0.6 0 1 0 1.2 0a0.6 0.6 0 1 0 -1.2 0M51.24 176.81a0.6 0.6 0 1 0 1.2 0a0.6 0.6 0 1 0 -1.2 0M51.24 183.36a0.6 0.6 0 1 0 1.2 0a0.6 0.6 0 1 0 -1.2 0M51.24 189.9a0.6 0.6 0 1 0 1.2 0a0.6 0.6 0 1 0 -1.2 0M51.24 196.44a0.6 0.6 0 1 0 1.2 0a0.6 0.6 0 1 0 -1.2 0M51.24 202.99a0.6 0.6 0 1 0 1.2 0a0.6 0.6 0 1 0 -1.2 0M51.24 209.53a0.6 0.6 0 1 0 1.2 0a0.6 0.6 0 1 0 -1.2 0M51.24 216.07a0.6 0.6 0 1 0 1.2 0a0.6 0.6 0 1 0 -1.2 0M51.24 222.61a0.6 0.6 0 1 0 1.2 0a0.6 0.6 0 1 0 -1.2 0M51.24 229.16a0.6 0.6 0 1 0 1.2 0a0.6 0.6 0 1 0 -1.2 0M51.24 235.7a0.6 0.6 0 1 0 1.2 0a0.6 0.6 0 1 0 -1.2 0M61.57 144.1a0.6 0.6 0 1 0 1.2 0a0.6 0.6 0 1 0 -1.2 0M61.57 150.64a0.6 0.6 0 1 0 1.2 0a0.6 0.6 0 1 0 -1.2 0M61.57 157.19a0.6 0.6 0 1 0 1.2 0a0.6 0.6 0 1 0 -1.2 0M61.57 163.73a0.6 0.6 0 1 0 1.2 0a0.6 0.6 0 1 0 -1.2 0M61.57 170.27a0.6 0.6 0 1 0 1.2 0a0.6 0.6 0 1 0 -1.2 0M61.57 176.81a0.6 0.6 0 1 0 1.2 0a0.6 0.6 0 1 0 -1.2 0M61.57 183.36a0.6 0.6 0 1 0 1.2 0a0.6 0.6 0 1 0 -1.2 0M61.57 189.9a0.6 0.6 0 1 0 1.2 0a0.6 0.6 0 1 0 -1.2 0M61.57 196.44a0.6 0.6 0 1 0 1.2 0a0.6 0.6 0 1 0 -1.2 0M61.57 202.99a0.6 0.6 0 1 0 1.2 0a0.6 0.6 0 1 0 -1.2 0M61.57 209.53a0.6 0.6 0 1 0 1.2 0a0.6 0.6 0 1 0 -1.2 0M61.57 216.07a0.6 0.6 0 1 0 1.2 0a0.6 0.6 0 1 0 -1.2 0M61.57 222.61a0.6 0.6 0 1 0 1.2 0a0.6 0.6 0 1 0 -1.2 0M61.57 229.16a0.6 0.6 0 1 0 1.2 0a0.6 0.6 0 1 0 -1.2 0M61.57 235.7a0.6 0.6 0 1 0 1.2 0a0.6 0.6 0 1 0 -1.2 0M71.91 144.1a0.6 0.6 0 1 0 1.2 0a0.6 0.6 0 1 0 -1.2 0M71.91 150.64a0.6 0.6 0 1 0 1.2 0a0.6 0.6 0 1 0 -1.2 0M71.91 157.19a0.6 0.6 0 1 0 1.2 0a0.6 0.6 0 1 0 -1.2 0M71.91 163.73a0.6 0.6 0 1 0 1.2 0a0.6 0.6 0 1 0 -1.2 0M71.91 170.27a0.6 0.6 0 1 0 1.2 0a0.6 0.6 0 1 0 -1.2 0M71.91 176.81a0.6 0.6 0 1 0 1.2 0a0.6 0.6 0 1 0 -1.2 0M71.91 183.36a0.6 0.6 0 1 0 1.2 0a0.6 0.6 0 1 0 -1.2 0M71.91 189.9a0.6 0.6 0 1 0 1.2 0a0.6 0.6 0 1 0 -1.2 0M71.91 196.44a0.6 0.6 0 1 0 1.2 0a0.6 0.6 0 1 0 -1.2 0M71.91 202.99a0.6 0.6 0 1 0 1.2 0a0.6 0.6 0 1 0 -1.2 0M71.91 209.53a0.6 0.6 0 1 0 1.2 0a0.6 0.6 0 1 0 -1.2 0M71.91 216.07a0.6 0.6 0 1 0 1.2 0a0.6 0.6 0 1 0 -1.2 0M71.91 222.61a0.6 0.6 0 1 0 1.2 0a0.6 0.6 0 1 0 -1.2 0M71.91 229.16a0.6 0.6 0 1 0 1.2 0a0.6 0.6 0 1 0 -1.2 0M71.91 235.7a0.6 0.6 0 1 0 1.2 0a0.6 0.6 0 1 0 -1.2 0M82.24 144.1a0.6 0.6 0 1 0 1.2 0a0.6 0.6 0 1 0 -1.2 0M82.24 150.64a0.6 0.6 0 1 0 1.2 0a0.6 0.6 0 1 0 -1.2 0M82.24 157.19a0.6 0.6 0 1 0 1.2 0a0.6 0.6 0 1 0 -1.2 0M82.24 163.73a0.6 0.6 0 1 0 1.2 0a0.6 0.6 0 1 0 -1.2 0M82.24 170.27a0.6 0.6 0 1 0 1.2 0a0.6 0.6 0 1 0 -1.2 0M82.24 176.81a0.6 0.6 0 1 0 1.2 0a0.6 0.6 0 1 0 -1.2 0M82.24 183.36a0.6 0.6 0 1 0 1.2 0a0.6 0.6 0 1 0 -1.2 0M82.24 189.9a0.6 0.6 0 1 0 1.2 0a0.6 0.6 0 1 0 -1.2 0M82.24 196.44a0.6 0.6 0 1 0 1.2 0a0.6 0.6 0 1 0 -1.2 0M82.24 202.99a0.6 0.6 0 1 0 1.2 0a0.6 0.6 0 1 0 -1.2 0M82.24 209.53a0.6 0.6 0 1 0 1.2 0a0.6 0.6 0 1 0 -1.2 0M82.24 216.07a0.6 0.6 0 1 0 1.2 0a0.6 0.6 0 1 0 -1.2 0M82.24 222.61a0.6 0.6 0 1 0 1.2 0a0.6 0.6 0 1 0 -1.2 0M82.24 229.16a0.6 0.6 0 1 0 1.2 0a0.6 0.6 0 1 0 -1.2 0M82.24 235.7a0.6 0.6 0 1 0 1.2 0a0.6 0.6 0 1 0 -1.2 0M92.58 144.1a0.6 0.6 0 1 0 1.2 0a0.6 0.6 0 1 0 -1.2 0M92.58 150.64a0.6 0.6 0 1 0 1.2 0a0.6 0.6 0 1 0 -1.2 0M92.58 157.19a0.6 0.6 0 1 0 1.2 0a0.6 0.6 0 1 0 -1.2 0M92.58 163.73a0.6 0.6 0 1 0 1.2 0a0.6 0.6 0 1 0 -1.2 0M92.58 170.27a0.6 0.6 0 1 0 1.2 0a0.6 0.6 0 1 0 -1.2 0M92.58 176.81a0.6 0.6 0 1 0 1.2 0a0.6 0.6 0 1 0 -1.2 0M92.58 183.36a0.6 0.6 0 1 0 1.2 0a0.6 0.6 0 1 0 -1.2 0M92.58 189.9a0.6 0.6 0 1 0 1.2 0a0.6 0.6 0 1 0 -1.2 0M92.58 196.44a0.6 0.6 0 1 0 1.2 0a0.6 0.6 0 1 0 -1.2 0M92.58 202.99a0.6 0.6 0 1 0 1.2 0a0.6 0.6 0 1 0 -1.2 0M92.58 209.53a0.6 0.6 0 1 0 1.2 0a0.6 0.6 0 1 0 -1.2 0M92.58 216.07a0.6 0.6 0 1 0 1.2 0a0.6 0.6 0 1 0 -1.2 0M92.58 222.61a0.6 0.6 0 1 0 1.2 0a0.6 0.6 0 1 0 -1.2 0M92.58 229.16a0.6 0.6 0 1 0 1.2 0a0.6 0.6 0 1 0 -1.2 0M92.58 235.7a0.6 0.6 0 1 0 1.2 0a0.6 0.6 0 1 0 -1.2 0M102.91 144.1a0.6 0.6 0 1 0 1.2 0a0.6 0.6 0 1 0 -1.2 0M102.91 150.64a0.6 0.6 0 1 0 1.2 0a0.6 0.6 0 1 0 -1.2 0M102.91 157.19a0.6 0.6 0 1 0 1.2 0a0.6 0.6 0 1 0 -1.2 0M102.91 163.73a0.6 0.6 0 1 0 1.2 0a0.6 0.6 0 1 0 -1.2 0M102.91 170.27a0.6 0.6 0 1 0 1.2 0a0.6 0.6 0 1 0 -1.2 0M102.91 176.81a0.6 0.6 0 1 0 1.2 0a0.6 0.6 0 1 0 -1.2 0M102.91 183.36a0.6 0.6 0 1 0 1.2 0a0.6 0.6 0 1 0 -1.2 0M102.91 189.9a0.6 0.6 0 1 0 1.2 0a0.6 0.6 0 1 0 -1.2 0M102.91 196.44a0.6 0.6 0 1 0 1.2 0a0.6 0.6 0 1 0 -1.2 0M102.91 202.99a0.6 0.6 0 1 0 1.2 0a0.6 0.6 0 1 0 -1.2 0M102.91 209.53a0.6 0.6 0 1 0 1.2 0a0.6 0.6 0 1 0 -1.2 0M102.91 216.07a0.6 0.6 0 1 0 1.2 0a0.6 0.6 0 1 0 -1.2 0M102.91 222.61a0.6 0.6 0 1 0 1.2 0a0.6 0.6 0 1 0 -1.2 0M102.91 229.16a0.6 0.6 0 1 0 1.2 0a0.6 0.6 0 1 0 -1.2 0M102.91 235.7a0.6 0.6 0 1 0 1.2 0a0.6 0.6 0 1 0 -1.2 0M113.25 144.1a0.6 0.6 0 1 0 1.2 0a0.6 0.6 0 1 0 -1.2 0M113.25 150.64a0.6 0.6 0 1 0 1.2 0a0.6 0.6 0 1 0 -1.2 0M113.25 157.19a0.6 0.6 0 1 0 1.2 0a0.6 0.6 0 1 0 -1.2 0M113.25 163.73a0.6 0.6 0 1 0 1.2 0a0.6 0.6 0 1 0 -1.2 0M113.25 170.27a0.6 0.6 0 1 0 1.2 0a0.6 0.6 0 1 0 -1.2 0M113.25 176.81a0.6 0.6 0 1 0 1.2 0a0.6 0.6 0 1 0 -1.2 0M113.25 183.36a0.6 0.6 0 1 0 1.2 0a0.6 0.6 0 1 0 -1.2 0M113.25 189.9a0.6 0.6 0 1 0 1.2 0a0.6 0.6 0 1 0 -1.2 0M113.25 196.44a0.6 0.6 0 1 0 1.2 0a0.6 0.6 0 1 0 -1.2 0M113.25 202.99a0.6 0.6 0 1 0 1.2 0a0.6 0.6 0 1 0 -1.2 0M113.25 209.53a0.6 0.6 0 1 0 1.2 0a0.6 0.6 0 1 0 -1.2 0M113.25 216.07a0.6 0.6 0 1 0 1.2 0a0.6 0.6 0 1 0 -1.2 0M113.25 222.61a0.6 0.6 0 1 0 1.2 0a0.6 0.6 0 1 0 -1.2 0M113.25 229.16a0.6 0.6 0 1 0 1.2 0a0.6 0.6 0 1 0 -1.2 0M113.25 235.7a0.6 0.6 0 1 0 1.2 0a0.6 0.6 0 1 0 -1.2 0M123.59 144.1a0.6 0.6 0 1 0 1.2 0a0.6 0.6 0 1 0 -1.2 0M123.59 150.64a0.6 0.6 0 1 0 1.2 0a0.6 0.6 0 1 0 -1.2 0M123.59 157.19a0.6 0.6 0 1 0 1.2 0a0.6 0.6 0 1 0 -1.2 0M123.59 163.73a0.6 0.6 0 1 0 1.2 0a0.6 0.6 0 1 0 -1.2 0M123.59 170.27a0.6 0.6 0 1 0 1.2 0a0.6 0.6 0 1 0 -1.2 0M123.59 176.81a0.6 0.6 0 1 0 1.2 0a0.6 0.6 0 1 0 -1.2 0M123.59 183.36a0.6 0.6 0 1 0 1.2 0a0.6 0.6 0 1 0 -1.2 0M123.59 189.9a0.6 0.6 0 1 0 1.2 0a0.6 0.6 0 1 0 -1.2 0M123.59 196.44a0.6 0.6 0 1 0 1.2 0a0.6 0.6 0 1 0 -1.2 0M123.59 202.99a0.6 0.6 0 1 0 1.2 0a0.6 0.6 0 1 0 -1.2 0M123.59 209.53a0.6 0.6 0 1 0 1.2 0a0.6 0.6 0 1 0 -1.2 0M123.59 216.07a0.6 0.6 0 1 0 1.2 0a0.6 0.6 0 1 0 -1.2 0M123.59 222.61a0.6 0.6 0 1 0 1.2 0a0.6 0.6 0 1 0 -1.2 0M123.59 229.16a0.6 0.6 0 1 0 1.2 0a0.6 0.6 0 1 0 -1.2 0M123.59 235.7a0.6 0.6 0 1 0 1.2 0a0.6 0.6 0 1 0 -1.2 0M133.92 144.1a0.6 0.6 0 1 0 1.2 0a0.6 0.6 0 1 0 -1.2 0M133.92 150.64a0.6 0.6 0 1 0 1.2 0a0.6 0.6 0 1 0 -1.2 0M133.92 157.19a0.6 0.6 0 1 0 1.2 0a0.6 0.6 0 1 0 -1.2 0M133.92 163.73a0.6 0.6 0 1 0 1.2 0a0.6 0.6 0 1 0 -1.2 0M133.92 170.27a0.6 0.6 0 1 0 1.2 0a0.6 0.6 0 1 0 -1.2 0M133.92 176.81a0.6 0.6 0 1 0 1.2 0a0.6 0.6 0 1 0 -1.2 0M133.92 183.36a0.6 0.6 0 1 0 1.2 0a0.6 0.6 0 1 0 -1.2 0M133.92 189.9a0.6 0.6 0 1 0 1.2 0a0.6 0.6 0 1 0 -1.2 0M133.92 196.44a0.6 0.6 0 1 0 1.2 0a0.6 0.6 0 1 0 -1.2 0M133.92 202.99a0.6 0.6 0 1 0 1.2 0a0.6 0.6 0 1 0 -1.2 0M133.92 209.53a0.6 0.6 0 1 0 1.2 0a0.6 0.6 0 1 0 -1.2 0M133.92 216.07a0.6 0.6 0 1 0 1.2 0a0.6 0.6 0 1 0 -1.2 0M133.92 222.61a0.6 0.6 0 1 0 1.2 0a0.6 0.6 0 1 0 -1.2 0M133.92 229.16a0.6 0.6 0 1 0 1.2 0a0.6 0.6 0 1 0 -1.2 0M133.92 235.7a0.6 0.6 0 1 0 1.2 0a0.6 0.6 0 1 0 -1.2 0M144.26 144.1a0.6 0.6 0 1 0 1.2 0a0.6 0.6 0 1 0 -1.2 0M144.26 150.64a0.6 0.6 0 1 0 1.2 0a0.6 0.6 0 1 0 -1.2 0M144.26 157.19a0.6 0.6 0 1 0 1.2 0a0.6 0.6 0 1 0 -1.2 0M144.26 163.73a0.6 0.6 0 1 0 1.2 0a0.6 0.6 0 1 0 -1.2 0M144.26 170.27a0.6 0.6 0 1 0 1.2 0a0.6 0.6 0 1 0 -1.2 0M144.26 176.81a0.6 0.6 0 1 0 1.2 0a0.6 0.6 0 1 0 -1.2 0M144.26 183.36a0.6 0.6 0 1 0 1.2 0a0.6 0.6 0 1 0 -1.2 0M144.26 189.9a0.6 0.6 0 1 0 1.2 0a0.6 0.6 0 1 0 -1.2 0M144.26 196.44a0.6 0.6 0 1 0 1.2 0a0.6 0.6 0 1 0 -1.2 0M144.26 202.99a0.6 0.6 0 1 0 1.2 0a0.6 0.6 0 1 0 -1.2 0M144.26 209.53a0.6 0.6 0 1 0 1.2 0a0.6 0.6 0 1 0 -1.2 0M144.26 216.07a0.6 0.6 0 1 0 1.2 0a0.6 0.6 0 1 0 -1.2 0M144.26 222.61a0.6 0.6 0 1 0 1.2 0a0.6 0.6 0 1 0 -1.2 0M144.26 229.16a0.6 0.6 0 1 0 1.2 0a0.6 0.6 0 1 0 -1.2 0M144.26 235.7a0.6 0.6 0 1 0 1.2 0a0.6 0.6 0 1 0 -1.2 0M154.59 144.1a0.6 0.6 0 1 0 1.2 0a0.6 0.6 0 1 0 -1.2 0M154.59 150.64a0.6 0.6 0 1 0 1.2 0a0.6 0.6 0 1 0 -1.2 0M154.59 157.19a0.6 0.6 0 1 0 1.2 0a0.6 0.6 0 1 0 -1.2 0M154.59 163.73a0.6 0.6 0 1 0 1.2 0a0.6 0.6 0 1 0 -1.2 0M154.59 170.27a0.6 0.6 0 1 0 1.2 0a0.6 0.6 0 1 0 -1.2 0M154.59 176.81a0.6 0.6 0 1 0 1.2 0a0.6 0.6 0 1 0 -1.2 0M154.59 183.36a0.6 0.6 0 1 0 1.2 0a0.6 0.6 0 1 0 -1.2 0M154.59 189.9a0.6 0.6 0 1 0 1.2 0a0.6 0.6 0 1 0 -1.2 0M154.59 196.44a0.6 0.6 0 1 0 1.2 0a0.6 0.6 0 1 0 -1.2 0M154.59 202.99a0.6 0.6 0 1 0 1.2 0a0.6 0.6 0 1 0 -1.2 0M154.59 209.53a0.6 0.6 0 1 0 1.2 0a0.6 0.6 0 1 0 -1.2 0M154.59 216.07a0.6 0.6 0 1 0 1.2 0a0.6 0.6 0 1 0 -1.2 0M154.59 222.61a0.6 0.6 0 1 0 1.2 0a0.6 0.6 0 1 0 -1.2 0M154.59 229.16a0.6 0.6 0 1 0 1.2 0a0.6 0.6 0 1 0 -1.2 0M154.59 235.7a0.6 0.6 0 1 0 1.2 0a0.6 0.6 0 1 0 -1.2 0M164.93 144.1a0.6 0.6 0 1 0 1.2 0a0.6 0.6 0 1 0 -1.2 0M164.93 150.64a0.6 0.6 0 1 0 1.2 0a0.6 0.6 0 1 0 -1.2 0M164.93 157.19a0.6 0.6 0 1 0 1.2 0a0.6 0.6 0 1 0 -1.2 0M164.93 163.73a0.6 0.6 0 1 0 1.2 0a0.6 0.6 0 1 0 -1.2 0M164.93 170.27a0.6 0.6 0 1 0 1.2 0a0.6 0.6 0 1 0 -1.2 0M164.93 176.81a0.6 0.6 0 1 0 1.2 0a0.6 0.6 0 1 0 -1.2 0M164.93 183.36a0.6 0.6 0 1 0 1.2 0a0.6 0.6 0 1 0 -1.2 0M164.93 189.9a0.6 0.6 0 1 0 1.2 0a0.6 0.6 0 1 0 -1.2 0M164.93 196.44a0.6 0.6 0 1 0 1.2 0a0.6 0.6 0 1 0 -1.2 0M164.93 202.99a0.6 0.6 0 1 0 1.2 0a0.6 0.6 0 1 0 -1.2 0M164.93 209.53a0.6 0.6 0 1 0 1.2 0a0.6 0.6 0 1 0 -1.2 0M164.93 216.07a0.6 0.6 0 1 0 1.2 0a0.6 0.6 0 1 0 -1.2 0M164.93 222.61a0.6 0.6 0 1 0 1.2 0a0.6 0.6 0 1 0 -1.2 0M164.93 229.16a0.6 0.6 0 1 0 1.2 0a0.6 0.6 0 1 0 -1.2 0M164.93 235.7a0.6 0.6 0 1 0 1.2 0a0.6 0.6 0 1 0 -1.2 0M175.26 144.1a0.6 0.6 0 1 0 1.2 0a0.6 0.6 0 1 0 -1.2 0M175.26 150.64a0.6 0.6 0 1 0 1.2 0a0.6 0.6 0 1 0 -1.2 0M175.26 157.19a0.6 0.6 0 1 0 1.2 0a0.6 0.6 0 1 0 -1.2 0M175.26 163.73a0.6 0.6 0 1 0 1.2 0a0.6 0.6 0 1 0 -1.2 0M175.26 170.27a0.6 0.6 0 1 0 1.2 0a0.6 0.6 0 1 0 -1.2 0M175.26 176.81a0.6 0.6 0 1 0 1.2 0a0.6 0.6 0 1 0 -1.2 0M175.26 183.36a0.6 0.6 0 1 0 1.2 0a0.6 0.6 0 1 0 -1.2 0M175.26 189.9a0.6 0.6 0 1 0 1.2 0a0.6 0.6 0 1 0 -1.2 0M175.26 196.44a0.6 0.6 0 1 0 1.2 0a0.6 0.6 0 1 0 -1.2 0M175.26 202.99a0.6 0.6 0 1 0 1.2 0a0.6 0.6 0 1 0 -1.2 0M175.26 209.53a0.6 0.6 0 1 0 1.2 0a0.6 0.6 0 1 0 -1.2 0M175.26 216.07a0.6 0.6 0 1 0 1.2 0a0.6 0.6 0 1 0 -1.2 0M175.26 222.61a0.6 0.6 0 1 0 1.2 0a0.6 0.6 0 1 0 -1.2 0M175.26 229.16a0.6 0.6 0 1 0 1.2 0a0.6 0.6 0 1 0 -1.2 0M175.26 235.7a0.6 0.6 0 1 0 1.2 0a0.6 0.6 0 1 0 -1.2 0M185.6 144.1a0.6 0.6 0 1 0 1.2 0a0.6 0.6 0 1 0 -1.2 0M185.6 150.64a0.6 0.6 0 1 0 1.2 0a0.6 0.6 0 1 0 -1.2 0M185.6 157.19a0.6 0.6 0 1 0 1.2 0a0.6 0.6 0 1 0 -1.2 0M185.6 163.73a0.6 0.6 0 1 0 1.2 0a0.6 0.6 0 1 0 -1.2 0M185.6 170.27a0.6 0.6 0 1 0 1.2 0a0.6 0.6 0 1 0 -1.2 0M185.6 176.81a0.6 0.6 0 1 0 1.2 0a0.6 0.6 0 1 0 -1.2 0M185.6 183.36a0.6 0.6 0 1 0 1.2 0a0.6 0.6 0 1 0 -1.2 0M185.6 189.9a0.6 0.6 0 1 0 1.2 0a0.6 0.6 0 1 0 -1.2 0M185.6 196.44a0.6 0.6 0 1 0 1.2 0a0.6 0.6 0 1 0 -1.2 0M185.6 202.99a0.6 0.6 0 1 0 1.2 0a0.6 0.6 0 1 0 -1.2 0M185.6 209.53a0.6 0.6 0 1 0 1.2 0a0.6 0.6 0 1 0 -1.2 0M185.6 216.07a0.6 0.6 0 1 0 1.2 0a0.6 0.6 0 1 0 -1.2 0M185.6 222.61a0.6 0.6 0 1 0 1.2 0a0.6 0.6 0 1 0 -1.2 0M185.6 229.16a0.6 0.6 0 1 0 1.2 0a0.6 0.6 0 1 0 -1.2 0M185.6 235.7a0.6 0.6 0 1 0 1.2 0a0.6 0.6 0 1 0 -1.2 0" fill="#1a1a1a" fill-opacity="0.8"/>
<path d="M37.4 141.7V238.1H190.3" stroke="#8c8c8c" stroke-width="1.1" fill="none"/>
<path d="M41.5 238.1v3.3M37.4 235.7h-3.3M82.84 238.1v3.3M37.4 209.53h-3.3M124.19 238.1v3.3M37.4 183.36h-3.3M165.53 238.1v3.3M37.4 157.19h-3.3" stroke="#8c8c8c" stroke-width="1" fill="none"/>
<text x="41.5" y="250.4" font-size="7.4" text-anchor="middle" textLength="10" lengthAdjust="spacingAndGlyphs">1.0</text>
<text x="82.84" y="250.4" font-size="7.4" text-anchor="middle" textLength="10" lengthAdjust="spacingAndGlyphs">1.2</text>
<text x="124.19" y="250.4" font-size="7.4" text-anchor="middle" textLength="10" lengthAdjust="spacingAndGlyphs">1.4</text>
<text x="165.53" y="250.4" font-size="7.4" text-anchor="middle" textLength="10" lengthAdjust="spacingAndGlyphs">1.6</text>
<text x="29.4" y="238.45" font-size="7.4" text-anchor="end" textLength="9.8" lengthAdjust="spacingAndGlyphs">1.0</text>
<text x="29.4" y="212.28" font-size="7.4" text-anchor="end" textLength="9.8" lengthAdjust="spacingAndGlyphs">1.2</text>
<text x="29.4" y="186.11" font-size="7.4" text-anchor="end" textLength="9.8" lengthAdjust="spacingAndGlyphs">1.4</text>
<text x="29.4" y="159.94" font-size="7.4" text-anchor="end" textLength="9.8" lengthAdjust="spacingAndGlyphs">1.6</text>
<text x="113.85" y="135.8" font-size="7.6" text-anchor="middle" textLength="48.4" lengthAdjust="spacingAndGlyphs">M4 (0.5, 1.0)</text>
<g clip-path="url(#c4)">
<rect x="198.3" y="143.1" width="146.7" height="93.6" fill="#ffec00"/>
<polygon points="208.23,139.52 211,152.34 219.1,189.9 228.9,230.2 231.35,240.28 297.98,240.28 295.1,230.2 283.6,189.9 273.7,152.34 270.32,139.52" fill="#e5ea00"/>
<polygon points="209.4,139.52 212.1,152.34 220,189.9 229.8,230.2 232.25,240.28 296.65,240.28 293.8,230.2 282.4,189.9 272.5,152.34 269.12,139.52" fill="#93e418"/>
<polygon points="210.47,139.52 213.1,152.34 220.8,189.9 230.6,230.2 233.05,240.28 294.68,240.28 291.9,230.2 280.8,189.9 270.9,152.34 267.52,139.52" fill="#4bd650"/>
<polygon points="211.57,139.52 214.2,152.34 221.9,189.9 231.7,230.2 234.15,240.28 292.48,240.28 289.7,230.2 278.6,189.9 269.1,152.34 265.86,139.52" fill="#15c279"/>
<polygon points="213.51,139.52 216,152.34 223.3,189.9 233.5,230.2 236.05,240.28 288.8,240.28 286.1,230.2 275.3,189.9 266.2,152.34 263.09,139.52" fill="#04a88f"/>
<polygon points="216.67,139.52 219.3,152.34 227,189.9 238.3,230.2 241.12,240.28 283.5,240.28 281,230.2 271,189.9 261.8,152.34 258.66,139.52" fill="#118c99"/>
<polygon points="219.73,139.52 222.5,152.34 230.6,189.9 242.6,230.2 245.6,240.28 277.9,240.28 275.5,230.2 265.9,189.9 258.2,152.34 255.57,139.52" fill="#21709d"/>
<polygon points="223.33,139.52 226.2,152.34 234.6,189.9 246.3,230.2 249.23,240.28 273.12,240.28 270.8,230.2 261.5,189.9 253.8,152.34 251.17,139.52" fill="#34529c"/>
<polygon points="226.66,139.52 229.8,152.34 239,189.9 250.6,230.2 253.5,240.28 268.2,240.28 265.7,230.2 255.7,189.9 248.7,152.34 246.31,139.52" fill="#473093"/>
</g>
<path d="M198.7 144.1a0.6 0.6 0 1 0 1.2 0a0.6 0.6 0 1 0 -1.2 0M198.7 150.64a0.6 0.6 0 1 0 1.2 0a0.6 0.6 0 1 0 -1.2 0M198.7 157.19a0.6 0.6 0 1 0 1.2 0a0.6 0.6 0 1 0 -1.2 0M198.7 163.73a0.6 0.6 0 1 0 1.2 0a0.6 0.6 0 1 0 -1.2 0M198.7 170.27a0.6 0.6 0 1 0 1.2 0a0.6 0.6 0 1 0 -1.2 0M198.7 176.81a0.6 0.6 0 1 0 1.2 0a0.6 0.6 0 1 0 -1.2 0M198.7 183.36a0.6 0.6 0 1 0 1.2 0a0.6 0.6 0 1 0 -1.2 0M198.7 189.9a0.6 0.6 0 1 0 1.2 0a0.6 0.6 0 1 0 -1.2 0M198.7 196.44a0.6 0.6 0 1 0 1.2 0a0.6 0.6 0 1 0 -1.2 0M198.7 202.99a0.6 0.6 0 1 0 1.2 0a0.6 0.6 0 1 0 -1.2 0M198.7 209.53a0.6 0.6 0 1 0 1.2 0a0.6 0.6 0 1 0 -1.2 0M198.7 216.07a0.6 0.6 0 1 0 1.2 0a0.6 0.6 0 1 0 -1.2 0M198.7 222.61a0.6 0.6 0 1 0 1.2 0a0.6 0.6 0 1 0 -1.2 0M198.7 229.16a0.6 0.6 0 1 0 1.2 0a0.6 0.6 0 1 0 -1.2 0M198.7 235.7a0.6 0.6 0 1 0 1.2 0a0.6 0.6 0 1 0 -1.2 0M209.04 144.1a0.6 0.6 0 1 0 1.2 0a0.6 0.6 0 1 0 -1.2 0M209.04 150.64a0.6 0.6 0 1 0 1.2 0a0.6 0.6 0 1 0 -1.2 0M209.04 157.19a0.6 0.6 0 1 0 1.2 0a0.6 0.6 0 1 0 -1.2 0M209.04 163.73a0.6 0.6 0 1 0 1.2 0a0.6 0.6 0 1 0 -1.2 0M209.04 170.27a0.6 0.6 0 1 0 1.2 0a0.6 0.6 0 1 0 -1.2 0M209.04 176.81a0.6 0.6 0 1 0 1.2 0a0.6 0.6 0 1 0 -1.2 0M209.04 183.36a0.6 0.6 0 1 0 1.2 0a0.6 0.6 0 1 0 -1.2 0M209.04 189.9a0.6 0.6 0 1 0 1.2 0a0.6 0.6 0 1 0 -1.2 0M209.04 196.44a0.6 0.6 0 1 0 1.2 0a0.6 0.6 0 1 0 -1.2 0M209.04 202.99a0.6 0.6 0 1 0 1.2 0a0.6 0.6 0 1 0 -1.2 0M209.04 209.53a0.6 0.6 0 1 0 1.2 0a0.6 0.6 0 1 0 -1.2 0M209.04 216.07a0.6 0.6 0 1 0 1.2 0a0.6 0.6 0 1 0 -1.2 0M209.04 222.61a0.6 0.6 0 1 0 1.2 0a0.6 0.6 0 1 0 -1.2 0M209.04 229.16a0.6 0.6 0 1 0 1.2 0a0.6 0.6 0 1 0 -1.2 0M209.04 235.7a0.6 0.6 0 1 0 1.2 0a0.6 0.6 0 1 0 -1.2 0M219.37 144.1a0.6 0.6 0 1 0 1.2 0a0.6 0.6 0 1 0 -1.2 0M219.37 150.64a0.6 0.6 0 1 0 1.2 0a0.6 0.6 0 1 0 -1.2 0M219.37 157.19a0.6 0.6 0 1 0 1.2 0a0.6 0.6 0 1 0 -1.2 0M219.37 163.73a0.6 0.6 0 1 0 1.2 0a0.6 0.6 0 1 0 -1.2 0M219.37 170.27a0.6 0.6 0 1 0 1.2 0a0.6 0.6 0 1 0 -1.2 0M219.37 176.81a0.6 0.6 0 1 0 1.2 0a0.6 0.6 0 1 0 -1.2 0M219.37 183.36a0.6 0.6 0 1 0 1.2 0a0.6 0.6 0 1 0 -1.2 0M219.37 189.9a0.6 0.6 0 1 0 1.2 0a0.6 0.6 0 1 0 -1.2 0M219.37 196.44a0.6 0.6 0 1 0 1.2 0a0.6 0.6 0 1 0 -1.2 0M219.37 202.99a0.6 0.6 0 1 0 1.2 0a0.6 0.6 0 1 0 -1.2 0M219.37 209.53a0.6 0.6 0 1 0 1.2 0a0.6 0.6 0 1 0 -1.2 0M219.37 216.07a0.6 0.6 0 1 0 1.2 0a0.6 0.6 0 1 0 -1.2 0M219.37 222.61a0.6 0.6 0 1 0 1.2 0a0.6 0.6 0 1 0 -1.2 0M219.37 229.16a0.6 0.6 0 1 0 1.2 0a0.6 0.6 0 1 0 -1.2 0M219.37 235.7a0.6 0.6 0 1 0 1.2 0a0.6 0.6 0 1 0 -1.2 0M229.71 144.1a0.6 0.6 0 1 0 1.2 0a0.6 0.6 0 1 0 -1.2 0M229.71 150.64a0.6 0.6 0 1 0 1.2 0a0.6 0.6 0 1 0 -1.2 0M229.71 157.19a0.6 0.6 0 1 0 1.2 0a0.6 0.6 0 1 0 -1.2 0M229.71 163.73a0.6 0.6 0 1 0 1.2 0a0.6 0.6 0 1 0 -1.2 0M229.71 170.27a0.6 0.6 0 1 0 1.2 0a0.6 0.6 0 1 0 -1.2 0M229.71 176.81a0.6 0.6 0 1 0 1.2 0a0.6 0.6 0 1 0 -1.2 0M229.71 183.36a0.6 0.6 0 1 0 1.2 0a0.6 0.6 0 1 0 -1.2 0M229.71 189.9a0.6 0.6 0 1 0 1.2 0a0.6 0.6 0 1 0 -1.2 0M229.71 196.44a0.6 0.6 0 1 0 1.2 0a0.6 0.6 0 1 0 -1.2 0M229.71 202.99a0.6 0.6 0 1 0 1.2 0a0.6 0.6 0 1 0 -1.2 0M229.71 209.53a0.6 0.6 0 1 0 1.2 0a0.6 0.6 0 1 0 -1.2 0M229.71 216.07a0.6 0.6 0 1 0 1.2 0a0.6 0.6 0 1 0 -1.2 0M229.71 222.61a0.6 0.6 0 1 0 1.2 0a0.6 0.6 0 1 0 -1.2 0M229.71 229.16a0.6 0.6 0 1 0 1.2 0a0.6 0.6 0 1 0 -1.2 0M229.71 235.7a0.6 0.6 0 1 0 1.2 0a0.6 0.6 0 1 0 -1.2 0M240.04 144.1a0.6 0.6 0 1 0 1.2 0a0.6 0.6 0 1 0 -1.2 0M240.04 150.64a0.6 0.6 0 1 0 1.2 0a0.6 0.6 0 1 0 -1.2 0M240.04 157.19a0.6 0.6 0 1 0 1.2 0a0.6 0.6 0 1 0 -1.2 0M240.04 163.73a0.6 0.6 0 1 0 1.2 0a0.6 0.6 0 1 0 -1.2 0M240.04 170.27a0.6 0.6 0 1 0 1.2 0a0.6 0.6 0 1 0 -1.2 0M240.04 176.81a0.6 0.6 0 1 0 1.2 0a0.6 0.6 0 1 0 -1.2 0M240.04 183.36a0.6 0.6 0 1 0 1.2 0a0.6 0.6 0 1 0 -1.2 0M240.04 189.9a0.6 0.6 0 1 0 1.2 0a0.6 0.6 0 1 0 -1.2 0M240.04 196.44a0.6 0.6 0 1 0 1.2 0a0.6 0.6 0 1 0 -1.2 0M240.04 202.99a0.6 0.6 0 1 0 1.2 0a0.6 0.6 0 1 0 -1.2 0M240.04 209.53a0.6 0.6 0 1 0 1.2 0a0.6 0.6 0 1 0 -1.2 0M240.04 216.07a0.6 0.6 0 1 0 1.2 0a0.6 0.6 0 1 0 -1.2 0M240.04 222.61a0.6 0.6 0 1 0 1.2 0a0.6 0.6 0 1 0 -1.2 0M240.04 229.16a0.6 0.6 0 1 0 1.2 0a0.6 0.6 0 1 0 -1.2 0M240.04 235.7a0.6 0.6 0 1 0 1.2 0a0.6 0.6 0 1 0 -1.2 0M250.38 144.1a0.6 0.6 0 1 0 1.2 0a0.6 0.6 0 1 0 -1.2 0M250.38 150.64a0.6 0.6 0 1 0 1.2 0a0.6 0.6 0 1 0 -1.2 0M250.38 157.19a0.6 0.6 0 1 0 1.2 0a0.6 0.6 0 1 0 -1.2 0M250.38 163.73a0.6 0.6 0 1 0 1.2 0a0.6 0.6 0 1 0 -1.2 0M250.38 170.27a0.6 0.6 0 1 0 1.2 0a0.6 0.6 0 1 0 -1.2 0M250.38 176.81a0.6 0.6 0 1 0 1.2 0a0.6 0.6 0 1 0 -1.2 0M250.38 183.36a0.6 0.6 0 1 0 1.2 0a0.6 0.6 0 1 0 -1.2 0M250.38 189.9a0.6 0.6 0 1 0 1.2 0a0.6 0.6 0 1 0 -1.2 0M250.38 196.44a0.6 0.6 0 1 0 1.2 0a0.6 0.6 0 1 0 -1.2 0M250.38 202.99a0.6 0.6 0 1 0 1.2 0a0.6 0.6 0 1 0 -1.2 0M250.38 209.53a0.6 0.6 0 1 0 1.2 0a0.6 0.6 0 1 0 -1.2 0M250.38 216.07a0.6 0.6 0 1 0 1.2 0a0.6 0.6 0 1 0 -1.2 0M250.38 222.61a0.6 0.6 0 1 0 1.2 0a0.6 0.6 0 1 0 -1.2 0M250.38 229.16a0.6 0.6 0 1 0 1.2 0a0.6 0.6 0 1 0 -1.2 0M250.38 235.7a0.6 0.6 0 1 0 1.2 0a0.6 0.6 0 1 0 -1.2 0M260.71 144.1a0.6 0.6 0 1 0 1.2 0a0.6 0.6 0 1 0 -1.2 0M260.71 150.64a0.6 0.6 0 1 0 1.2 0a0.6 0.6 0 1 0 -1.2 0M260.71 157.19a0.6 0.6 0 1 0 1.2 0a0.6 0.6 0 1 0 -1.2 0M260.71 163.73a0.6 0.6 0 1 0 1.2 0a0.6 0.6 0 1 0 -1.2 0M260.71 170.27a0.6 0.6 0 1 0 1.2 0a0.6 0.6 0 1 0 -1.2 0M260.71 176.81a0.6 0.6 0 1 0 1.2 0a0.6 0.6 0 1 0 -1.2 0M260.71 183.36a0.6 0.6 0 1 0 1.2 0a0.6 0.6 0 1 0 -1.2 0M260.71 189.9a0.6 0.6 0 1 0 1.2 0a0.6 0.6 0 1 0 -1.2 0M260.71 196.44a0.6 0.6 0 1 0 1.2 0a0.6 0.6 0 1 0 -1.2 0M260.71 202.99a0.6 0.6 0 1 0 1.2 0a0.6 0.6 0 1 0 -1.2 0M260.71 209.53a0.6 0.6 0 1 0 1.2 0a0.6 0.6 0 1 0 -1.2 0M260.71 216.07a0.6 0.6 0 1 0 1.2 0a0.6 0.6 0 1 0 -1.2 0M260.71 222.61a0.6 0.6 0 1 0 1.2 0a0.6 0.6 0 1 0 -1.2 0M260.71 229.16a0.6 0.6 0 1 0 1.2 0a0.6 0.6 0 1 0 -1.2 0M260.71 235.7a0.6 0.6 0 1 0 1.2 0a0.6 0.6 0 1 0 -1.2 0M271.05 144.1a0.6 0.6 0 1 0 1.2 0a0.6 0.6 0 1 0 -1.2 0M271.05 150.64a0.6 0.6 0 1 0 1.2 0a0.6 0.6 0 1 0 -1.2 0M271.05 157.19a0.6 0.6 0 1 0 1.2 0a0.6 0.6 0 1 0 -1.2 0M271.05 163.73a0.6 0.6 0 1 0 1.2 0a0.6 0.6 0 1 0 -1.2 0M271.05 170.27a0.6 0.6 0 1 0 1.2 0a0.6 0.6 0 1 0 -1.2 0M271.05 176.81a0.6 0.6 0 1 0 1.2 0a0.6 0.6 0 1 0 -1.2 0M271.05 183.36a0.6 0.6 0 1 0 1.2 0a0.6 0.6 0 1 0 -1.2 0M271.05 189.9a0.6 0.6 0 1 0 1.2 0a0.6 0.6 0 1 0 -1.2 0M271.05 196.44a0.6 0.6 0 1 0 1.2 0a0.6 0.6 0 1 0 -1.2 0M271.05 202.99a0.6 0.6 0 1 0 1.2 0a0.6 0.6 0 1 0 -1.2 0M271.05 209.53a0.6 0.6 0 1 0 1.2 0a0.6 0.6 0 1 0 -1.2 0M271.05 216.07a0.6 0.6 0 1 0 1.2 0a0.6 0.6 0 1 0 -1.2 0M271.05 222.61a0.6 0.6 0 1 0 1.2 0a0.6 0.6 0 1 0 -1.2 0M271.05 229.16a0.6 0.6 0 1 0 1.2 0a0.6 0.6 0 1 0 -1.2 0M271.05 235.7a0.6 0.6 0 1 0 1.2 0a0.6 0.6 0 1 0 -1.2 0M281.39 144.1a0.6 0.6 0 1 0 1.2 0a0.6 0.6 0 1 0 -1.2 0M281.39 150.64a0.6 0.6 0 1 0 1.2 0a0.6 0.6 0 1 0 -1.2 0M281.39 157.19a0.6 0.6 0 1 0 1.2 0a0.6 0.6 0 1 0 -1.2 0M281.39 163.73a0.6 0.6 0 1 0 1.2 0a0.6 0.6 0 1 0 -1.2 0M281.39 170.27a0.6 0.6 0 1 0 1.2 0a0.6 0.6 0 1 0 -1.2 0M281.39 176.81a0.6 0.6 0 1 0 1.2 0a0.6 0.6 0 1 0 -1.2 0M281.39 183.36a0.6 0.6 0 1 0 1.2 0a0.6 0.6 0 1 0 -1.2 0M281.39 189.9a0.6 0.6 0 1 0 1.2 0a0.6 0.6 0 1 0 -1.2 0M281.39 196.44a0.6 0.6 0 1 0 1.2 0a0.6 0.6 0 1 0 -1.2 0M281.39 202.99a0.6 0.6 0 1 0 1.2 0a0.6 0.6 0 1 0 -1.2 0M281.39 209.53a0.6 0.6 0 1 0 1.2 0a0.6 0.6 0 1 0 -1.2 0M281.39 216.07a0.6 0.6 0 1 0 1.2 0a0.6 0.6 0 1 0 -1.2 0M281.39 222.61a0.6 0.6 0 1 0 1.2 0a0.6 0.6 0 1 0 -1.2 0M281.39 229.16a0.6 0.6 0 1 0 1.2 0a0.6 0.6 0 1 0 -1.2 0M281.39 235.7a0.6 0.6 0 1 0 1.2 0a0.6 0.6 0 1 0 -1.2 0M291.72 144.1a0.6 0.6 0 1 0 1.2 0a0.6 0.6 0 1 0 -1.2 0M291.72 150.64a0.6 0.6 0 1 0 1.2 0a0.6 0.6 0 1 0 -1.2 0M291.72 157.19a0.6 0.6 0 1 0 1.2 0a0.6 0.6 0 1 0 -1.2 0M291.72 163.73a0.6 0.6 0 1 0 1.2 0a0.6 0.6 0 1 0 -1.2 0M291.72 170.27a0.6 0.6 0 1 0 1.2 0a0.6 0.6 0 1 0 -1.2 0M291.72 176.81a0.6 0.6 0 1 0 1.2 0a0.6 0.6 0 1 0 -1.2 0M291.72 183.36a0.6 0.6 0 1 0 1.2 0a0.6 0.6 0 1 0 -1.2 0M291.72 189.9a0.6 0.6 0 1 0 1.2 0a0.6 0.6 0 1 0 -1.2 0M291.72 196.44a0.6 0.6 0 1 0 1.2 0a0.6 0.6 0 1 0 -1.2 0M291.72 202.99a0.6 0.6 0 1 0 1.2 0a0.6 0.6 0 1 0 -1.2 0M291.72 209.53a0.6 0.6 0 1 0 1.2 0a0.6 0.6 0 1 0 -1.2 0M291.72 216.07a0.6 0.6 0 1 0 1.2 0a0.6 0.6 0 1 0 -1.2 0M291.72 222.61a0.6 0.6 0 1 0 1.2 0a0.6 0.6 0 1 0 -1.2 0M291.72 229.16a0.6 0.6 0 1 0 1.2 0a0.6 0.6 0 1 0 -1.2 0M291.72 235.7a0.6 0.6 0 1 0 1.2 0a0.6 0.6 0 1 0 -1.2 0M302.06 144.1a0.6 0.6 0 1 0 1.2 0a0.6 0.6 0 1 0 -1.2 0M302.06 150.64a0.6 0.6 0 1 0 1.2 0a0.6 0.6 0 1 0 -1.2 0M302.06 157.19a0.6 0.6 0 1 0 1.2 0a0.6 0.6 0 1 0 -1.2 0M302.06 163.73a0.6 0.6 0 1 0 1.2 0a0.6 0.6 0 1 0 -1.2 0M302.06 170.27a0.6 0.6 0 1 0 1.2 0a0.6 0.6 0 1 0 -1.2 0M302.06 176.81a0.6 0.6 0 1 0 1.2 0a0.6 0.6 0 1 0 -1.2 0M302.06 183.36a0.6 0.6 0 1 0 1.2 0a0.6 0.6 0 1 0 -1.2 0M302.06 189.9a0.6 0.6 0 1 0 1.2 0a0.6 0.6 0 1 0 -1.2 0M302.06 196.44a0.6 0.6 0 1 0 1.2 0a0.6 0.6 0 1 0 -1.2 0M302.06 202.99a0.6 0.6 0 1 0 1.2 0a0.6 0.6 0 1 0 -1.2 0M302.06 209.53a0.6 0.6 0 1 0 1.2 0a0.6 0.6 0 1 0 -1.2 0M302.06 216.07a0.6 0.6 0 1 0 1.2 0a0.6 0.6 0 1 0 -1.2 0M302.06 222.61a0.6 0.6 0 1 0 1.2 0a0.6 0.6 0 1 0 -1.2 0M302.06 229.16a0.6 0.6 0 1 0 1.2 0a0.6 0.6 0 1 0 -1.2 0M302.06 235.7a0.6 0.6 0 1 0 1.2 0a0.6 0.6 0 1 0 -1.2 0M312.39 144.1a0.6 0.6 0 1 0 1.2 0a0.6 0.6 0 1 0 -1.2 0M312.39 150.64a0.6 0.6 0 1 0 1.2 0a0.6 0.6 0 1 0 -1.2 0M312.39 157.19a0.6 0.6 0 1 0 1.2 0a0.6 0.6 0 1 0 -1.2 0M312.39 163.73a0.6 0.6 0 1 0 1.2 0a0.6 0.6 0 1 0 -1.2 0M312.39 170.27a0.6 0.6 0 1 0 1.2 0a0.6 0.6 0 1 0 -1.2 0M312.39 176.81a0.6 0.6 0 1 0 1.2 0a0.6 0.6 0 1 0 -1.2 0M312.39 183.36a0.6 0.6 0 1 0 1.2 0a0.6 0.6 0 1 0 -1.2 0M312.39 189.9a0.6 0.6 0 1 0 1.2 0a0.6 0.6 0 1 0 -1.2 0M312.39 196.44a0.6 0.6 0 1 0 1.2 0a0.6 0.6 0 1 0 -1.2 0M312.39 202.99a0.6 0.6 0 1 0 1.2 0a0.6 0.6 0 1 0 -1.2 0M312.39 209.53a0.6 0.6 0 1 0 1.2 0a0.6 0.6 0 1 0 -1.2 0M312.39 216.07a0.6 0.6 0 1 0 1.2 0a0.6 0.6 0 1 0 -1.2 0M312.39 222.61a0.6 0.6 0 1 0 1.2 0a0.6 0.6 0 1 0 -1.2 0M312.39 229.16a0.6 0.6 0 1 0 1.2 0a0.6 0.6 0 1 0 -1.2 0M312.39 235.7a0.6 0.6 0 1 0 1.2 0a0.6 0.6 0 1 0 -1.2 0M322.73 144.1a0.6 0.6 0 1 0 1.2 0a0.6 0.6 0 1 0 -1.2 0M322.73 150.64a0.6 0.6 0 1 0 1.2 0a0.6 0.6 0 1 0 -1.2 0M322.73 157.19a0.6 0.6 0 1 0 1.2 0a0.6 0.6 0 1 0 -1.2 0M322.73 163.73a0.6 0.6 0 1 0 1.2 0a0.6 0.6 0 1 0 -1.2 0M322.73 170.27a0.6 0.6 0 1 0 1.2 0a0.6 0.6 0 1 0 -1.2 0M322.73 176.81a0.6 0.6 0 1 0 1.2 0a0.6 0.6 0 1 0 -1.2 0M322.73 183.36a0.6 0.6 0 1 0 1.2 0a0.6 0.6 0 1 0 -1.2 0M322.73 189.9a0.6 0.6 0 1 0 1.2 0a0.6 0.6 0 1 0 -1.2 0M322.73 196.44a0.6 0.6 0 1 0 1.2 0a0.6 0.6 0 1 0 -1.2 0M322.73 202.99a0.6 0.6 0 1 0 1.2 0a0.6 0.6 0 1 0 -1.2 0M322.73 209.53a0.6 0.6 0 1 0 1.2 0a0.6 0.6 0 1 0 -1.2 0M322.73 216.07a0.6 0.6 0 1 0 1.2 0a0.6 0.6 0 1 0 -1.2 0M322.73 222.61a0.6 0.6 0 1 0 1.2 0a0.6 0.6 0 1 0 -1.2 0M322.73 229.16a0.6 0.6 0 1 0 1.2 0a0.6 0.6 0 1 0 -1.2 0M322.73 235.7a0.6 0.6 0 1 0 1.2 0a0.6 0.6 0 1 0 -1.2 0M333.06 144.1a0.6 0.6 0 1 0 1.2 0a0.6 0.6 0 1 0 -1.2 0M333.06 150.64a0.6 0.6 0 1 0 1.2 0a0.6 0.6 0 1 0 -1.2 0M333.06 157.19a0.6 0.6 0 1 0 1.2 0a0.6 0.6 0 1 0 -1.2 0M333.06 163.73a0.6 0.6 0 1 0 1.2 0a0.6 0.6 0 1 0 -1.2 0M333.06 170.27a0.6 0.6 0 1 0 1.2 0a0.6 0.6 0 1 0 -1.2 0M333.06 176.81a0.6 0.6 0 1 0 1.2 0a0.6 0.6 0 1 0 -1.2 0M333.06 183.36a0.6 0.6 0 1 0 1.2 0a0.6 0.6 0 1 0 -1.2 0M333.06 189.9a0.6 0.6 0 1 0 1.2 0a0.6 0.6 0 1 0 -1.2 0M333.06 196.44a0.6 0.6 0 1 0 1.2 0a0.6 0.6 0 1 0 -1.2 0M333.06 202.99a0.6 0.6 0 1 0 1.2 0a0.6 0.6 0 1 0 -1.2 0M333.06 209.53a0.6 0.6 0 1 0 1.2 0a0.6 0.6 0 1 0 -1.2 0M333.06 216.07a0.6 0.6 0 1 0 1.2 0a0.6 0.6 0 1 0 -1.2 0M333.06 222.61a0.6 0.6 0 1 0 1.2 0a0.6 0.6 0 1 0 -1.2 0M333.06 229.16a0.6 0.6 0 1 0 1.2 0a0.6 0.6 0 1 0 -1.2 0M333.06 235.7a0.6 0.6 0 1 0 1.2 0a0.6 0.6 0 1 0 -1.2 0M343.4 144.1a0.6 0.6 0 1 0 1.2 0a0.6 0.6 0 1 0 -1.2 0M343.4 150.64a0.6 0.6 0 1 0 1.2 0a0.6 0.6 0 1 0 -1.2 0M343.4 157.19a0.6 0.6 0 1 0 1.2 0a0.6 0.6 0 1 0 -1.2 0M343.4 163.73a0.6 0.6 0 1 0 1.2 0a0.6 0.6 0 1 0 -1.2 0M343.4 170.27a0.6 0.6 0 1 0 1.2 0a0.6 0.6 0 1 0 -1.2 0M343.4 176.81a0.6 0.6 0 1 0 1.2 0a0.6 0.6 0 1 0 -1.2 0M343.4 183.36a0.6 0.6 0 1 0 1.2 0a0.6 0.6 0 1 0 -1.2 0M343.4 189.9a0.6 0.6 0 1 0 1.2 0a0.6 0.6 0 1 0 -1.2 0M343.4 196.44a0.6 0.6 0 1 0 1.2 0a0.6 0.6 0 1 0 -1.2 0M343.4 202.99a0.6 0.6 0 1 0 1.2 0a0.6 0.6 0 1 0 -1.2 0M343.4 209.53a0.6 0.6 0 1 0 1.2 0a0.6 0.6 0 1 0 -1.2 0M343.4 216.07a0.6 0.6 0 1 0 1.2 0a0.6 0.6 0 1 0 -1.2 0M343.4 222.61a0.6 0.6 0 1 0 1.2 0a0.6 0.6 0 1 0 -1.2 0M343.4 229.16a0.6 0.6 0 1 0 1.2 0a0.6 0.6 0 1 0 -1.2 0M343.4 235.7a0.6 0.6 0 1 0 1.2 0a0.6 0.6 0 1 0 -1.2 0" fill="#1a1a1a" fill-opacity="0.8"/>
<path d="M195.2 141.7V238.1H348.1" stroke="#8c8c8c" stroke-width="1.1" fill="none"/>
<path d="M199.3 238.1v3.3M195.2 235.7h-3.3M240.64 238.1v3.3M195.2 209.53h-3.3M281.99 238.1v3.3M195.2 183.36h-3.3M323.33 238.1v3.3M195.2 157.19h-3.3" stroke="#8c8c8c" stroke-width="1" fill="none"/>
<text x="199.3" y="250.4" font-size="7.4" text-anchor="middle" textLength="10" lengthAdjust="spacingAndGlyphs">1.0</text>
<text x="240.64" y="250.4" font-size="7.4" text-anchor="middle" textLength="10" lengthAdjust="spacingAndGlyphs">1.2</text>
<text x="281.99" y="250.4" font-size="7.4" text-anchor="middle" textLength="10" lengthAdjust="spacingAndGlyphs">1.4</text>
<text x="323.33" y="250.4" font-size="7.4" text-anchor="middle" textLength="10" lengthAdjust="spacingAndGlyphs">1.6</text>
<text x="271.65" y="135.8" font-size="7.6" text-anchor="middle" textLength="41.5" lengthAdjust="spacingAndGlyphs">M5 (0, 1.0)</text>
<g clip-path="url(#c5)">
<rect x="356.1" y="143.1" width="146.7" height="93.6" fill="#ffec00"/>
<polygon points="370.04,139.52 372.4,152.34 379.3,189.9 390.8,230.2 393.68,240.28 461,240.28 458.1,230.2 446.5,189.9 437.2,152.34 434.02,139.52" fill="#e5ea00"/>
<polygon points="370.94,139.52 373.3,152.34 380.2,189.9 391.7,230.2 394.58,240.28 459.68,240.28 456.8,230.2 445.3,189.9 436.1,152.34 432.96,139.52" fill="#93e418"/>
<polygon points="371.88,139.52 374.2,152.34 381,189.9 392.6,230.2 395.5,240.28 458.08,240.28 455.2,230.2 443.7,189.9 434.7,152.34 431.63,139.52" fill="#4bd650"/>
<polygon points="372.44,139.52 374.9,152.34 382.1,189.9 393.7,230.2 396.6,240.28 455.83,240.28 453.1,230.2 442.2,189.9 433.2,152.34 430.13,139.52" fill="#15c279"/>
<polygon points="373.7,139.52 376.3,152.34 383.9,189.9 394.1,230.2 396.65,240.28 452.6,240.28 450.1,230.2 440.1,189.9 430.9,152.34 427.76,139.52" fill="#04a88f"/>
<polygon points="377.17,139.52 380,152.34 388.3,189.9 398.4,230.2 400.93,240.28 447.45,240.28 445.1,230.2 435.7,189.9 427.1,152.34 424.16,139.52" fill="#118c99"/>
<polygon points="380.36,139.52 383.3,152.34 391.9,189.9 402.8,230.2 405.53,240.28 441.35,240.28 439.2,230.2 430.6,189.9 422.1,152.34 419.2,139.52" fill="#21709d"/>
<polygon points="383.26,139.52 386.2,152.34 394.8,189.9 406.4,230.2 409.3,240.28 436.25,240.28 434.1,230.2 425.5,189.9 418.6,152.34 416.24,139.52" fill="#34529c"/>
<polygon points="385.92,139.52 389.1,152.34 398.4,189.9 410.8,230.2 413.9,240.28 432.15,240.28 429.8,230.2 420.4,189.9 413.9,152.34 411.68,139.52" fill="#473093"/>
<polygon points="397.7,143.1 402.4,143.1 404.2,163.1 410.2,180.1 410.1,208.1 409.5,208.1 409.3,180.1 400.9,163.1" fill="#4f0c76"/>
</g>
<path d="M356.5 144.1a0.6 0.6 0 1 0 1.2 0a0.6 0.6 0 1 0 -1.2 0M356.5 150.64a0.6 0.6 0 1 0 1.2 0a0.6 0.6 0 1 0 -1.2 0M356.5 157.19a0.6 0.6 0 1 0 1.2 0a0.6 0.6 0 1 0 -1.2 0M356.5 163.73a0.6 0.6 0 1 0 1.2 0a0.6 0.6 0 1 0 -1.2 0M356.5 170.27a0.6 0.6 0 1 0 1.2 0a0.6 0.6 0 1 0 -1.2 0M356.5 176.81a0.6 0.6 0 1 0 1.2 0a0.6 0.6 0 1 0 -1.2 0M356.5 183.36a0.6 0.6 0 1 0 1.2 0a0.6 0.6 0 1 0 -1.2 0M356.5 189.9a0.6 0.6 0 1 0 1.2 0a0.6 0.6 0 1 0 -1.2 0M356.5 196.44a0.6 0.6 0 1 0 1.2 0a0.6 0.6 0 1 0 -1.2 0M356.5 202.99a0.6 0.6 0 1 0 1.2 0a0.6 0.6 0 1 0 -1.2 0M356.5 209.53a0.6 0.6 0 1 0 1.2 0a0.6 0.6 0 1 0 -1.2 0M356.5 216.07a0.6 0.6 0 1 0 1.2 0a0.6 0.6 0 1 0 -1.2 0M356.5 222.61a0.6 0.6 0 1 0 1.2 0a0.6 0.6 0 1 0 -1.2 0M356.5 229.16a0.6 0.6 0 1 0 1.2 0a0.6 0.6 0 1 0 -1.2 0M356.5 235.7a0.6 0.6 0 1 0 1.2 0a0.6 0.6 0 1 0 -1.2 0M366.84 144.1a0.6 0.6 0 1 0 1.2 0a0.6 0.6 0 1 0 -1.2 0M366.84 150.64a0.6 0.6 0 1 0 1.2 0a0.6 0.6 0 1 0 -1.2 0M366.84 157.19a0.6 0.6 0 1 0 1.2 0a0.6 0.6 0 1 0 -1.2 0M366.84 163.73a0.6 0.6 0 1 0 1.2 0a0.6 0.6 0 1 0 -1.2 0M366.84 170.27a0.6 0.6 0 1 0 1.2 0a0.6 0.6 0 1 0 -1.2 0M366.84 176.81a0.6 0.6 0 1 0 1.2 0a0.6 0.6 0 1 0 -1.2 0M366.84 183.36a0.6 0.6 0 1 0 1.2 0a0.6 0.6 0 1 0 -1.2 0M366.84 189.9a0.6 0.6 0 1 0 1.2 0a0.6 0.6 0 1 0 -1.2 0M366.84 196.44a0.6 0.6 0 1 0 1.2 0a0.6 0.6 0 1 0 -1.2 0M366.84 202.99a0.6 0.6 0 1 0 1.2 0a0.6 0.6 0 1 0 -1.2 0M366.84 209.53a0.6 0.6 0 1 0 1.2 0a0.6 0.6 0 1 0 -1.2 0M366.84 216.07a0.6 0.6 0 1 0 1.2 0a0.6 0.6 0 1 0 -1.2 0M366.84 222.61a0.6 0.6 0 1 0 1.2 0a0.6 0.6 0 1 0 -1.2 0M366.84 229.16a0.6 0.6 0 1 0 1.2 0a0.6 0.6 0 1 0 -1.2 0M366.84 235.7a0.6 0.6 0 1 0 1.2 0a0.6 0.6 0 1 0 -1.2 0M377.17 144.1a0.6 0.6 0 1 0 1.2 0a0.6 0.6 0 1 0 -1.2 0M377.17 150.64a0.6 0.6 0 1 0 1.2 0a0.6 0.6 0 1 0 -1.2 0M377.17 157.19a0.6 0.6 0 1 0 1.2 0a0.6 0.6 0 1 0 -1.2 0M377.17 163.73a0.6 0.6 0 1 0 1.2 0a0.6 0.6 0 1 0 -1.2 0M377.17 170.27a0.6 0.6 0 1 0 1.2 0a0.6 0.6 0 1 0 -1.2 0M377.17 176.81a0.6 0.6 0 1 0 1.2 0a0.6 0.6 0 1 0 -1.2 0M377.17 183.36a0.6 0.6 0 1 0 1.2 0a0.6 0.6 0 1 0 -1.2 0M377.17 189.9a0.6 0.6 0 1 0 1.2 0a0.6 0.6 0 1 0 -1.2 0M377.17 196.44a0.6 0.6 0 1 0 1.2 0a0.6 0.6 0 1 0 -1.2 0M377.17 202.99a0.6 0.6 0 1 0 1.2 0a0.6 0.6 0 1 0 -1.2 0M377.17 209.53a0.6 0.6 0 1 0 1.2 0a0.6 0.6 0 1 0 -1.2 0M377.17 216.07a0.6 0.6 0 1 0 1.2 0a0.6 0.6 0 1 0 -1.2 0M377.17 222.61a0.6 0.6 0 1 0 1.2 0a0.6 0.6 0 1 0 -1.2 0M377.17 229.16a0.6 0.6 0 1 0 1.2 0a0.6 0.6 0 1 0 -1.2 0M377.17 235.7a0.6 0.6 0 1 0 1.2 0a0.6 0.6 0 1 0 -1.2 0M387.51 144.1a0.6 0.6 0 1 0 1.2 0a0.6 0.6 0 1 0 -1.2 0M387.51 150.64a0.6 0.6 0 1 0 1.2 0a0.6 0.6 0 1 0 -1.2 0M387.51 157.19a0.6 0.6 0 1 0 1.2 0a0.6 0.6 0 1 0 -1.2 0M387.51 163.73a0.6 0.6 0 1 0 1.2 0a0.6 0.6 0 1 0 -1.2 0M387.51 170.27a0.6 0.6 0 1 0 1.2 0a0.6 0.6 0 1 0 -1.2 0M387.51 176.81a0.6 0.6 0 1 0 1.2 0a0.6 0.6 0 1 0 -1.2 0M387.51 183.36a0.6 0.6 0 1 0 1.2 0a0.6 0.6 0 1 0 -1.2 0M387.51 189.9a0.6 0.6 0 1 0 1.2 0a0.6 0.6 0 1 0 -1.2 0M387.51 196.44a0.6 0.6 0 1 0 1.2 0a0.6 0.6 0 1 0 -1.2 0M387.51 202.99a0.6 0.6 0 1 0 1.2 0a0.6 0.6 0 1 0 -1.2 0M387.51 209.53a0.6 0.6 0 1 0 1.2 0a0.6 0.6 0 1 0 -1.2 0M387.51 216.07a0.6 0.6 0 1 0 1.2 0a0.6 0.6 0 1 0 -1.2 0M387.51 222.61a0.6 0.6 0 1 0 1.2 0a0.6 0.6 0 1 0 -1.2 0M387.51 229.16a0.6 0.6 0 1 0 1.2 0a0.6 0.6 0 1 0 -1.2 0M387.51 235.7a0.6 0.6 0 1 0 1.2 0a0.6 0.6 0 1 0 -1.2 0M397.84 144.1a0.6 0.6 0 1 0 1.2 0a0.6 0.6 0 1 0 -1.2 0M397.84 150.64a0.6 0.6 0 1 0 1.2 0a0.6 0.6 0 1 0 -1.2 0M397.84 157.19a0.6 0.6 0 1 0 1.2 0a0.6 0.6 0 1 0 -1.2 0M397.84 163.73a0.6 0.6 0 1 0 1.2 0a0.6 0.6 0 1 0 -1.2 0M397.84 170.27a0.6 0.6 0 1 0 1.2 0a0.6 0.6 0 1 0 -1.2 0M397.84 176.81a0.6 0.6 0 1 0 1.2 0a0.6 0.6 0 1 0 -1.2 0M397.84 183.36a0.6 0.6 0 1 0 1.2 0a0.6 0.6 0 1 0 -1.2 0M397.84 189.9a0.6 0.6 0 1 0 1.2 0a0.6 0.6 0 1 0 -1.2 0M397.84 196.44a0.6 0.6 0 1 0 1.2 0a0.6 0.6 0 1 0 -1.2 0M397.84 202.99a0.6 0.6 0 1 0 1.2 0a0.6 0.6 0 1 0 -1.2 0M397.84 209.53a0.6 0.6 0 1 0 1.2 0a0.6 0.6 0 1 0 -1.2 0M397.84 216.07a0.6 0.6 0 1 0 1.2 0a0.6 0.6 0 1 0 -1.2 0M397.84 222.61a0.6 0.6 0 1 0 1.2 0a0.6 0.6 0 1 0 -1.2 0M397.84 229.16a0.6 0.6 0 1 0 1.2 0a0.6 0.6 0 1 0 -1.2 0M397.84 235.7a0.6 0.6 0 1 0 1.2 0a0.6 0.6 0 1 0 -1.2 0M408.18 144.1a0.6 0.6 0 1 0 1.2 0a0.6 0.6 0 1 0 -1.2 0M408.18 150.64a0.6 0.6 0 1 0 1.2 0a0.6 0.6 0 1 0 -1.2 0M408.18 157.19a0.6 0.6 0 1 0 1.2 0a0.6 0.6 0 1 0 -1.2 0M408.18 163.73a0.6 0.6 0 1 0 1.2 0a0.6 0.6 0 1 0 -1.2 0M408.18 170.27a0.6 0.6 0 1 0 1.2 0a0.6 0.6 0 1 0 -1.2 0M408.18 176.81a0.6 0.6 0 1 0 1.2 0a0.6 0.6 0 1 0 -1.2 0M408.18 183.36a0.6 0.6 0 1 0 1.2 0a0.6 0.6 0 1 0 -1.2 0M408.18 189.9a0.6 0.6 0 1 0 1.2 0a0.6 0.6 0 1 0 -1.2 0M408.18 196.44a0.6 0.6 0 1 0 1.2 0a0.6 0.6 0 1 0 -1.2 0M408.18 202.99a0.6 0.6 0 1 0 1.2 0a0.6 0.6 0 1 0 -1.2 0M408.18 209.53a0.6 0.6 0 1 0 1.2 0a0.6 0.6 0 1 0 -1.2 0M408.18 216.07a0.6 0.6 0 1 0 1.2 0a0.6 0.6 0 1 0 -1.2 0M408.18 222.61a0.6 0.6 0 1 0 1.2 0a0.6 0.6 0 1 0 -1.2 0M408.18 229.16a0.6 0.6 0 1 0 1.2 0a0.6 0.6 0 1 0 -1.2 0M408.18 235.7a0.6 0.6 0 1 0 1.2 0a0.6 0.6 0 1 0 -1.2 0M418.51 144.1a0.6 0.6 0 1 0 1.2 0a0.6 0.6 0 1 0 -1.2 0M418.51 150.64a0.6 0.6 0 1 0 1.2 0a0.6 0.6 0 1 0 -1.2 0M418.51 157.19a0.6 0.6 0 1 0 1.2 0a0.6 0.6 0 1 0 -1.2 0M418.51 163.73a0.6 0.6 0 1 0 1.2 0a0.6 0.6 0 1 0 -1.2 0M418.51 170.27a0.6 0.6 0 1 0 1.2 0a0.6 0.6 0 1 0 -1.2 0M418.51 176.81a0.6 0.6 0 1 0 1.2 0a0.6 0.6 0 1 0 -1.2 0M418.51 183.36a0.6 0.6 0 1 0 1.2 0a0.6 0.6 0 1 0 -1.2 0M418.51 189.9a0.6 0.6 0 1 0 1.2 0a0.6 0.6 0 1 0 -1.2 0M418.51 196.44a0.6 0.6 0 1 0 1.2 0a0.6 0.6 0 1 0 -1.2 0M418.51 202.99a0.6 0.6 0 1 0 1.2 0a0.6 0.6 0 1 0 -1.2 0M418.51 209.53a0.6 0.6 0 1 0 1.2 0a0.6 0.6 0 1 0 -1.2 0M418.51 216.07a0.6 0.6 0 1 0 1.2 0a0.6 0.6 0 1 0 -1.2 0M418.51 222.61a0.6 0.6 0 1 0 1.2 0a0.6 0.6 0 1 0 -1.2 0M418.51 229.16a0.6 0.6 0 1 0 1.2 0a0.6 0.6 0 1 0 -1.2 0M418.51 235.7a0.6 0.6 0 1 0 1.2 0a0.6 0.6 0 1 0 -1.2 0M428.85 144.1a0.6 0.6 0 1 0 1.2 0a0.6 0.6 0 1 0 -1.2 0M428.85 150.64a0.6 0.6 0 1 0 1.2 0a0.6 0.6 0 1 0 -1.2 0M428.85 157.19a0.6 0.6 0 1 0 1.2 0a0.6 0.6 0 1 0 -1.2 0M428.85 163.73a0.6 0.6 0 1 0 1.2 0a0.6 0.6 0 1 0 -1.2 0M428.85 170.27a0.6 0.6 0 1 0 1.2 0a0.6 0.6 0 1 0 -1.2 0M428.85 176.81a0.6 0.6 0 1 0 1.2 0a0.6 0.6 0 1 0 -1.2 0M428.85 183.36a0.6 0.6 0 1 0 1.2 0a0.6 0.6 0 1 0 -1.2 0M428.85 189.9a0.6 0.6 0 1 0 1.2 0a0.6 0.6 0 1 0 -1.2 0M428.85 196.44a0.6 0.6 0 1 0 1.2 0a0.6 0.6 0 1 0 -1.2 0M428.85 202.99a0.6 0.6 0 1 0 1.2 0a0.6 0.6 0 1 0 -1.2 0M428.85 209.53a0.6 0.6 0 1 0 1.2 0a0.6 0.6 0 1 0 -1.2 0M428.85 216.07a0.6 0.6 0 1 0 1.2 0a0.6 0.6 0 1 0 -1.2 0M428.85 222.61a0.6 0.6 0 1 0 1.2 0a0.6 0.6 0 1 0 -1.2 0M428.85 229.16a0.6 0.6 0 1 0 1.2 0a0.6 0.6 0 1 0 -1.2 0M428.85 235.7a0.6 0.6 0 1 0 1.2 0a0.6 0.6 0 1 0 -1.2 0M439.19 144.1a0.6 0.6 0 1 0 1.2 0a0.6 0.6 0 1 0 -1.2 0M439.19 150.64a0.6 0.6 0 1 0 1.2 0a0.6 0.6 0 1 0 -1.2 0M439.19 157.19a0.6 0.6 0 1 0 1.2 0a0.6 0.6 0 1 0 -1.2 0M439.19 163.73a0.6 0.6 0 1 0 1.2 0a0.6 0.6 0 1 0 -1.2 0M439.19 170.27a0.6 0.6 0 1 0 1.2 0a0.6 0.6 0 1 0 -1.2 0M439.19 176.81a0.6 0.6 0 1 0 1.2 0a0.6 0.6 0 1 0 -1.2 0M439.19 183.36a0.6 0.6 0 1 0 1.2 0a0.6 0.6 0 1 0 -1.2 0M439.19 189.9a0.6 0.6 0 1 0 1.2 0a0.6 0.6 0 1 0 -1.2 0M439.19 196.44a0.6 0.6 0 1 0 1.2 0a0.6 0.6 0 1 0 -1.2 0M439.19 202.99a0.6 0.6 0 1 0 1.2 0a0.6 0.6 0 1 0 -1.2 0M439.19 209.53a0.6 0.6 0 1 0 1.2 0a0.6 0.6 0 1 0 -1.2 0M439.19 216.07a0.6 0.6 0 1 0 1.2 0a0.6 0.6 0 1 0 -1.2 0M439.19 222.61a0.6 0.6 0 1 0 1.2 0a0.6 0.6 0 1 0 -1.2 0M439.19 229.16a0.6 0.6 0 1 0 1.2 0a0.6 0.6 0 1 0 -1.2 0M439.19 235.7a0.6 0.6 0 1 0 1.2 0a0.6 0.6 0 1 0 -1.2 0M449.52 144.1a0.6 0.6 0 1 0 1.2 0a0.6 0.6 0 1 0 -1.2 0M449.52 150.64a0.6 0.6 0 1 0 1.2 0a0.6 0.6 0 1 0 -1.2 0M449.52 157.19a0.6 0.6 0 1 0 1.2 0a0.6 0.6 0 1 0 -1.2 0M449.52 163.73a0.6 0.6 0 1 0 1.2 0a0.6 0.6 0 1 0 -1.2 0M449.52 170.27a0.6 0.6 0 1 0 1.2 0a0.6 0.6 0 1 0 -1.2 0M449.52 176.81a0.6 0.6 0 1 0 1.2 0a0.6 0.6 0 1 0 -1.2 0M449.52 183.36a0.6 0.6 0 1 0 1.2 0a0.6 0.6 0 1 0 -1.2 0M449.52 189.9a0.6 0.6 0 1 0 1.2 0a0.6 0.6 0 1 0 -1.2 0M449.52 196.44a0.6 0.6 0 1 0 1.2 0a0.6 0.6 0 1 0 -1.2 0M449.52 202.99a0.6 0.6 0 1 0 1.2 0a0.6 0.6 0 1 0 -1.2 0M449.52 209.53a0.6 0.6 0 1 0 1.2 0a0.6 0.6 0 1 0 -1.2 0M449.52 216.07a0.6 0.6 0 1 0 1.2 0a0.6 0.6 0 1 0 -1.2 0M449.52 222.61a0.6 0.6 0 1 0 1.2 0a0.6 0.6 0 1 0 -1.2 0M449.52 229.16a0.6 0.6 0 1 0 1.2 0a0.6 0.6 0 1 0 -1.2 0M449.52 235.7a0.6 0.6 0 1 0 1.2 0a0.6 0.6 0 1 0 -1.2 0M459.86 144.1a0.6 0.6 0 1 0 1.2 0a0.6 0.6 0 1 0 -1.2 0M459.86 150.64a0.6 0.6 0 1 0 1.2 0a0.6 0.6 0 1 0 -1.2 0M459.86 157.19a0.6 0.6 0 1 0 1.2 0a0.6 0.6 0 1 0 -1.2 0M459.86 163.73a0.6 0.6 0 1 0 1.2 0a0.6 0.6 0 1 0 -1.2 0M459.86 170.27a0.6 0.6 0 1 0 1.2 0a0.6 0.6 0 1 0 -1.2 0M459.86 176.81a0.6 0.6 0 1 0 1.2 0a0.6 0.6 0 1 0 -1.2 0M459.86 183.36a0.6 0.6 0 1 0 1.2 0a0.6 0.6 0 1 0 -1.2 0M459.86 189.9a0.6 0.6 0 1 0 1.2 0a0.6 0.6 0 1 0 -1.2 0M459.86 196.44a0.6 0.6 0 1 0 1.2 0a0.6 0.6 0 1 0 -1.2 0M459.86 202.99a0.6 0.6 0 1 0 1.2 0a0.6 0.6 0 1 0 -1.2 0M459.86 209.53a0.6 0.6 0 1 0 1.2 0a0.6 0.6 0 1 0 -1.2 0M459.86 216.07a0.6 0.6 0 1 0 1.2 0a0.6 0.6 0 1 0 -1.2 0M459.86 222.61a0.6 0.6 0 1 0 1.2 0a0.6 0.6 0 1 0 -1.2 0M459.86 229.16a0.6 0.6 0 1 0 1.2 0a0.6 0.6 0 1 0 -1.2 0M459.86 235.7a0.6 0.6 0 1 0 1.2 0a0.6 0.6 0 1 0 -1.2 0M470.19 144.1a0.6 0.6 0 1 0 1.2 0a0.6 0.6 0 1 0 -1.2 0M470.19 150.64a0.6 0.6 0 1 0 1.2 0a0.6 0.6 0 1 0 -1.2 0M470.19 157.19a0.6 0.6 0 1 0 1.2 0a0.6 0.6 0 1 0 -1.2 0M470.19 163.73a0.6 0.6 0 1 0 1.2 0a0.6 0.6 0 1 0 -1.2 0M470.19 170.27a0.6 0.6 0 1 0 1.2 0a0.6 0.6 0 1 0 -1.2 0M470.19 176.81a0.6 0.6 0 1 0 1.2 0a0.6 0.6 0 1 0 -1.2 0M470.19 183.36a0.6 0.6 0 1 0 1.2 0a0.6 0.6 0 1 0 -1.2 0M470.19 189.9a0.6 0.6 0 1 0 1.2 0a0.6 0.6 0 1 0 -1.2 0M470.19 196.44a0.6 0.6 0 1 0 1.2 0a0.6 0.6 0 1 0 -1.2 0M470.19 202.99a0.6 0.6 0 1 0 1.2 0a0.6 0.6 0 1 0 -1.2 0M470.19 209.53a0.6 0.6 0 1 0 1.2 0a0.6 0.6 0 1 0 -1.2 0M470.19 216.07a0.6 0.6 0 1 0 1.2 0a0.6 0.6 0 1 0 -1.2 0M470.19 222.61a0.6 0.6 0 1 0 1.2 0a0.6 0.6 0 1 0 -1.2 0M470.19 229.16a0.6 0.6 0 1 0 1.2 0a0.6 0.6 0 1 0 -1.2 0M470.19 235.7a0.6 0.6 0 1 0 1.2 0a0.6 0.6 0 1 0 -1.2 0M480.53 144.1a0.6 0.6 0 1 0 1.2 0a0.6 0.6 0 1 0 -1.2 0M480.53 150.64a0.6 0.6 0 1 0 1.2 0a0.6 0.6 0 1 0 -1.2 0M480.53 157.19a0.6 0.6 0 1 0 1.2 0a0.6 0.6 0 1 0 -1.2 0M480.53 163.73a0.6 0.6 0 1 0 1.2 0a0.6 0.6 0 1 0 -1.2 0M480.53 170.27a0.6 0.6 0 1 0 1.2 0a0.6 0.6 0 1 0 -1.2 0M480.53 176.81a0.6 0.6 0 1 0 1.2 0a0.6 0.6 0 1 0 -1.2 0M480.53 183.36a0.6 0.6 0 1 0 1.2 0a0.6 0.6 0 1 0 -1.2 0M480.53 189.9a0.6 0.6 0 1 0 1.2 0a0.6 0.6 0 1 0 -1.2 0M480.53 196.44a0.6 0.6 0 1 0 1.2 0a0.6 0.6 0 1 0 -1.2 0M480.53 202.99a0.6 0.6 0 1 0 1.2 0a0.6 0.6 0 1 0 -1.2 0M480.53 209.53a0.6 0.6 0 1 0 1.2 0a0.6 0.6 0 1 0 -1.2 0M480.53 216.07a0.6 0.6 0 1 0 1.2 0a0.6 0.6 0 1 0 -1.2 0M480.53 222.61a0.6 0.6 0 1 0 1.2 0a0.6 0.6 0 1 0 -1.2 0M480.53 229.16a0.6 0.6 0 1 0 1.2 0a0.6 0.6 0 1 0 -1.2 0M480.53 235.7a0.6 0.6 0 1 0 1.2 0a0.6 0.6 0 1 0 -1.2 0M490.86 144.1a0.6 0.6 0 1 0 1.2 0a0.6 0.6 0 1 0 -1.2 0M490.86 150.64a0.6 0.6 0 1 0 1.2 0a0.6 0.6 0 1 0 -1.2 0M490.86 157.19a0.6 0.6 0 1 0 1.2 0a0.6 0.6 0 1 0 -1.2 0M490.86 163.73a0.6 0.6 0 1 0 1.2 0a0.6 0.6 0 1 0 -1.2 0M490.86 170.27a0.6 0.6 0 1 0 1.2 0a0.6 0.6 0 1 0 -1.2 0M490.86 176.81a0.6 0.6 0 1 0 1.2 0a0.6 0.6 0 1 0 -1.2 0M490.86 183.36a0.6 0.6 0 1 0 1.2 0a0.6 0.6 0 1 0 -1.2 0M490.86 189.9a0.6 0.6 0 1 0 1.2 0a0.6 0.6 0 1 0 -1.2 0M490.86 196.44a0.6 0.6 0 1 0 1.2 0a0.6 0.6 0 1 0 -1.2 0M490.86 202.99a0.6 0.6 0 1 0 1.2 0a0.6 0.6 0 1 0 -1.2 0M490.86 209.53a0.6 0.6 0 1 0 1.2 0a0.6 0.6 0 1 0 -1.2 0M490.86 216.07a0.6 0.6 0 1 0 1.2 0a0.6 0.6 0 1 0 -1.2 0M490.86 222.61a0.6 0.6 0 1 0 1.2 0a0.6 0.6 0 1 0 -1.2 0M490.86 229.16a0.6 0.6 0 1 0 1.2 0a0.6 0.6 0 1 0 -1.2 0M490.86 235.7a0.6 0.6 0 1 0 1.2 0a0.6 0.6 0 1 0 -1.2 0M501.2 144.1a0.6 0.6 0 1 0 1.2 0a0.6 0.6 0 1 0 -1.2 0M501.2 150.64a0.6 0.6 0 1 0 1.2 0a0.6 0.6 0 1 0 -1.2 0M501.2 157.19a0.6 0.6 0 1 0 1.2 0a0.6 0.6 0 1 0 -1.2 0M501.2 163.73a0.6 0.6 0 1 0 1.2 0a0.6 0.6 0 1 0 -1.2 0M501.2 170.27a0.6 0.6 0 1 0 1.2 0a0.6 0.6 0 1 0 -1.2 0M501.2 176.81a0.6 0.6 0 1 0 1.2 0a0.6 0.6 0 1 0 -1.2 0M501.2 183.36a0.6 0.6 0 1 0 1.2 0a0.6 0.6 0 1 0 -1.2 0M501.2 189.9a0.6 0.6 0 1 0 1.2 0a0.6 0.6 0 1 0 -1.2 0M501.2 196.44a0.6 0.6 0 1 0 1.2 0a0.6 0.6 0 1 0 -1.2 0M501.2 202.99a0.6 0.6 0 1 0 1.2 0a0.6 0.6 0 1 0 -1.2 0M501.2 209.53a0.6 0.6 0 1 0 1.2 0a0.6 0.6 0 1 0 -1.2 0M501.2 216.07a0.6 0.6 0 1 0 1.2 0a0.6 0.6 0 1 0 -1.2 0M501.2 222.61a0.6 0.6 0 1 0 1.2 0a0.6 0.6 0 1 0 -1.2 0M501.2 229.16a0.6 0.6 0 1 0 1.2 0a0.6 0.6 0 1 0 -1.2 0M501.2 235.7a0.6 0.6 0 1 0 1.2 0a0.6 0.6 0 1 0 -1.2 0" fill="#1a1a1a" fill-opacity="0.8"/>
<path d="M353 141.7V238.1H505.9" stroke="#8c8c8c" stroke-width="1.1" fill="none"/>
<path d="M357.1 238.1v3.3M353 235.7h-3.3M398.44 238.1v3.3M353 209.53h-3.3M439.79 238.1v3.3M353 183.36h-3.3M481.13 238.1v3.3M353 157.19h-3.3" stroke="#8c8c8c" stroke-width="1" fill="none"/>
<text x="357.1" y="250.4" font-size="7.4" text-anchor="middle" textLength="10" lengthAdjust="spacingAndGlyphs">1.0</text>
<text x="398.44" y="250.4" font-size="7.4" text-anchor="middle" textLength="10" lengthAdjust="spacingAndGlyphs">1.2</text>
<text x="439.79" y="250.4" font-size="7.4" text-anchor="middle" textLength="10" lengthAdjust="spacingAndGlyphs">1.4</text>
<text x="481.13" y="250.4" font-size="7.4" text-anchor="middle" textLength="10" lengthAdjust="spacingAndGlyphs">1.6</text>
<text x="429.45" y="135.8" font-size="7.6" text-anchor="middle" textLength="41.5" lengthAdjust="spacingAndGlyphs">M6 (0, 0.5)</text>
<path d="M45.2 25L47.7 30L42.7 30Z" fill="#ffffff" stroke="#111" stroke-width="0.75" stroke-linejoin="miter"/>
<path d="M50 28.8L52.5 33.8L47.5 33.8Z" fill="#ffffff" stroke="#111" stroke-width="0.75" stroke-linejoin="miter"/>
<path d="M60.7 28.8L63.2 33.8L58.2 33.8Z" fill="#ffffff" stroke="#111" stroke-width="0.75" stroke-linejoin="miter"/>
<path d="M65.3 28.8L67.8 33.8L62.8 33.8Z" fill="#ffffff" stroke="#111" stroke-width="0.75" stroke-linejoin="miter"/>
<path d="M79.4 21.4L81.9 26.4L76.9 26.4Z" fill="#ffffff" stroke="#111" stroke-width="0.75" stroke-linejoin="miter"/>
<path d="M41.7 34.9L44.2 39.9L39.2 39.9Z" fill="#ffffff" stroke="#111" stroke-width="0.75" stroke-linejoin="miter"/>
<path d="M58.6 36L61.1 41L56.1 41Z" fill="#ffffff" stroke="#111" stroke-width="0.75" stroke-linejoin="miter"/>
<path d="M56.5 37.3L59 42.3L54 42.3Z" fill="#ffffff" stroke="#111" stroke-width="0.75" stroke-linejoin="miter"/>
<path d="M64.1 41.4L65.5 42.8L66.9 41.4L68.3 42.8L66.9 44.2L68.3 45.6L66.9 47L65.5 45.6L64.1 47L62.7 45.6L64.1 44.2L62.7 42.8Z" fill="#ffffff" stroke="#111" stroke-width="0.8" stroke-linejoin="miter"/>
<path d="M47.7 45.8L49.1 47.2L50.5 45.8L51.9 47.2L50.5 48.6L51.9 50L50.5 51.4L49.1 50L47.7 51.4L46.3 50L47.7 48.6L46.3 47.2Z" fill="#ffffff" stroke="#111" stroke-width="0.8" stroke-linejoin="miter"/>
<path d="M67.7 45L69.1 46.4L70.5 45L71.9 46.4L70.5 47.8L71.9 49.2L70.5 50.6L69.1 49.2L67.7 50.6L66.3 49.2L67.7 47.8L66.3 46.4Z" fill="#ffffff" stroke="#111" stroke-width="0.8" stroke-linejoin="miter"/>
<path d="M61.8 51.3L63.2 52.7L64.6 51.3L66 52.7L64.6 54.1L66 55.5L64.6 56.9L63.2 55.5L61.8 56.9L60.4 55.5L61.8 54.1L60.4 52.7Z" fill="#ffffff" stroke="#111" stroke-width="0.8" stroke-linejoin="miter"/>
<path d="M65.9 64.1L67.3 65.5L68.7 64.1L70.1 65.5L68.7 66.9L70.1 68.3L68.7 69.7L67.3 68.3L65.9 69.7L64.5 68.3L65.9 66.9L64.5 65.5Z" fill="#ffffff" stroke="#111" stroke-width="0.8" stroke-linejoin="miter"/>
<path d="M57.8 83.6L59.2 85L60.6 83.6L62 85L60.6 86.4L62 87.8L60.6 89.2L59.2 87.8L57.8 89.2L56.4 87.8L57.8 86.4L56.4 85Z" fill="#ffffff" stroke="#111" stroke-width="0.8" stroke-linejoin="miter"/>
<circle cx="52" cy="18.7" r="2.65" fill="#ffa500" stroke="#000" stroke-width="0.6"/>
<path d="M56.9 30.5L59.4 35.5L54.4 35.5Z" fill="#ff0000" stroke="#111" stroke-width="0.75" stroke-linejoin="miter"/>
<rect x="60.6" y="41.8" width="5.2" height="5.2" fill="#ff0000" stroke="#000" stroke-width="0.6"/>
<path d="M60.1 45L61.5 46.4L62.9 45L64.3 46.4L62.9 47.8L64.3 49.2L62.9 50.6L61.5 49.2L60.1 50.6L58.7 49.2L60.1 47.8L58.7 46.4Z" fill="#ff0000" stroke="#111" stroke-width="0.8" stroke-linejoin="miter"/>
<path d="M219.3 19.9L221.8 24.9L216.8 24.9Z" fill="#ffffff" stroke="#111" stroke-width="0.75" stroke-linejoin="miter"/>
<path d="M223.6 20.4L226.1 25.4L221.1 25.4Z" fill="#ffffff" stroke="#111" stroke-width="0.75" stroke-linejoin="miter"/>
<path d="M231.2 19.1L233.7 24.1L228.7 24.1Z" fill="#ffffff" stroke="#111" stroke-width="0.75" stroke-linejoin="miter"/>
<path d="M231.6 22.5L234.1 27.5L229.1 27.5Z" fill="#ffffff" stroke="#111" stroke-width="0.75" stroke-linejoin="miter"/>
<path d="M235.5 29.5L238 34.5L233 34.5Z" fill="#ffffff" stroke="#111" stroke-width="0.75" stroke-linejoin="miter"/>
<path d="M239.6 29.5L242.1 34.5L237.1 34.5Z" fill="#ffffff" stroke="#111" stroke-width="0.75" stroke-linejoin="miter"/>
<path d="M243.7 29.5L246.2 34.5L241.2 34.5Z" fill="#ffffff" stroke="#111" stroke-width="0.75" stroke-linejoin="miter"/>
<path d="M233.5 33.5L236 38.5L231 38.5Z" fill="#ffffff" stroke="#111" stroke-width="0.75" stroke-linejoin="miter"/>
<path d="M258.6 29.1L261.1 34.1L256.1 34.1Z" fill="#ffffff" stroke="#111" stroke-width="0.75" stroke-linejoin="miter"/>
<path d="M269.5 33.4L272 38.4L267 38.4Z" fill="#ffffff" stroke="#111" stroke-width="0.75" stroke-linejoin="miter"/>
<path d="M224.7 28.1L226.1 29.5L227.5 28.1L228.9 29.5L227.5 30.9L228.9 32.3L227.5 33.7L226.1 32.3L224.7 33.7L223.3 32.3L224.7 30.9L223.3 29.5Z" fill="#ffffff" stroke="#111" stroke-width="0.8" stroke-linejoin="miter"/>
<path d="M208.6 37.6L210 39L211.4 37.6L212.8 39L211.4 40.4L212.8 41.8L211.4 43.2L210 41.8L208.6 43.2L207.2 41.8L208.6 40.4L207.2 39Z" fill="#ffffff" stroke="#111" stroke-width="0.8" stroke-linejoin="miter"/>
<path d="M240 35.2L241.4 36.6L242.8 35.2L244.2 36.6L242.8 38L244.2 39.4L242.8 40.8L241.4 39.4L240 40.8L238.6 39.4L240 38L238.6 36.6Z" fill="#ffffff" stroke="#111" stroke-width="0.8" stroke-linejoin="miter"/>
<path d="M242.3 52.9L243.7 54.3L245.1 52.9L246.5 54.3L245.1 55.7L246.5 57.1L245.1 58.5L243.7 57.1L242.3 58.5L240.9 57.1L242.3 55.7L240.9 54.3Z" fill="#ffffff" stroke="#111" stroke-width="0.8" stroke-linejoin="miter"/>
<path d="M229.1 39.4L230.5 40.8L231.9 39.4L233.3 40.8L231.9 42.2L233.3 43.6L231.9 45L230.5 43.6L229.1 45L227.7 43.6L229.1 42.2L227.7 40.8Z" fill="#ffffff" stroke="#111" stroke-width="0.8" stroke-linejoin="miter"/>
<rect x="222.2" y="16" width="5.2" height="5.2" fill="#ff0000" stroke="#000" stroke-width="0.6"/>
<path d="M226 16.7L227.4 18.1L228.8 16.7L230.2 18.1L228.8 19.5L230.2 20.9L228.8 22.3L227.4 20.9L226 22.3L224.6 20.9L226 19.5L224.6 18.1Z" fill="#ff0000" stroke="#111" stroke-width="0.8" stroke-linejoin="miter"/>
<circle cx="230.5" cy="39.5" r="2.65" fill="#ffa500" stroke="#000" stroke-width="0.6"/>
<path d="M230.6 34.8L233.1 39.8L228.1 39.8Z" fill="#ff0000" stroke="#111" stroke-width="0.75" stroke-linejoin="miter"/>
<path d="M404.9 25.8L406.3 27.2L407.7 25.8L409.1 27.2L407.7 28.6L409.1 30L407.7 31.4L406.3 30L404.9 31.4L403.5 30L404.9 28.6L403.5 27.2Z" fill="#ffffff" stroke="#111" stroke-width="0.8" stroke-linejoin="miter"/>
<path d="M377.1 16.4L379.6 21.4L374.6 21.4Z" fill="#ffffff" stroke="#111" stroke-width="0.75" stroke-linejoin="miter"/>
<path d="M384.2 16.4L386.7 21.4L381.7 21.4Z" fill="#ffffff" stroke="#111" stroke-width="0.75" stroke-linejoin="miter"/>
<path d="M397 17L399.5 22L394.5 22Z" fill="#ffffff" stroke="#111" stroke-width="0.75" stroke-linejoin="miter"/>
<path d="M401 17.3L403.5 22.3L398.5 22.3Z" fill="#ffffff" stroke="#111" stroke-width="0.75" stroke-linejoin="miter"/>
<path d="M418.5 16.8L421 21.8L416 21.8Z" fill="#ffffff" stroke="#111" stroke-width="0.75" stroke-linejoin="miter"/>
<path d="M394.1 16.7L395.5 18.1L396.9 16.7L398.3 18.1L396.9 19.5L398.3 20.9L396.9 22.3L395.5 20.9L394.1 22.3L392.7 20.9L394.1 19.5L392.7 18.1Z" fill="#ffffff" stroke="#111" stroke-width="0.8" stroke-linejoin="miter"/>
<path d="M398.1 17.2L399.5 18.6L400.9 17.2L402.3 18.6L400.9 20L402.3 21.4L400.9 22.8L399.5 21.4L398.1 22.8L396.7 21.4L398.1 20L396.7 18.6Z" fill="#ffffff" stroke="#111" stroke-width="0.8" stroke-linejoin="miter"/>
<path d="M403 20.1L404.4 21.5L405.8 20.1L407.2 21.5L405.8 22.9L407.2 24.3L405.8 25.7L404.4 24.3L403 25.7L401.6 24.3L403 22.9L401.6 21.5Z" fill="#ffffff" stroke="#111" stroke-width="0.8" stroke-linejoin="miter"/>
<path d="M407.5 22.7L410 27.7L405 27.7Z" fill="#ffffff" stroke="#111" stroke-width="0.75" stroke-linejoin="miter"/>
<path d="M420.4 26.8L421.8 28.2L423.2 26.8L424.6 28.2L423.2 29.6L424.6 31L423.2 32.4L421.8 31L420.4 32.4L419 31L420.4 29.6L419 28.2Z" fill="#ffffff" stroke="#111" stroke-width="0.8" stroke-linejoin="miter"/>
<path d="M402.4 16.4L403.8 17.8L405.2 16.4L406.6 17.8L405.2 19.2L406.6 20.6L405.2 22L403.8 20.6L402.4 22L401 20.6L402.4 19.2L401 17.8Z" fill="#ff0000" stroke="#111" stroke-width="0.8" stroke-linejoin="miter"/>
<path d="M406.3 17L408.8 22L403.8 22Z" fill="#ff0000" stroke="#111" stroke-width="0.75" stroke-linejoin="miter"/>
<circle cx="409.1" cy="31.7" r="2.65" fill="#ffa500" stroke="#000" stroke-width="0.6"/>
<path d="M50.2 141.3L51.6 142.7L53 141.3L54.4 142.7L53 144.1L54.4 145.5L53 146.9L51.6 145.5L50.2 146.9L48.8 145.5L50.2 144.1L48.8 142.7Z" fill="#ffffff" stroke="#111" stroke-width="0.8" stroke-linejoin="miter"/>
<path d="M67.9 144.3L69.3 145.7L70.7 144.3L72.1 145.7L70.7 147.1L72.1 148.5L70.7 149.9L69.3 148.5L67.9 149.9L66.5 148.5L67.9 147.1L66.5 145.7Z" fill="#ffffff" stroke="#111" stroke-width="0.8" stroke-linejoin="miter"/>
<path d="M65.4 147.4L66.8 148.8L68.2 147.4L69.6 148.8L68.2 150.2L69.6 151.6L68.2 153L66.8 151.6L65.4 153L64 151.6L65.4 150.2L64 148.8Z" fill="#ffffff" stroke="#111" stroke-width="0.8" stroke-linejoin="miter"/>
<path d="M64.4 149.9L65.8 151.3L67.2 149.9L68.6 151.3L67.2 152.7L68.6 154.1L67.2 155.5L65.8 154.1L64.4 155.5L63 154.1L64.4 152.7L63 151.3Z" fill="#ffffff" stroke="#111" stroke-width="0.8" stroke-linejoin="miter"/>
<path d="M67.4 153.9L68.8 155.3L70.2 153.9L71.6 155.3L70.2 156.7L71.6 158.1L70.2 159.5L68.8 158.1L67.4 159.5L66 158.1L67.4 156.7L66 155.3Z" fill="#ffffff" stroke="#111" stroke-width="0.8" stroke-linejoin="miter"/>
<path d="M60.3 158L61.7 159.4L63.1 158L64.5 159.4L63.1 160.8L64.5 162.2L63.1 163.6L61.7 162.2L60.3 163.6L58.9 162.2L60.3 160.8L58.9 159.4Z" fill="#ffffff" stroke="#111" stroke-width="0.8" stroke-linejoin="miter"/>
<path d="M74 177.4L75.4 178.8L76.8 177.4L78.2 178.8L76.8 180.2L78.2 181.6L76.8 183L75.4 181.6L74 183L72.6 181.6L74 180.2L72.6 178.8Z" fill="#ffffff" stroke="#111" stroke-width="0.8" stroke-linejoin="miter"/>
<path d="M72.4 181L73.8 182.4L75.2 181L76.6 182.4L75.2 183.8L76.6 185.2L75.2 186.6L73.8 185.2L72.4 186.6L71 185.2L72.4 183.8L71 182.4Z" fill="#ffffff" stroke="#111" stroke-width="0.8" stroke-linejoin="miter"/>
<path d="M71.4 157.3L73.9 162.3L68.9 162.3Z" fill="#ffffff" stroke="#111" stroke-width="0.75" stroke-linejoin="miter"/>
<path d="M73.9 163.7L76.4 168.7L71.4 168.7Z" fill="#ffffff" stroke="#111" stroke-width="0.75" stroke-linejoin="miter"/>
<path d="M58.6 179.7L61.1 184.7L56.1 184.7Z" fill="#ffffff" stroke="#111" stroke-width="0.75" stroke-linejoin="miter"/>
<path d="M75.4 184.3L77.9 189.3L72.9 189.3Z" fill="#ffffff" stroke="#111" stroke-width="0.75" stroke-linejoin="miter"/>
<path d="M70.8 187.3L73.3 192.3L68.3 192.3Z" fill="#ffffff" stroke="#111" stroke-width="0.75" stroke-linejoin="miter"/>
<path d="M91.6 179.7L94.1 184.7L89.1 184.7Z" fill="#ffffff" stroke="#111" stroke-width="0.75" stroke-linejoin="miter"/>
<rect x="61" y="141.8" width="5.2" height="5.2" fill="#ff0000" stroke="#000" stroke-width="0.6"/>
<circle cx="61.5" cy="144.4" r="2.65" fill="#ffa500" stroke="#000" stroke-width="0.6"/>
<path d="M63.8 141.6L65.2 143L66.6 141.6L68 143L66.6 144.4L68 145.8L66.6 147.2L65.2 145.8L63.8 147.2L62.4 145.8L63.8 144.4L62.4 143Z" fill="#ff0000" stroke="#111" stroke-width="0.8" stroke-linejoin="miter"/>
<path d="M69.8 179.9L72.3 184.9L67.3 184.9Z" fill="#ff0000" stroke="#111" stroke-width="0.75" stroke-linejoin="miter"/>
<path d="M213.2 143L215.7 148L210.7 148Z" fill="#ffffff" stroke="#111" stroke-width="0.75" stroke-linejoin="miter"/>
<path d="M237.4 146.2L239.9 151.2L234.9 151.2Z" fill="#ffffff" stroke="#111" stroke-width="0.75" stroke-linejoin="miter"/>
<path d="M238 149.6L240.5 154.6L235.5 154.6Z" fill="#ffffff" stroke="#111" stroke-width="0.75" stroke-linejoin="miter"/>
<path d="M251.9 142.5L254.4 147.5L249.4 147.5Z" fill="#ffffff" stroke="#111" stroke-width="0.75" stroke-linejoin="miter"/>
<path d="M255.7 142.5L258.2 147.5L253.2 147.5Z" fill="#ffffff" stroke="#111" stroke-width="0.75" stroke-linejoin="miter"/>
<path d="M256.8 157.2L259.3 162.2L254.3 162.2Z" fill="#ffffff" stroke="#111" stroke-width="0.75" stroke-linejoin="miter"/>
<path d="M221 145.5L222.4 146.9L223.8 145.5L225.2 146.9L223.8 148.3L225.2 149.7L223.8 151.1L222.4 149.7L221 151.1L219.6 149.7L221 148.3L219.6 146.9Z" fill="#ffffff" stroke="#111" stroke-width="0.8" stroke-linejoin="miter"/>
<path d="M241.8 145.9L243.2 147.3L244.6 145.9L246 147.3L244.6 148.7L246 150.1L244.6 151.5L243.2 150.1L241.8 151.5L240.4 150.1L241.8 148.7L240.4 147.3Z" fill="#ffffff" stroke="#111" stroke-width="0.8" stroke-linejoin="miter"/>
<path d="M245.6 156.4L247 157.8L248.4 156.4L249.8 157.8L248.4 159.2L249.8 160.6L248.4 162L247 160.6L245.6 162L244.2 160.6L245.6 159.2L244.2 157.8Z" fill="#ffffff" stroke="#111" stroke-width="0.8" stroke-linejoin="miter"/>
<path d="M257.5 188.5L258.9 189.9L260.3 188.5L261.7 189.9L260.3 191.3L261.7 192.7L260.3 194.1L258.9 192.7L257.5 194.1L256.1 192.7L257.5 191.3L256.1 189.9Z" fill="#ffffff" stroke="#111" stroke-width="0.8" stroke-linejoin="miter"/>
<path d="M240.4 142.2L241.8 143.6L243.2 142.2L244.6 143.6L243.2 145L244.6 146.4L243.2 147.8L241.8 146.4L240.4 147.8L239 146.4L240.4 145L239 143.6Z" fill="#ffffff" stroke="#111" stroke-width="0.8" stroke-linejoin="miter"/>
<path d="M241.2 142.2L242.6 143.6L244 142.2L245.4 143.6L244 145L245.4 146.4L244 147.8L242.6 146.4L241.2 147.8L239.8 146.4L241.2 145L239.8 143.6Z" fill="#ffffff" stroke="#111" stroke-width="0.8" stroke-linejoin="miter"/>
<path d="M239.2 141.8L240.6 143.2L242 141.8L243.4 143.2L242 144.6L243.4 146L242 147.4L240.6 146L239.2 147.4L237.8 146L239.2 144.6L237.8 143.2Z" fill="#ff0000" stroke="#111" stroke-width="0.8" stroke-linejoin="miter"/>
<rect x="235.8" y="142" width="5.2" height="5.2" fill="#ff0000" stroke="#000" stroke-width="0.6"/>
<path d="M237.4 142.4L239.9 147.4L234.9 147.4Z" fill="#ff0000" stroke="#111" stroke-width="0.75" stroke-linejoin="miter"/>
<circle cx="240.5" cy="157.4" r="2.65" fill="#ffa500" stroke="#000" stroke-width="0.6"/>
<path d="M404.3 153.1L405.7 154.5L407.1 153.1L408.5 154.5L407.1 155.9L408.5 157.3L407.1 158.7L405.7 157.3L404.3 158.7L402.9 157.3L404.3 155.9L402.9 154.5Z" fill="#ffffff" stroke="#111" stroke-width="0.8" stroke-linejoin="miter"/>
<path d="M407.2 160.8L408.6 162.2L410 160.8L411.4 162.2L410 163.6L411.4 165L410 166.4L408.6 165L407.2 166.4L405.8 165L407.2 163.6L405.8 162.2Z" fill="#ffffff" stroke="#111" stroke-width="0.8" stroke-linejoin="miter"/>
<path d="M401.9 163.7L403.3 165.1L404.7 163.7L406.1 165.1L404.7 166.5L406.1 167.9L404.7 169.3L403.3 167.9L401.9 169.3L400.5 167.9L401.9 166.5L400.5 165.1Z" fill="#ffffff" stroke="#111" stroke-width="0.8" stroke-linejoin="miter"/>
<path d="M401.7 167.9L403.1 169.3L404.5 167.9L405.9 169.3L404.5 170.7L405.9 172.1L404.5 173.5L403.1 172.1L401.7 173.5L400.3 172.1L401.7 170.7L400.3 169.3Z" fill="#ffffff" stroke="#111" stroke-width="0.8" stroke-linejoin="miter"/>
<path d="M402.9 172L404.3 173.4L405.7 172L407.1 173.4L405.7 174.8L407.1 176.2L405.7 177.6L404.3 176.2L402.9 177.6L401.5 176.2L402.9 174.8L401.5 173.4Z" fill="#ffffff" stroke="#111" stroke-width="0.8" stroke-linejoin="miter"/>
<path d="M397.3 174.4L398.7 175.8L400.1 174.4L401.5 175.8L400.1 177.2L401.5 178.6L400.1 180L398.7 178.6L397.3 180L395.9 178.6L397.3 177.2L395.9 175.8Z" fill="#ffffff" stroke="#111" stroke-width="0.8" stroke-linejoin="miter"/>
<path d="M407.6 178.5L409 179.9L410.4 178.5L411.8 179.9L410.4 181.3L411.8 182.7L410.4 184.1L409 182.7L407.6 184.1L406.2 182.7L407.6 181.3L406.2 179.9Z" fill="#ffffff" stroke="#111" stroke-width="0.8" stroke-linejoin="miter"/>
<path d="M397.5 181.5L398.9 182.9L400.3 181.5L401.7 182.9L400.3 184.3L401.7 185.7L400.3 187.1L398.9 185.7L397.5 187.1L396.1 185.7L397.5 184.3L396.1 182.9Z" fill="#ffffff" stroke="#111" stroke-width="0.8" stroke-linejoin="miter"/>
<path d="M394.3 188.9L395.7 190.3L397.1 188.9L398.5 190.3L397.1 191.7L398.5 193.1L397.1 194.5L395.7 193.1L394.3 194.5L392.9 193.1L394.3 191.7L392.9 190.3Z" fill="#ffffff" stroke="#111" stroke-width="0.8" stroke-linejoin="miter"/>
<path d="M400.3 159.4L402.8 164.4L397.8 164.4Z" fill="#ffffff" stroke="#111" stroke-width="0.75" stroke-linejoin="miter"/>
<path d="M385.9 178.2L388.4 183.2L383.4 183.2Z" fill="#ffffff" stroke="#111" stroke-width="0.75" stroke-linejoin="miter"/>
<path d="M433.5 142L436 147L431 147Z" fill="#ffffff" stroke="#111" stroke-width="0.75" stroke-linejoin="miter"/>
<path d="M446 142L448.5 147L443.5 147Z" fill="#ffffff" stroke="#111" stroke-width="0.75" stroke-linejoin="miter"/>
<rect x="396.2" y="141.9" width="5.2" height="5.2" fill="#ff0000" stroke="#000" stroke-width="0.6"/>
<circle cx="397.9" cy="144" r="2.65" fill="#ffa500" stroke="#000" stroke-width="0.6"/>
<path d="M400.3 142.5L402.8 147.5L397.8 147.5Z" fill="#ff0000" stroke="#111" stroke-width="0.75" stroke-linejoin="miter"/>
<path d="M398.9 153.6L400.3 155L401.7 153.6L403.1 155L401.7 156.4L403.1 157.8L401.7 159.2L400.3 157.8L398.9 159.2L397.5 157.8L398.9 156.4L397.5 155Z" fill="#ff0000" stroke="#111" stroke-width="0.8" stroke-linejoin="miter"/>
<rect x="512.6" y="240.44" width="5.6" height="22.96" fill="#4f0c76"/>
<rect x="512.6" y="217.78" width="5.6" height="22.96" fill="#473093"/>
<rect x="512.6" y="195.12" width="5.6" height="22.96" fill="#34529c"/>
<rect x="512.6" y="172.46" width="5.6" height="22.96" fill="#21709d"/>
<rect x="512.6" y="149.8" width="5.6" height="22.96" fill="#118c99"/>
<rect x="512.6" y="127.14" width="5.6" height="22.96" fill="#04a88f"/>
<rect x="512.6" y="104.48" width="5.6" height="22.96" fill="#15c279"/>
<rect x="512.6" y="81.82" width="5.6" height="22.96" fill="#4bd650"/>
<rect x="512.6" y="59.16" width="5.6" height="22.96" fill="#93e418"/>
<rect x="512.6" y="36.5" width="5.6" height="22.96" fill="#e5ea00"/>
<path d="M512.6 37.1L515.4 25.4L518.2 37.1Z" fill="#ffec00"/>
<path d="M512.6 263.4V36.8L515.4 25.4L518.2 36.8V263.4Z" fill="none" stroke="#3a3a3a" stroke-width="0.6"/>
<text x="524.7" y="266.8" font-size="7.5" textLength="3.9" lengthAdjust="spacingAndGlyphs">0</text>
<text x="524.7" y="221.48" font-size="7.5" textLength="7.9" lengthAdjust="spacingAndGlyphs">20</text>
<text x="524.7" y="176.16" font-size="7.5" textLength="7.9" lengthAdjust="spacingAndGlyphs">40</text>
<text x="524.7" y="130.84" font-size="7.5" textLength="7.9" lengthAdjust="spacingAndGlyphs">60</text>
<text x="524.7" y="85.52" font-size="7.5" textLength="7.9" lengthAdjust="spacingAndGlyphs">80</text>
<text x="524.7" y="40.2" font-size="7.5" textLength="11.8" lengthAdjust="spacingAndGlyphs">100</text>
<path d="M518.2 263.4h3M518.2 218.08h3M518.2 172.76h3M518.2 127.44h3M518.2 82.12h3M518.2 36.8h3" stroke="#3a3a3a" stroke-width="0.7" fill="none"/>
<text transform="translate(547.2 202) rotate(-90)" font-size="7.6" textLength="115.8" lengthAdjust="spacingAndGlyphs">Value of the objective function</text>
<g transform="translate(12.3 0) rotate(-90)"><text x="-249.2" y="0.6" font-size="7.4" font-style="italic" style="font-family:DejaVu Serif,serif">σ</text><text x="-242.4" y="1.0" font-size="6.0" textLength="23.4" lengthAdjust="spacingAndGlyphs">OTHER</text><text x="-216.6" y="0" font-size="7.6" textLength="211.5" lengthAdjust="spacingAndGlyphs">(Young's modulus adjustment factor of other elements)</text></g>
<text x="137.7" y="261.9" font-size="7.4" font-style="italic" style="font-family:DejaVu Serif,serif">σ</text><text x="142.6" y="262.6" font-size="6.0" textLength="12.1" lengthAdjust="spacingAndGlyphs">IMG</text><text x="160.1" y="261.6" font-size="7.6" textLength="243.9" lengthAdjust="spacingAndGlyphs">(Young's modulus adjustment factor of EMG and IMG elements)</text>
<rect x="149.3" y="268.5" width="231.1" height="23.1" rx="1.6" fill="#fff" fill-opacity="0.8" stroke="#d4d4d4" stroke-width="0.8"/>
<circle cx="159.5" cy="274.7" r="2.65" fill="#ffa500" stroke="#000" stroke-width="0.6"/>
<rect x="156.9" y="282.7" width="5.2" height="5.2" fill="#ff0000" stroke="#000" stroke-width="0.6"/>
<path d="M248.7 271.9L250.1 273.3L251.5 271.9L252.9 273.3L251.5 274.7L252.9 276.1L251.5 277.5L250.1 276.1L248.7 277.5L247.3 276.1L248.7 274.7L247.3 273.3Z" fill="#ffffff" stroke="#111" stroke-width="0.8" stroke-linejoin="miter"/>
<path d="M250.1 282.8L252.6 287.8L247.6 287.8Z" fill="#ffffff" stroke="#111" stroke-width="0.75" stroke-linejoin="miter"/>
<path d="M327 271.9L328.4 273.3L329.8 271.9L331.2 273.3L329.8 274.7L331.2 276.1L329.8 277.5L328.4 276.1L327 277.5L325.6 276.1L327 274.7L325.6 273.3Z" fill="#ff0000" stroke="#111" stroke-width="0.8" stroke-linejoin="miter"/>
<path d="M328.4 282.8L330.9 287.8L325.9 287.8Z" fill="#ff0000" stroke="#111" stroke-width="0.75" stroke-linejoin="miter"/>
<text x="172.4" y="277" font-size="7.4" textLength="55.6" lengthAdjust="spacingAndGlyphs">min(15x15 grid)</text>
<text x="172.4" y="287.6" font-size="7.4" textLength="48.6" lengthAdjust="spacingAndGlyphs">SLSQP (n=1)</text>
<text x="263.2" y="277" font-size="7.4" textLength="42.7" lengthAdjust="spacingAndGlyphs">PSO (n=10)</text>
<text x="263.2" y="287.6" font-size="7.4" textLength="39.1" lengthAdjust="spacingAndGlyphs">GA (n=10)</text>
<text x="341" y="277" font-size="7.4" textLength="35.6" lengthAdjust="spacingAndGlyphs">min(PSO)</text>
<text x="341" y="287.6" font-size="7.4" textLength="31" lengthAdjust="spacingAndGlyphs">min(GA)</text>
</svg></body></html>
